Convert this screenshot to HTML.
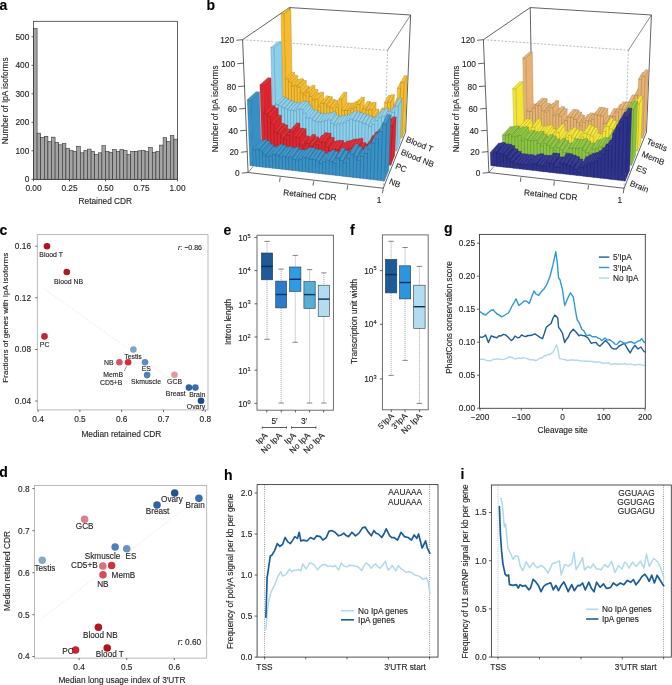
<!DOCTYPE html>
<html><head><meta charset="utf-8"><style>
html,body{margin:0;padding:0;background:#fff;}
svg{display:block;font-family:"Liberation Sans", sans-serif;will-change:transform;}
text{stroke:#231f20;stroke-width:0.13px;}
</style></head><body>
<svg width="672" height="685" viewBox="0 0 672 685">
<rect width="672" height="685" fill="#fff"/>
<text x="-0.50" y="10.20" font-size="14" text-anchor="start" fill="#000" font-weight="bold">a</text>
<rect x="33.50" y="28.25" width="3.60" height="151.05" fill="#a3a3a3" stroke="#2b2b2b" stroke-width="0.55"/>
<rect x="37.10" y="133.13" width="3.60" height="46.17" fill="#a3a3a3" stroke="#2b2b2b" stroke-width="0.55"/>
<rect x="40.70" y="137.41" width="3.60" height="41.89" fill="#a3a3a3" stroke="#2b2b2b" stroke-width="0.55"/>
<rect x="44.30" y="136.27" width="3.60" height="43.03" fill="#a3a3a3" stroke="#2b2b2b" stroke-width="0.55"/>
<rect x="47.90" y="141.40" width="3.60" height="37.90" fill="#a3a3a3" stroke="#2b2b2b" stroke-width="0.55"/>
<rect x="51.50" y="137.12" width="3.60" height="42.18" fill="#a3a3a3" stroke="#2b2b2b" stroke-width="0.55"/>
<rect x="55.10" y="142.25" width="3.60" height="37.05" fill="#a3a3a3" stroke="#2b2b2b" stroke-width="0.55"/>
<rect x="58.70" y="144.81" width="3.60" height="34.48" fill="#a3a3a3" stroke="#2b2b2b" stroke-width="0.55"/>
<rect x="62.30" y="143.39" width="3.60" height="35.91" fill="#a3a3a3" stroke="#2b2b2b" stroke-width="0.55"/>
<rect x="65.90" y="148.24" width="3.60" height="31.06" fill="#a3a3a3" stroke="#2b2b2b" stroke-width="0.55"/>
<rect x="69.50" y="150.52" width="3.60" height="28.78" fill="#a3a3a3" stroke="#2b2b2b" stroke-width="0.55"/>
<rect x="73.10" y="151.37" width="3.60" height="27.93" fill="#a3a3a3" stroke="#2b2b2b" stroke-width="0.55"/>
<rect x="76.70" y="146.24" width="3.60" height="33.06" fill="#a3a3a3" stroke="#2b2b2b" stroke-width="0.55"/>
<rect x="80.30" y="152.80" width="3.60" height="26.50" fill="#a3a3a3" stroke="#2b2b2b" stroke-width="0.55"/>
<rect x="83.90" y="150.52" width="3.60" height="28.78" fill="#a3a3a3" stroke="#2b2b2b" stroke-width="0.55"/>
<rect x="87.50" y="149.09" width="3.60" height="30.21" fill="#a3a3a3" stroke="#2b2b2b" stroke-width="0.55"/>
<rect x="91.10" y="151.37" width="3.60" height="27.93" fill="#a3a3a3" stroke="#2b2b2b" stroke-width="0.55"/>
<rect x="94.70" y="154.51" width="3.60" height="24.79" fill="#a3a3a3" stroke="#2b2b2b" stroke-width="0.55"/>
<rect x="98.30" y="152.80" width="3.60" height="26.50" fill="#a3a3a3" stroke="#2b2b2b" stroke-width="0.55"/>
<rect x="101.90" y="145.67" width="3.60" height="33.63" fill="#a3a3a3" stroke="#2b2b2b" stroke-width="0.55"/>
<rect x="105.50" y="151.37" width="3.60" height="27.93" fill="#a3a3a3" stroke="#2b2b2b" stroke-width="0.55"/>
<rect x="109.10" y="152.23" width="3.60" height="27.07" fill="#a3a3a3" stroke="#2b2b2b" stroke-width="0.55"/>
<rect x="112.70" y="149.52" width="3.60" height="29.78" fill="#a3a3a3" stroke="#2b2b2b" stroke-width="0.55"/>
<rect x="116.30" y="151.37" width="3.60" height="27.93" fill="#a3a3a3" stroke="#2b2b2b" stroke-width="0.55"/>
<rect x="119.90" y="149.52" width="3.60" height="29.78" fill="#a3a3a3" stroke="#2b2b2b" stroke-width="0.55"/>
<rect x="123.50" y="150.52" width="3.60" height="28.78" fill="#a3a3a3" stroke="#2b2b2b" stroke-width="0.55"/>
<rect x="127.10" y="154.51" width="3.60" height="24.79" fill="#a3a3a3" stroke="#2b2b2b" stroke-width="0.55"/>
<rect x="130.70" y="151.37" width="3.60" height="27.93" fill="#a3a3a3" stroke="#2b2b2b" stroke-width="0.55"/>
<rect x="134.30" y="151.37" width="3.60" height="27.93" fill="#a3a3a3" stroke="#2b2b2b" stroke-width="0.55"/>
<rect x="137.90" y="150.80" width="3.60" height="28.50" fill="#a3a3a3" stroke="#2b2b2b" stroke-width="0.55"/>
<rect x="141.50" y="150.52" width="3.60" height="28.78" fill="#a3a3a3" stroke="#2b2b2b" stroke-width="0.55"/>
<rect x="145.10" y="151.66" width="3.60" height="27.64" fill="#a3a3a3" stroke="#2b2b2b" stroke-width="0.55"/>
<rect x="148.70" y="147.49" width="3.60" height="31.81" fill="#a3a3a3" stroke="#2b2b2b" stroke-width="0.55"/>
<rect x="152.30" y="152.23" width="3.60" height="27.07" fill="#a3a3a3" stroke="#2b2b2b" stroke-width="0.55"/>
<rect x="155.90" y="151.37" width="3.60" height="27.93" fill="#a3a3a3" stroke="#2b2b2b" stroke-width="0.55"/>
<rect x="159.50" y="145.10" width="3.60" height="34.20" fill="#a3a3a3" stroke="#2b2b2b" stroke-width="0.55"/>
<rect x="163.10" y="137.69" width="3.60" height="41.61" fill="#a3a3a3" stroke="#2b2b2b" stroke-width="0.55"/>
<rect x="166.70" y="141.40" width="3.60" height="37.90" fill="#a3a3a3" stroke="#2b2b2b" stroke-width="0.55"/>
<rect x="170.30" y="135.41" width="3.60" height="43.89" fill="#a3a3a3" stroke="#2b2b2b" stroke-width="0.55"/>
<rect x="173.90" y="139.12" width="3.60" height="40.18" fill="#a3a3a3" stroke="#2b2b2b" stroke-width="0.55"/>
<rect x="33.50" y="21.30" width="144.00" height="158.00" fill="none" stroke="#3c3c3c" stroke-width="0.8"/>
<line x1="31.50" y1="179.30" x2="33.50" y2="179.30" stroke="#3c3c3c" stroke-width="0.8" stroke-linecap="butt"/>
<text x="29.30" y="182.20" font-size="8.3" text-anchor="end" fill="#231f20" font-weight="normal">0</text>
<line x1="31.50" y1="150.80" x2="33.50" y2="150.80" stroke="#3c3c3c" stroke-width="0.8" stroke-linecap="butt"/>
<text x="29.30" y="153.70" font-size="8.3" text-anchor="end" fill="#231f20" font-weight="normal">100</text>
<line x1="31.50" y1="122.30" x2="33.50" y2="122.30" stroke="#3c3c3c" stroke-width="0.8" stroke-linecap="butt"/>
<text x="29.30" y="125.20" font-size="8.3" text-anchor="end" fill="#231f20" font-weight="normal">200</text>
<line x1="31.50" y1="93.80" x2="33.50" y2="93.80" stroke="#3c3c3c" stroke-width="0.8" stroke-linecap="butt"/>
<text x="29.30" y="96.70" font-size="8.3" text-anchor="end" fill="#231f20" font-weight="normal">300</text>
<line x1="31.50" y1="65.30" x2="33.50" y2="65.30" stroke="#3c3c3c" stroke-width="0.8" stroke-linecap="butt"/>
<text x="29.30" y="68.20" font-size="8.3" text-anchor="end" fill="#231f20" font-weight="normal">400</text>
<line x1="31.50" y1="36.80" x2="33.50" y2="36.80" stroke="#3c3c3c" stroke-width="0.8" stroke-linecap="butt"/>
<text x="29.30" y="39.70" font-size="8.3" text-anchor="end" fill="#231f20" font-weight="normal">500</text>
<line x1="33.50" y1="179.30" x2="33.50" y2="181.30" stroke="#3c3c3c" stroke-width="0.8" stroke-linecap="butt"/>
<text x="33.50" y="190.90" font-size="8.3" text-anchor="middle" fill="#231f20" font-weight="normal">0.00</text>
<line x1="69.50" y1="179.30" x2="69.50" y2="181.30" stroke="#3c3c3c" stroke-width="0.8" stroke-linecap="butt"/>
<text x="69.50" y="190.90" font-size="8.3" text-anchor="middle" fill="#231f20" font-weight="normal">0.25</text>
<line x1="105.50" y1="179.30" x2="105.50" y2="181.30" stroke="#3c3c3c" stroke-width="0.8" stroke-linecap="butt"/>
<text x="105.50" y="190.90" font-size="8.3" text-anchor="middle" fill="#231f20" font-weight="normal">0.50</text>
<line x1="141.50" y1="179.30" x2="141.50" y2="181.30" stroke="#3c3c3c" stroke-width="0.8" stroke-linecap="butt"/>
<text x="141.50" y="190.90" font-size="8.3" text-anchor="middle" fill="#231f20" font-weight="normal">0.75</text>
<line x1="177.50" y1="179.30" x2="177.50" y2="181.30" stroke="#3c3c3c" stroke-width="0.8" stroke-linecap="butt"/>
<text x="177.50" y="190.90" font-size="8.3" text-anchor="middle" fill="#231f20" font-weight="normal">1.00</text>
<text x="105.30" y="203.60" font-size="8.3" text-anchor="middle" fill="#231f20" font-weight="normal">Retained CDR</text>
<text x="7.60" y="100.80" font-size="8.3" text-anchor="middle" fill="#231f20" font-weight="normal" transform="rotate(-90 7.60 100.80)">Number of IpA isoforms</text>
<text x="206.50" y="9.80" font-size="14" text-anchor="start" fill="#000" font-weight="bold">b</text>
<line x1="289.44" y1="7.57" x2="410.62" y2="14.99" stroke="#3c3c3c" stroke-width="0.8" stroke-linecap="butt"/>
<line x1="242.59" y1="39.68" x2="289.44" y2="7.57" stroke="#3c3c3c" stroke-width="0.8" stroke-linecap="butt"/>
<line x1="410.62" y1="14.99" x2="405.66" y2="132.03" stroke="#3c3c3c" stroke-width="0.8" stroke-linecap="butt"/>
<line x1="289.44" y1="7.57" x2="291.43" y2="120.83" stroke="#3c3c3c" stroke-width="0.8" stroke-linecap="butt"/>
<line x1="242.59" y1="39.68" x2="387.60" y2="50.24" stroke="#8a8a8a" stroke-width="0.6" stroke-dasharray="2,1.6" stroke-linecap="butt"/>
<line x1="387.60" y1="50.24" x2="383.25" y2="188.26" stroke="#8a8a8a" stroke-width="0.6" stroke-dasharray="2,1.6" stroke-linecap="butt"/>
<line x1="387.60" y1="50.24" x2="410.62" y2="14.99" stroke="#3c3c3c" stroke-width="0.6" stroke-linecap="butt"/>
<polygon points="286.29,126.59 292.68,118.99 290.81,8.83 283.99,13.56" fill="#f6bc2c" stroke="#99751b" stroke-width="0.32" stroke-linejoin="round"/>
<polygon points="283.44,126.31 286.29,126.59 283.99,13.56 280.97,13.37" fill="#f6bd30" stroke="#99751b" stroke-width="0.32" stroke-linejoin="round"/>
<polygon points="280.97,13.37 283.99,13.56 290.81,8.83 287.87,8.64" fill="#f7c039" stroke="#99751b" stroke-width="0.32" stroke-linejoin="round"/>
<polygon points="289.15,126.88 295.46,119.26 294.73,72.46 288.24,78.91" fill="#f6bc2c" stroke="#99751b" stroke-width="0.32" stroke-linejoin="round"/>
<polygon points="286.29,126.59 289.15,126.88 288.24,78.91 285.32,78.66" fill="#f6bd30" stroke="#99751b" stroke-width="0.32" stroke-linejoin="round"/>
<polygon points="285.32,78.66 288.24,78.91 294.73,72.46 291.88,72.23" fill="#f7c039" stroke="#99751b" stroke-width="0.32" stroke-linejoin="round"/>
<polygon points="292.01,127.16 298.25,119.53 297.63,75.53 291.23,82.06" fill="#f6bc2c" stroke="#99751b" stroke-width="0.32" stroke-linejoin="round"/>
<polygon points="289.15,126.88 292.01,127.16 291.23,82.06 288.30,81.81" fill="#f6bd30" stroke="#99751b" stroke-width="0.32" stroke-linejoin="round"/>
<polygon points="288.30,81.81 291.23,82.06 297.63,75.53 294.78,75.29" fill="#f7c039" stroke="#99751b" stroke-width="0.32" stroke-linejoin="round"/>
<polygon points="294.88,127.45 301.04,119.80 300.53,79.54 294.22,86.18" fill="#f6bc2c" stroke="#99751b" stroke-width="0.32" stroke-linejoin="round"/>
<polygon points="292.01,127.16 294.88,127.45 294.22,86.18 291.29,85.93" fill="#f6bd30" stroke="#99751b" stroke-width="0.32" stroke-linejoin="round"/>
<polygon points="291.29,85.93 294.22,86.18 300.53,79.54 297.68,79.30" fill="#f7c039" stroke="#99751b" stroke-width="0.32" stroke-linejoin="round"/>
<polygon points="297.75,127.74 303.84,120.08 303.38,78.84 297.14,85.47" fill="#f6bc2c" stroke="#99751b" stroke-width="0.32" stroke-linejoin="round"/>
<polygon points="294.88,127.45 297.75,127.74 297.14,85.47 294.21,85.21" fill="#f6bd30" stroke="#99751b" stroke-width="0.32" stroke-linejoin="round"/>
<polygon points="294.21,85.21 297.14,85.47 303.38,78.84 300.52,78.60" fill="#f7c039" stroke="#99751b" stroke-width="0.32" stroke-linejoin="round"/>
<polygon points="300.63,128.02 306.64,120.35 306.26,80.49 300.10,87.17" fill="#f6bc2c" stroke="#99751b" stroke-width="0.32" stroke-linejoin="round"/>
<polygon points="297.75,127.74 300.63,128.02 300.10,87.17 297.16,86.92" fill="#f6bd30" stroke="#99751b" stroke-width="0.32" stroke-linejoin="round"/>
<polygon points="297.16,86.92 300.10,87.17 306.26,80.49 303.40,80.25" fill="#f7c039" stroke="#99751b" stroke-width="0.32" stroke-linejoin="round"/>
<polygon points="303.51,128.31 309.45,120.62 309.17,86.09 303.11,92.92" fill="#f6bc2c" stroke="#99751b" stroke-width="0.32" stroke-linejoin="round"/>
<polygon points="300.63,128.02 303.51,128.31 303.11,92.92 300.17,92.66" fill="#f6bd30" stroke="#99751b" stroke-width="0.32" stroke-linejoin="round"/>
<polygon points="300.17,92.66 303.11,92.92 309.17,86.09 306.31,85.85" fill="#f7c039" stroke="#99751b" stroke-width="0.32" stroke-linejoin="round"/>
<polygon points="306.40,128.60 312.26,120.90 312.04,88.03 306.07,94.91" fill="#f6bc2c" stroke="#99751b" stroke-width="0.32" stroke-linejoin="round"/>
<polygon points="303.51,128.31 306.40,128.60 306.07,94.91 303.13,94.65" fill="#f6bd30" stroke="#99751b" stroke-width="0.32" stroke-linejoin="round"/>
<polygon points="303.13,94.65 306.07,94.91 312.04,88.03 309.18,87.78" fill="#f7c039" stroke="#99751b" stroke-width="0.32" stroke-linejoin="round"/>
<polygon points="309.29,128.89 315.08,121.17 314.89,85.46 308.99,92.29" fill="#f6bc2c" stroke="#99751b" stroke-width="0.32" stroke-linejoin="round"/>
<polygon points="306.40,128.60 309.29,128.89 308.99,92.29 306.04,92.03" fill="#f6bd30" stroke="#99751b" stroke-width="0.32" stroke-linejoin="round"/>
<polygon points="306.04,92.03 308.99,92.29 314.89,85.46 312.02,85.21" fill="#f7c039" stroke="#99751b" stroke-width="0.32" stroke-linejoin="round"/>
<polygon points="312.19,129.18 317.91,121.45 317.78,89.46 311.97,96.40" fill="#f6bc2c" stroke="#99751b" stroke-width="0.32" stroke-linejoin="round"/>
<polygon points="309.29,128.89 312.19,129.18 311.97,96.40 309.02,96.14" fill="#f6bd30" stroke="#99751b" stroke-width="0.32" stroke-linejoin="round"/>
<polygon points="309.02,96.14 311.97,96.40 317.78,89.46 314.91,89.21" fill="#f7c039" stroke="#99751b" stroke-width="0.32" stroke-linejoin="round"/>
<polygon points="315.09,129.47 320.73,121.72 320.67,92.99 314.94,100.02" fill="#f6bc2c" stroke="#99751b" stroke-width="0.32" stroke-linejoin="round"/>
<polygon points="312.19,129.18 315.09,129.47 314.94,100.02 311.99,99.76" fill="#f6bd30" stroke="#99751b" stroke-width="0.32" stroke-linejoin="round"/>
<polygon points="311.99,99.76 314.94,100.02 320.67,92.99 317.80,92.74" fill="#f7c039" stroke="#99751b" stroke-width="0.32" stroke-linejoin="round"/>
<polygon points="318.00,129.76 323.57,122.00 323.54,92.21 317.89,99.24" fill="#f6bc2c" stroke="#99751b" stroke-width="0.32" stroke-linejoin="round"/>
<polygon points="315.09,129.47 318.00,129.76 317.89,99.24 314.93,98.97" fill="#f6bd30" stroke="#99751b" stroke-width="0.32" stroke-linejoin="round"/>
<polygon points="314.93,98.97 317.89,99.24 323.54,92.21 320.67,91.96" fill="#f7c039" stroke="#99751b" stroke-width="0.32" stroke-linejoin="round"/>
<polygon points="320.92,130.06 326.41,122.27 326.42,99.56 320.87,106.78" fill="#f6bc2c" stroke="#99751b" stroke-width="0.32" stroke-linejoin="round"/>
<polygon points="318.00,129.76 320.92,130.06 320.87,106.78 317.92,106.51" fill="#f6bd30" stroke="#99751b" stroke-width="0.32" stroke-linejoin="round"/>
<polygon points="317.92,106.51 320.87,106.78 326.42,99.56 323.55,99.30" fill="#f7c039" stroke="#99751b" stroke-width="0.32" stroke-linejoin="round"/>
<polygon points="323.84,130.35 329.25,122.55 329.31,96.09 323.82,103.23" fill="#f6bc2c" stroke="#99751b" stroke-width="0.32" stroke-linejoin="round"/>
<polygon points="320.92,130.06 323.84,130.35 323.82,103.23 320.86,102.96" fill="#f6bd30" stroke="#99751b" stroke-width="0.32" stroke-linejoin="round"/>
<polygon points="320.86,102.96 323.82,103.23 329.31,96.09 326.43,95.83" fill="#f7c039" stroke="#99751b" stroke-width="0.32" stroke-linejoin="round"/>
<polygon points="326.77,130.64 332.10,122.83 332.20,96.72 326.79,103.88" fill="#f6bc2c" stroke="#99751b" stroke-width="0.32" stroke-linejoin="round"/>
<polygon points="323.84,130.35 326.77,130.64 326.79,103.88 323.82,103.61" fill="#f6bd30" stroke="#99751b" stroke-width="0.32" stroke-linejoin="round"/>
<polygon points="323.82,103.61 326.79,103.88 332.20,96.72 329.31,96.46" fill="#f7c039" stroke="#99751b" stroke-width="0.32" stroke-linejoin="round"/>
<polygon points="329.70,130.93 334.96,123.11 335.08,99.41 329.76,106.65" fill="#f6bc2c" stroke="#99751b" stroke-width="0.32" stroke-linejoin="round"/>
<polygon points="326.77,130.64 329.70,130.93 329.76,106.65 326.79,106.37" fill="#f6bd30" stroke="#99751b" stroke-width="0.32" stroke-linejoin="round"/>
<polygon points="326.79,106.37 329.76,106.65 335.08,99.41 332.19,99.15" fill="#f7c039" stroke="#99751b" stroke-width="0.32" stroke-linejoin="round"/>
<polygon points="332.64,131.23 337.82,123.38 337.97,100.60 332.73,107.88" fill="#f6bc2c" stroke="#99751b" stroke-width="0.32" stroke-linejoin="round"/>
<polygon points="329.70,130.93 332.64,131.23 332.73,107.88 329.76,107.60" fill="#f6bd30" stroke="#99751b" stroke-width="0.32" stroke-linejoin="round"/>
<polygon points="329.76,107.60 332.73,107.88 337.97,100.60 335.07,100.34" fill="#f7c039" stroke="#99751b" stroke-width="0.32" stroke-linejoin="round"/>
<polygon points="335.58,131.52 340.68,123.66 340.82,107.01 335.67,114.45" fill="#f6bc2c" stroke="#99751b" stroke-width="0.32" stroke-linejoin="round"/>
<polygon points="332.64,131.23 335.58,131.52 335.67,114.45 332.70,114.17" fill="#f6bd30" stroke="#99751b" stroke-width="0.32" stroke-linejoin="round"/>
<polygon points="332.70,114.17 335.67,114.45 340.82,107.01 337.93,106.74" fill="#f7c039" stroke="#99751b" stroke-width="0.32" stroke-linejoin="round"/>
<polygon points="338.53,131.82 343.55,123.94 343.78,100.19 338.70,107.47" fill="#f6bc2c" stroke="#99751b" stroke-width="0.32" stroke-linejoin="round"/>
<polygon points="335.58,131.52 338.53,131.82 338.70,107.47 335.71,107.20" fill="#f6bd30" stroke="#99751b" stroke-width="0.32" stroke-linejoin="round"/>
<polygon points="335.71,107.20 338.70,107.47 343.78,100.19 340.87,99.93" fill="#f7c039" stroke="#99751b" stroke-width="0.32" stroke-linejoin="round"/>
<polygon points="341.48,132.11 346.43,124.22 346.78,92.27 341.76,99.36" fill="#f6bc2c" stroke="#99751b" stroke-width="0.32" stroke-linejoin="round"/>
<polygon points="338.53,131.82 341.48,132.11 341.76,99.36 338.76,99.09" fill="#f6bd30" stroke="#99751b" stroke-width="0.32" stroke-linejoin="round"/>
<polygon points="338.76,99.09 341.76,99.36 346.78,92.27 343.86,92.02" fill="#f7c039" stroke="#99751b" stroke-width="0.32" stroke-linejoin="round"/>
<polygon points="344.44,132.41 349.31,124.50 349.58,102.96 344.67,110.33" fill="#f6bc2c" stroke="#99751b" stroke-width="0.32" stroke-linejoin="round"/>
<polygon points="341.48,132.11 344.44,132.41 344.67,110.33 341.67,110.05" fill="#f6bd30" stroke="#99751b" stroke-width="0.32" stroke-linejoin="round"/>
<polygon points="341.67,110.05 344.67,110.33 349.58,102.96 346.67,102.70" fill="#f7c039" stroke="#99751b" stroke-width="0.32" stroke-linejoin="round"/>
<polygon points="347.41,132.71 352.19,124.78 352.50,103.22 347.67,110.61" fill="#f6bc2c" stroke="#99751b" stroke-width="0.32" stroke-linejoin="round"/>
<polygon points="344.44,132.41 347.41,132.71 347.67,110.61 344.67,110.33" fill="#f6bd30" stroke="#99751b" stroke-width="0.32" stroke-linejoin="round"/>
<polygon points="344.67,110.33 347.67,110.61 352.50,103.22 349.58,102.96" fill="#f7c039" stroke="#99751b" stroke-width="0.32" stroke-linejoin="round"/>
<polygon points="350.38,133.00 355.09,125.07 355.43,103.11 350.68,110.50" fill="#f6bc2c" stroke="#99751b" stroke-width="0.32" stroke-linejoin="round"/>
<polygon points="347.41,132.71 350.38,133.00 350.68,110.50 347.67,110.22" fill="#f6bd30" stroke="#99751b" stroke-width="0.32" stroke-linejoin="round"/>
<polygon points="347.67,110.22 350.68,110.50 355.43,103.11 352.51,102.85" fill="#f7c039" stroke="#99751b" stroke-width="0.32" stroke-linejoin="round"/>
<polygon points="353.35,133.30 357.98,125.35 358.39,101.50 353.72,108.86" fill="#f6bc2c" stroke="#99751b" stroke-width="0.32" stroke-linejoin="round"/>
<polygon points="350.38,133.00 353.35,133.30 353.72,108.86 350.70,108.58" fill="#f6bd30" stroke="#99751b" stroke-width="0.32" stroke-linejoin="round"/>
<polygon points="350.70,108.58 353.72,108.86 358.39,101.50 355.46,101.24" fill="#f7c039" stroke="#99751b" stroke-width="0.32" stroke-linejoin="round"/>
<polygon points="356.34,133.60 360.89,125.63 361.37,99.88 356.77,107.20" fill="#f6bc2c" stroke="#99751b" stroke-width="0.32" stroke-linejoin="round"/>
<polygon points="353.35,133.30 356.34,133.60 356.77,107.20 353.75,106.93" fill="#f6bd30" stroke="#99751b" stroke-width="0.32" stroke-linejoin="round"/>
<polygon points="353.75,106.93 356.77,107.20 361.37,99.88 358.43,99.62" fill="#f7c039" stroke="#99751b" stroke-width="0.32" stroke-linejoin="round"/>
<polygon points="359.32,133.90 363.79,125.91 364.37,97.31 359.85,104.58" fill="#f6bc2c" stroke="#99751b" stroke-width="0.32" stroke-linejoin="round"/>
<polygon points="356.34,133.60 359.32,133.90 359.85,104.58 356.82,104.30" fill="#f6bd30" stroke="#99751b" stroke-width="0.32" stroke-linejoin="round"/>
<polygon points="356.82,104.30 359.85,104.58 364.37,97.31 361.42,97.05" fill="#f7c039" stroke="#99751b" stroke-width="0.32" stroke-linejoin="round"/>
<polygon points="362.32,134.20 366.71,126.20 367.13,106.99 362.70,114.51" fill="#f6bc2c" stroke="#99751b" stroke-width="0.32" stroke-linejoin="round"/>
<polygon points="359.32,133.90 362.32,134.20 362.70,114.51 359.68,114.23" fill="#f6bd30" stroke="#99751b" stroke-width="0.32" stroke-linejoin="round"/>
<polygon points="359.68,114.23 362.70,114.51 367.13,106.99 364.18,106.72" fill="#f7c039" stroke="#99751b" stroke-width="0.32" stroke-linejoin="round"/>
<polygon points="365.32,134.50 369.63,126.48 370.21,101.62 365.86,109.01" fill="#f6bc2c" stroke="#99751b" stroke-width="0.32" stroke-linejoin="round"/>
<polygon points="362.32,134.20 365.32,134.50 365.86,109.01 362.82,108.73" fill="#f6bd30" stroke="#99751b" stroke-width="0.32" stroke-linejoin="round"/>
<polygon points="362.82,108.73 365.86,109.01 370.21,101.62 367.25,101.35" fill="#f7c039" stroke="#99751b" stroke-width="0.32" stroke-linejoin="round"/>
<polygon points="368.32,134.80 372.55,126.77 373.15,102.83 368.88,110.26" fill="#f6bc2c" stroke="#99751b" stroke-width="0.32" stroke-linejoin="round"/>
<polygon points="365.32,134.50 368.32,134.80 368.88,110.26 365.84,109.97" fill="#f6bd30" stroke="#99751b" stroke-width="0.32" stroke-linejoin="round"/>
<polygon points="365.84,109.97 368.88,110.26 373.15,102.83 370.18,102.56" fill="#f7c039" stroke="#99751b" stroke-width="0.32" stroke-linejoin="round"/>
<polygon points="371.33,135.10 375.48,127.05 376.13,102.43 371.95,109.86" fill="#f6bc2c" stroke="#99751b" stroke-width="0.32" stroke-linejoin="round"/>
<polygon points="368.32,134.80 371.33,135.10 371.95,109.86 368.90,109.58" fill="#f6bd30" stroke="#99751b" stroke-width="0.32" stroke-linejoin="round"/>
<polygon points="368.90,109.58 371.95,109.86 376.13,102.43 373.16,102.17" fill="#f7c039" stroke="#99751b" stroke-width="0.32" stroke-linejoin="round"/>
<polygon points="374.35,135.40 378.41,127.34 378.92,109.29 374.83,116.90" fill="#f6bc2c" stroke="#99751b" stroke-width="0.32" stroke-linejoin="round"/>
<polygon points="371.33,135.10 374.35,135.40 374.83,116.90 371.78,116.62" fill="#f6bd30" stroke="#99751b" stroke-width="0.32" stroke-linejoin="round"/>
<polygon points="371.78,116.62 374.83,116.90 378.92,109.29 375.96,109.02" fill="#f7c039" stroke="#99751b" stroke-width="0.32" stroke-linejoin="round"/>
<polygon points="377.37,135.70 381.35,127.62 381.71,115.56 377.71,123.34" fill="#f6bc2c" stroke="#99751b" stroke-width="0.32" stroke-linejoin="round"/>
<polygon points="374.35,135.40 377.37,135.70 377.71,123.34 374.67,123.05" fill="#f6bd30" stroke="#99751b" stroke-width="0.32" stroke-linejoin="round"/>
<polygon points="374.67,123.05 377.71,123.34 381.71,115.56 378.75,115.28" fill="#f7c039" stroke="#99751b" stroke-width="0.32" stroke-linejoin="round"/>
<polygon points="380.40,136.01 384.30,127.91 384.92,108.05 380.99,115.64" fill="#f6bc2c" stroke="#99751b" stroke-width="0.32" stroke-linejoin="round"/>
<polygon points="377.37,135.70 380.40,136.01 380.99,115.64 377.93,115.36" fill="#f6bd30" stroke="#99751b" stroke-width="0.32" stroke-linejoin="round"/>
<polygon points="377.93,115.36 380.99,115.64 384.92,108.05 381.94,107.78" fill="#f7c039" stroke="#99751b" stroke-width="0.32" stroke-linejoin="round"/>
<polygon points="383.44,136.31 387.25,128.20 387.90,108.32 384.06,115.93" fill="#f6bc2c" stroke="#99751b" stroke-width="0.32" stroke-linejoin="round"/>
<polygon points="380.40,136.01 383.44,136.31 384.06,115.93 380.99,115.64" fill="#f6bd30" stroke="#99751b" stroke-width="0.32" stroke-linejoin="round"/>
<polygon points="380.99,115.64 384.06,115.93 387.90,108.32 384.92,108.05" fill="#f7c039" stroke="#99751b" stroke-width="0.32" stroke-linejoin="round"/>
<polygon points="386.48,136.61 390.21,128.49 391.33,95.58 387.57,102.87" fill="#f6bc2c" stroke="#99751b" stroke-width="0.32" stroke-linejoin="round"/>
<polygon points="383.44,136.31 386.48,136.61 387.57,102.87 384.47,102.59" fill="#f6bd30" stroke="#99751b" stroke-width="0.32" stroke-linejoin="round"/>
<polygon points="384.47,102.59 387.57,102.87 391.33,95.58 388.32,95.32" fill="#f7c039" stroke="#99751b" stroke-width="0.32" stroke-linejoin="round"/>
<polygon points="389.52,136.92 393.17,128.77 394.38,94.79 390.70,102.06" fill="#f6bc2c" stroke="#99751b" stroke-width="0.32" stroke-linejoin="round"/>
<polygon points="386.48,136.61 389.52,136.92 390.70,102.06 387.60,101.79" fill="#f6bd30" stroke="#99751b" stroke-width="0.32" stroke-linejoin="round"/>
<polygon points="387.60,101.79 390.70,102.06 394.38,94.79 391.37,94.52" fill="#f7c039" stroke="#99751b" stroke-width="0.32" stroke-linejoin="round"/>
<polygon points="392.57,137.22 396.14,129.06 396.82,110.65 393.24,118.35" fill="#f6bc2c" stroke="#99751b" stroke-width="0.32" stroke-linejoin="round"/>
<polygon points="389.52,136.92 392.57,137.22 393.24,118.35 390.16,118.06" fill="#f6bd30" stroke="#99751b" stroke-width="0.32" stroke-linejoin="round"/>
<polygon points="390.16,118.06 393.24,118.35 396.82,110.65 393.83,110.38" fill="#f7c039" stroke="#99751b" stroke-width="0.32" stroke-linejoin="round"/>
<polygon points="395.63,137.53 399.11,129.35 400.33,97.99 396.83,105.37" fill="#f6bc2c" stroke="#99751b" stroke-width="0.32" stroke-linejoin="round"/>
<polygon points="392.57,137.22 395.63,137.53 396.83,105.37 393.72,105.09" fill="#f6bd30" stroke="#99751b" stroke-width="0.32" stroke-linejoin="round"/>
<polygon points="393.72,105.09 396.83,105.37 400.33,97.99 397.31,97.73" fill="#f7c039" stroke="#99751b" stroke-width="0.32" stroke-linejoin="round"/>
<polygon points="398.69,137.84 402.09,129.64 404.04,81.44 400.61,88.40" fill="#f6bc2c" stroke="#99751b" stroke-width="0.32" stroke-linejoin="round"/>
<polygon points="395.63,137.53 398.69,137.84 400.61,88.40 397.47,88.13" fill="#f6bd30" stroke="#99751b" stroke-width="0.32" stroke-linejoin="round"/>
<polygon points="397.47,88.13 400.61,88.40 404.04,81.44 400.98,81.19" fill="#f7c039" stroke="#99751b" stroke-width="0.32" stroke-linejoin="round"/>
<polygon points="401.76,138.14 405.08,129.93 407.35,75.83 404.01,82.64" fill="#f6bc2c" stroke="#99751b" stroke-width="0.32" stroke-linejoin="round"/>
<polygon points="398.69,137.84 401.76,138.14 404.01,82.64 400.85,82.37" fill="#f6bd30" stroke="#99751b" stroke-width="0.32" stroke-linejoin="round"/>
<polygon points="400.85,82.37 404.01,82.64 407.35,75.83 404.28,75.58" fill="#f7c039" stroke="#99751b" stroke-width="0.32" stroke-linejoin="round"/>
<polygon points="276.22,138.59 283.16,130.32 281.21,41.77 273.87,47.69" fill="#89d0ee" stroke="#558194" stroke-width="0.32" stroke-linejoin="round"/>
<polygon points="273.25,138.28 276.22,138.59 273.87,47.69 270.77,47.45" fill="#8bd1ee" stroke="#558194" stroke-width="0.32" stroke-linejoin="round"/>
<polygon points="270.77,47.45 273.87,47.69 281.21,41.77 278.19,41.55" fill="#90d3ef" stroke="#558194" stroke-width="0.32" stroke-linejoin="round"/>
<polygon points="279.19,138.90 286.05,130.61 285.37,97.17 278.36,104.60" fill="#89d0ee" stroke="#558194" stroke-width="0.32" stroke-linejoin="round"/>
<polygon points="276.22,138.59 279.19,138.90 278.36,104.60 275.33,104.32" fill="#8bd1ee" stroke="#558194" stroke-width="0.32" stroke-linejoin="round"/>
<polygon points="275.33,104.32 278.36,104.60 285.37,97.17 282.42,96.91" fill="#90d3ef" stroke="#558194" stroke-width="0.32" stroke-linejoin="round"/>
<polygon points="282.16,139.21 288.95,130.91 288.33,98.31 281.41,105.77" fill="#89d0ee" stroke="#558194" stroke-width="0.32" stroke-linejoin="round"/>
<polygon points="279.19,138.90 282.16,139.21 281.41,105.77 278.38,105.49" fill="#8bd1ee" stroke="#558194" stroke-width="0.32" stroke-linejoin="round"/>
<polygon points="278.38,105.49 281.41,105.77 288.33,98.31 285.38,98.04" fill="#90d3ef" stroke="#558194" stroke-width="0.32" stroke-linejoin="round"/>
<polygon points="285.15,139.52 291.85,131.20 291.31,100.12 284.47,107.64" fill="#89d0ee" stroke="#558194" stroke-width="0.32" stroke-linejoin="round"/>
<polygon points="282.16,139.21 285.15,139.52 284.47,107.64 281.44,107.36" fill="#8bd1ee" stroke="#558194" stroke-width="0.32" stroke-linejoin="round"/>
<polygon points="281.44,107.36 284.47,107.64 291.31,100.12 288.36,99.85" fill="#90d3ef" stroke="#558194" stroke-width="0.32" stroke-linejoin="round"/>
<polygon points="288.14,139.83 294.76,131.50 294.28,101.36 287.53,108.92" fill="#89d0ee" stroke="#558194" stroke-width="0.32" stroke-linejoin="round"/>
<polygon points="285.15,139.52 288.14,139.83 287.53,108.92 284.50,108.63" fill="#8bd1ee" stroke="#558194" stroke-width="0.32" stroke-linejoin="round"/>
<polygon points="284.50,108.63 287.53,108.92 294.28,101.36 291.33,101.09" fill="#90d3ef" stroke="#558194" stroke-width="0.32" stroke-linejoin="round"/>
<polygon points="291.13,140.14 297.68,131.79 297.25,102.60 290.59,110.20" fill="#89d0ee" stroke="#558194" stroke-width="0.32" stroke-linejoin="round"/>
<polygon points="288.14,139.83 291.13,140.14 290.59,110.20 287.55,109.91" fill="#8bd1ee" stroke="#558194" stroke-width="0.32" stroke-linejoin="round"/>
<polygon points="287.55,109.91 290.59,110.20 297.25,102.60 294.30,102.32" fill="#90d3ef" stroke="#558194" stroke-width="0.32" stroke-linejoin="round"/>
<polygon points="294.13,140.46 300.59,132.09 300.22,102.87 293.64,110.49" fill="#89d0ee" stroke="#558194" stroke-width="0.32" stroke-linejoin="round"/>
<polygon points="291.13,140.14 294.13,140.46 293.64,110.49 290.59,110.20" fill="#8bd1ee" stroke="#558194" stroke-width="0.32" stroke-linejoin="round"/>
<polygon points="290.59,110.20 293.64,110.49 300.22,102.87 297.25,102.60" fill="#90d3ef" stroke="#558194" stroke-width="0.32" stroke-linejoin="round"/>
<polygon points="297.14,140.77 303.52,132.38 303.19,103.14 296.69,110.78" fill="#89d0ee" stroke="#558194" stroke-width="0.32" stroke-linejoin="round"/>
<polygon points="294.13,140.46 297.14,140.77 296.69,110.78 293.64,110.49" fill="#8bd1ee" stroke="#558194" stroke-width="0.32" stroke-linejoin="round"/>
<polygon points="293.64,110.49 296.69,110.78 303.19,103.14 300.22,102.87" fill="#90d3ef" stroke="#558194" stroke-width="0.32" stroke-linejoin="round"/>
<polygon points="300.15,141.08 306.45,132.68 306.14,101.48 299.72,109.08" fill="#89d0ee" stroke="#558194" stroke-width="0.32" stroke-linejoin="round"/>
<polygon points="297.14,140.77 300.15,141.08 299.72,109.08 296.66,108.79" fill="#8bd1ee" stroke="#558194" stroke-width="0.32" stroke-linejoin="round"/>
<polygon points="296.66,108.79 299.72,109.08 306.14,101.48 303.17,101.21" fill="#90d3ef" stroke="#558194" stroke-width="0.32" stroke-linejoin="round"/>
<polygon points="303.16,141.40 309.39,132.98 309.13,101.75 302.79,109.36" fill="#89d0ee" stroke="#558194" stroke-width="0.32" stroke-linejoin="round"/>
<polygon points="300.15,141.08 303.16,141.40 302.79,109.36 299.72,109.08" fill="#8bd1ee" stroke="#558194" stroke-width="0.32" stroke-linejoin="round"/>
<polygon points="299.72,109.08 302.79,109.36 309.13,101.75 306.14,101.48" fill="#90d3ef" stroke="#558194" stroke-width="0.32" stroke-linejoin="round"/>
<polygon points="306.19,141.71 312.33,133.28 312.14,105.42 305.90,113.14" fill="#89d0ee" stroke="#558194" stroke-width="0.32" stroke-linejoin="round"/>
<polygon points="303.16,141.40 306.19,141.71 305.90,113.14 302.83,112.84" fill="#8bd1ee" stroke="#558194" stroke-width="0.32" stroke-linejoin="round"/>
<polygon points="302.83,112.84 305.90,113.14 312.14,105.42 309.16,105.14" fill="#90d3ef" stroke="#558194" stroke-width="0.32" stroke-linejoin="round"/>
<polygon points="309.22,142.03 315.27,133.57 315.15,110.04 309.01,117.89" fill="#89d0ee" stroke="#558194" stroke-width="0.32" stroke-linejoin="round"/>
<polygon points="306.19,141.71 309.22,142.03 309.01,117.89 305.95,117.60" fill="#8bd1ee" stroke="#558194" stroke-width="0.32" stroke-linejoin="round"/>
<polygon points="305.95,117.60 309.01,117.89 315.15,110.04 312.17,109.76" fill="#90d3ef" stroke="#558194" stroke-width="0.32" stroke-linejoin="round"/>
<polygon points="312.25,142.35 318.23,133.87 318.14,110.32 312.09,118.19" fill="#89d0ee" stroke="#558194" stroke-width="0.32" stroke-linejoin="round"/>
<polygon points="309.22,142.03 312.25,142.35 312.09,118.19 309.01,117.89" fill="#8bd1ee" stroke="#558194" stroke-width="0.32" stroke-linejoin="round"/>
<polygon points="309.01,117.89 312.09,118.19 318.14,110.32 315.15,110.04" fill="#90d3ef" stroke="#558194" stroke-width="0.32" stroke-linejoin="round"/>
<polygon points="315.29,142.66 321.19,134.17 321.14,112.53 315.18,120.47" fill="#89d0ee" stroke="#558194" stroke-width="0.32" stroke-linejoin="round"/>
<polygon points="312.25,142.35 315.29,142.66 315.18,120.47 312.10,120.17" fill="#8bd1ee" stroke="#558194" stroke-width="0.32" stroke-linejoin="round"/>
<polygon points="312.10,120.17 315.18,120.47 321.14,112.53 318.15,112.25" fill="#90d3ef" stroke="#558194" stroke-width="0.32" stroke-linejoin="round"/>
<polygon points="318.34,142.98 324.15,134.47 324.14,113.78 318.26,121.76" fill="#89d0ee" stroke="#558194" stroke-width="0.32" stroke-linejoin="round"/>
<polygon points="315.29,142.66 318.34,142.98 318.26,121.76 315.18,121.46" fill="#8bd1ee" stroke="#558194" stroke-width="0.32" stroke-linejoin="round"/>
<polygon points="315.18,121.46 318.26,121.76 324.14,113.78 321.14,113.50" fill="#90d3ef" stroke="#558194" stroke-width="0.32" stroke-linejoin="round"/>
<polygon points="321.39,143.30 327.12,134.78 327.14,114.07 321.35,122.06" fill="#89d0ee" stroke="#558194" stroke-width="0.32" stroke-linejoin="round"/>
<polygon points="318.34,142.98 321.39,143.30 321.35,122.06 318.26,121.76" fill="#8bd1ee" stroke="#558194" stroke-width="0.32" stroke-linejoin="round"/>
<polygon points="318.26,121.76 321.35,122.06 327.14,114.07 324.14,113.78" fill="#90d3ef" stroke="#558194" stroke-width="0.32" stroke-linejoin="round"/>
<polygon points="324.45,143.62 330.09,135.08 330.15,113.39 324.45,121.37" fill="#89d0ee" stroke="#558194" stroke-width="0.32" stroke-linejoin="round"/>
<polygon points="321.39,143.30 324.45,143.62 324.45,121.37 321.35,121.07" fill="#8bd1ee" stroke="#558194" stroke-width="0.32" stroke-linejoin="round"/>
<polygon points="321.35,121.07 324.45,121.37 330.15,113.39 327.14,113.10" fill="#90d3ef" stroke="#558194" stroke-width="0.32" stroke-linejoin="round"/>
<polygon points="327.52,143.94 333.08,135.38 333.17,112.70 327.55,120.68" fill="#89d0ee" stroke="#558194" stroke-width="0.32" stroke-linejoin="round"/>
<polygon points="324.45,143.62 327.52,143.94 327.55,120.68 324.45,120.38" fill="#8bd1ee" stroke="#558194" stroke-width="0.32" stroke-linejoin="round"/>
<polygon points="324.45,120.38 327.55,120.68 333.17,112.70 330.15,112.42" fill="#90d3ef" stroke="#558194" stroke-width="0.32" stroke-linejoin="round"/>
<polygon points="330.59,144.26 336.06,135.68 336.20,112.02 330.66,119.98" fill="#89d0ee" stroke="#558194" stroke-width="0.32" stroke-linejoin="round"/>
<polygon points="327.52,143.94 330.59,144.26 330.66,119.98 327.55,119.68" fill="#8bd1ee" stroke="#558194" stroke-width="0.32" stroke-linejoin="round"/>
<polygon points="327.55,119.68 330.66,119.98 336.20,112.02 333.17,111.73" fill="#90d3ef" stroke="#558194" stroke-width="0.32" stroke-linejoin="round"/>
<polygon points="333.67,144.58 339.05,135.99 339.21,115.21 333.76,123.27" fill="#89d0ee" stroke="#558194" stroke-width="0.32" stroke-linejoin="round"/>
<polygon points="330.59,144.26 333.67,144.58 333.76,123.27 330.65,122.96" fill="#8bd1ee" stroke="#558194" stroke-width="0.32" stroke-linejoin="round"/>
<polygon points="330.65,122.96 333.76,123.27 339.21,115.21 336.18,114.92" fill="#90d3ef" stroke="#558194" stroke-width="0.32" stroke-linejoin="round"/>
<polygon points="336.75,144.90 342.05,136.29 342.23,116.95 336.87,125.06" fill="#89d0ee" stroke="#558194" stroke-width="0.32" stroke-linejoin="round"/>
<polygon points="333.67,144.58 336.75,144.90 336.87,125.06 333.76,124.76" fill="#8bd1ee" stroke="#558194" stroke-width="0.32" stroke-linejoin="round"/>
<polygon points="333.76,124.76 336.87,125.06 342.23,116.95 339.20,116.66" fill="#90d3ef" stroke="#558194" stroke-width="0.32" stroke-linejoin="round"/>
<polygon points="339.84,145.22 345.06,136.59 345.28,115.78 340.01,123.88" fill="#89d0ee" stroke="#558194" stroke-width="0.32" stroke-linejoin="round"/>
<polygon points="336.75,144.90 339.84,145.22 340.01,123.88 336.88,123.57" fill="#8bd1ee" stroke="#558194" stroke-width="0.32" stroke-linejoin="round"/>
<polygon points="336.88,123.57 340.01,123.88 345.28,115.78 342.24,115.50" fill="#90d3ef" stroke="#558194" stroke-width="0.32" stroke-linejoin="round"/>
<polygon points="342.94,145.55 348.07,136.90 348.33,115.10 343.15,123.18" fill="#89d0ee" stroke="#558194" stroke-width="0.32" stroke-linejoin="round"/>
<polygon points="339.84,145.22 342.94,145.55 343.15,123.18 340.01,122.88" fill="#8bd1ee" stroke="#558194" stroke-width="0.32" stroke-linejoin="round"/>
<polygon points="340.01,122.88 343.15,123.18 348.33,115.10 345.29,114.81" fill="#90d3ef" stroke="#558194" stroke-width="0.32" stroke-linejoin="round"/>
<polygon points="346.04,145.87 351.08,137.20 351.39,114.42 346.30,122.49" fill="#89d0ee" stroke="#558194" stroke-width="0.32" stroke-linejoin="round"/>
<polygon points="342.94,145.55 346.04,145.87 346.30,122.49 343.16,122.19" fill="#8bd1ee" stroke="#558194" stroke-width="0.32" stroke-linejoin="round"/>
<polygon points="343.16,122.19 346.30,122.49 351.39,114.42 348.34,114.13" fill="#90d3ef" stroke="#558194" stroke-width="0.32" stroke-linejoin="round"/>
<polygon points="349.15,146.20 354.10,137.51 354.48,112.75 349.47,120.79" fill="#89d0ee" stroke="#558194" stroke-width="0.32" stroke-linejoin="round"/>
<polygon points="346.04,145.87 349.15,146.20 349.47,120.79 346.32,120.49" fill="#8bd1ee" stroke="#558194" stroke-width="0.32" stroke-linejoin="round"/>
<polygon points="346.32,120.49 349.47,120.79 354.48,112.75 351.42,112.47" fill="#90d3ef" stroke="#558194" stroke-width="0.32" stroke-linejoin="round"/>
<polygon points="352.26,146.52 357.13,137.82 357.58,111.09 352.66,119.09" fill="#89d0ee" stroke="#558194" stroke-width="0.32" stroke-linejoin="round"/>
<polygon points="349.15,146.20 352.26,146.52 352.66,119.09 349.50,118.79" fill="#8bd1ee" stroke="#558194" stroke-width="0.32" stroke-linejoin="round"/>
<polygon points="349.50,118.79 352.66,119.09 357.58,111.09 354.51,110.80" fill="#90d3ef" stroke="#558194" stroke-width="0.32" stroke-linejoin="round"/>
<polygon points="355.38,146.85 360.16,138.13 360.64,112.35 355.81,120.40" fill="#89d0ee" stroke="#558194" stroke-width="0.32" stroke-linejoin="round"/>
<polygon points="352.26,146.52 355.38,146.85 355.81,120.40 352.64,120.10" fill="#8bd1ee" stroke="#558194" stroke-width="0.32" stroke-linejoin="round"/>
<polygon points="352.64,120.10 355.81,120.40 360.64,112.35 357.57,112.06" fill="#90d3ef" stroke="#558194" stroke-width="0.32" stroke-linejoin="round"/>
<polygon points="358.51,147.17 363.20,138.43 363.71,113.03 358.97,121.10" fill="#89d0ee" stroke="#558194" stroke-width="0.32" stroke-linejoin="round"/>
<polygon points="355.38,146.85 358.51,147.17 358.97,121.10 355.80,120.80" fill="#8bd1ee" stroke="#558194" stroke-width="0.32" stroke-linejoin="round"/>
<polygon points="355.80,120.80 358.97,121.10 363.71,113.03 360.63,112.74" fill="#90d3ef" stroke="#558194" stroke-width="0.32" stroke-linejoin="round"/>
<polygon points="361.64,147.50 366.25,138.74 366.79,113.90 362.13,122.01" fill="#89d0ee" stroke="#558194" stroke-width="0.32" stroke-linejoin="round"/>
<polygon points="358.51,147.17 361.64,147.50 362.13,122.01 358.96,121.71" fill="#8bd1ee" stroke="#558194" stroke-width="0.32" stroke-linejoin="round"/>
<polygon points="358.96,121.71 362.13,122.01 366.79,113.90 363.70,113.62" fill="#90d3ef" stroke="#558194" stroke-width="0.32" stroke-linejoin="round"/>
<polygon points="364.78,147.83 369.30,139.05 369.86,115.17 365.30,123.32" fill="#89d0ee" stroke="#558194" stroke-width="0.32" stroke-linejoin="round"/>
<polygon points="361.64,147.50 364.78,147.83 365.30,123.32 362.11,123.02" fill="#8bd1ee" stroke="#558194" stroke-width="0.32" stroke-linejoin="round"/>
<polygon points="362.11,123.02 365.30,123.32 369.86,115.17 366.77,114.88" fill="#90d3ef" stroke="#558194" stroke-width="0.32" stroke-linejoin="round"/>
<polygon points="367.93,148.15 372.36,139.36 372.93,116.44 368.46,124.64" fill="#89d0ee" stroke="#558194" stroke-width="0.32" stroke-linejoin="round"/>
<polygon points="364.78,147.83 367.93,148.15 368.46,124.64 365.27,124.33" fill="#8bd1ee" stroke="#558194" stroke-width="0.32" stroke-linejoin="round"/>
<polygon points="365.27,124.33 368.46,124.64 372.93,116.44 369.83,116.15" fill="#90d3ef" stroke="#558194" stroke-width="0.32" stroke-linejoin="round"/>
<polygon points="371.08,148.48 375.42,139.67 375.99,118.10 371.62,126.35" fill="#89d0ee" stroke="#558194" stroke-width="0.32" stroke-linejoin="round"/>
<polygon points="367.93,148.15 371.08,148.48 371.62,126.35 368.43,126.04" fill="#8bd1ee" stroke="#558194" stroke-width="0.32" stroke-linejoin="round"/>
<polygon points="368.43,126.04 371.62,126.35 375.99,118.10 372.89,117.81" fill="#90d3ef" stroke="#558194" stroke-width="0.32" stroke-linejoin="round"/>
<polygon points="374.23,148.81 378.49,139.98 379.16,116.05 374.88,124.25" fill="#89d0ee" stroke="#558194" stroke-width="0.32" stroke-linejoin="round"/>
<polygon points="371.08,148.48 374.23,148.81 374.88,124.25 371.68,123.94" fill="#8bd1ee" stroke="#558194" stroke-width="0.32" stroke-linejoin="round"/>
<polygon points="371.68,123.94 374.88,124.25 379.16,116.05 376.05,115.75" fill="#90d3ef" stroke="#558194" stroke-width="0.32" stroke-linejoin="round"/>
<polygon points="377.40,149.14 381.56,140.29 382.39,112.40 378.19,120.52" fill="#89d0ee" stroke="#558194" stroke-width="0.32" stroke-linejoin="round"/>
<polygon points="374.23,148.81 377.40,149.14 378.19,120.52 374.98,120.21" fill="#8bd1ee" stroke="#558194" stroke-width="0.32" stroke-linejoin="round"/>
<polygon points="374.98,120.21 378.19,120.52 382.39,112.40 379.27,112.11" fill="#90d3ef" stroke="#558194" stroke-width="0.32" stroke-linejoin="round"/>
<polygon points="380.57,149.47 384.64,140.61 385.61,109.72 381.50,117.78" fill="#89d0ee" stroke="#558194" stroke-width="0.32" stroke-linejoin="round"/>
<polygon points="377.40,149.14 380.57,149.47 381.50,117.78 378.28,117.47" fill="#8bd1ee" stroke="#558194" stroke-width="0.32" stroke-linejoin="round"/>
<polygon points="378.28,117.47 381.50,117.78 385.61,109.72 382.48,109.44" fill="#90d3ef" stroke="#558194" stroke-width="0.32" stroke-linejoin="round"/>
<polygon points="383.75,149.80 387.73,140.92 388.81,108.33 384.79,116.35" fill="#89d0ee" stroke="#558194" stroke-width="0.32" stroke-linejoin="round"/>
<polygon points="380.57,149.47 383.75,149.80 384.79,116.35 381.55,116.05" fill="#8bd1ee" stroke="#558194" stroke-width="0.32" stroke-linejoin="round"/>
<polygon points="381.55,116.05 384.79,116.35 388.81,108.33 385.67,108.04" fill="#90d3ef" stroke="#558194" stroke-width="0.32" stroke-linejoin="round"/>
<polygon points="386.93,150.14 390.82,141.23 391.84,111.79 387.92,119.91" fill="#89d0ee" stroke="#558194" stroke-width="0.32" stroke-linejoin="round"/>
<polygon points="383.75,149.80 386.93,150.14 387.92,119.91 384.69,119.61" fill="#8bd1ee" stroke="#558194" stroke-width="0.32" stroke-linejoin="round"/>
<polygon points="384.69,119.61 387.92,119.91 391.84,111.79 388.70,111.50" fill="#90d3ef" stroke="#558194" stroke-width="0.32" stroke-linejoin="round"/>
<polygon points="390.12,150.47 393.92,141.55 395.12,108.60 391.29,116.65" fill="#89d0ee" stroke="#558194" stroke-width="0.32" stroke-linejoin="round"/>
<polygon points="386.93,150.14 390.12,150.47 391.29,116.65 388.04,116.35" fill="#8bd1ee" stroke="#558194" stroke-width="0.32" stroke-linejoin="round"/>
<polygon points="388.04,116.35 391.29,116.65 395.12,108.60 391.96,108.31" fill="#90d3ef" stroke="#558194" stroke-width="0.32" stroke-linejoin="round"/>
<polygon points="393.32,150.80 397.02,141.86 398.45,104.40 394.71,112.35" fill="#89d0ee" stroke="#558194" stroke-width="0.32" stroke-linejoin="round"/>
<polygon points="390.12,150.47 393.32,150.80 394.71,112.35 391.45,112.05" fill="#8bd1ee" stroke="#558194" stroke-width="0.32" stroke-linejoin="round"/>
<polygon points="391.45,112.05 394.71,112.35 398.45,104.40 395.28,104.12" fill="#90d3ef" stroke="#558194" stroke-width="0.32" stroke-linejoin="round"/>
<polygon points="396.52,151.14 400.13,142.18 401.87,98.56 398.22,106.35" fill="#89d0ee" stroke="#558194" stroke-width="0.32" stroke-linejoin="round"/>
<polygon points="393.32,150.80 396.52,151.14 398.22,106.35 394.94,106.06" fill="#8bd1ee" stroke="#558194" stroke-width="0.32" stroke-linejoin="round"/>
<polygon points="394.94,106.06 398.22,106.35 401.87,98.56 398.68,98.28" fill="#90d3ef" stroke="#558194" stroke-width="0.32" stroke-linejoin="round"/>
<polygon points="265.22,151.68 272.81,142.65 271.01,77.89 263.11,85.16" fill="#dd242d" stroke="#89161c" stroke-width="0.32" stroke-linejoin="round"/>
<polygon points="262.14,151.34 265.22,151.68 263.11,85.16 259.91,84.88" fill="#de2831" stroke="#89161c" stroke-width="0.32" stroke-linejoin="round"/>
<polygon points="259.91,84.88 263.11,85.16 271.01,77.89 267.91,77.63" fill="#df313a" stroke="#89161c" stroke-width="0.32" stroke-linejoin="round"/>
<polygon points="268.32,152.02 275.81,142.97 274.84,105.73 267.17,113.79" fill="#dd242d" stroke="#89161c" stroke-width="0.32" stroke-linejoin="round"/>
<polygon points="265.22,151.68 268.32,152.02 267.17,113.79 264.01,113.48" fill="#de2831" stroke="#89161c" stroke-width="0.32" stroke-linejoin="round"/>
<polygon points="264.01,113.48 267.17,113.79 274.84,105.73 271.78,105.45" fill="#df313a" stroke="#89161c" stroke-width="0.32" stroke-linejoin="round"/>
<polygon points="271.42,152.35 278.83,143.29 277.97,108.04 270.39,116.16" fill="#dd242d" stroke="#89161c" stroke-width="0.32" stroke-linejoin="round"/>
<polygon points="268.32,152.02 271.42,152.35 270.39,116.16 267.23,115.85" fill="#de2831" stroke="#89161c" stroke-width="0.32" stroke-linejoin="round"/>
<polygon points="267.23,115.85 270.39,116.16 277.97,108.04 274.90,107.75" fill="#df313a" stroke="#89161c" stroke-width="0.32" stroke-linejoin="round"/>
<polygon points="274.53,152.69 281.85,143.61 281.20,115.35 273.75,123.68" fill="#dd242d" stroke="#89161c" stroke-width="0.32" stroke-linejoin="round"/>
<polygon points="271.42,152.35 274.53,152.69 273.75,123.68 270.59,123.37" fill="#de2831" stroke="#89161c" stroke-width="0.32" stroke-linejoin="round"/>
<polygon points="270.59,123.37 273.75,123.68 281.20,115.35 278.14,115.05" fill="#df313a" stroke="#89161c" stroke-width="0.32" stroke-linejoin="round"/>
<polygon points="277.64,153.03 284.88,143.93 284.45,123.61 277.12,132.18" fill="#dd242d" stroke="#89161c" stroke-width="0.32" stroke-linejoin="round"/>
<polygon points="274.53,152.69 277.64,153.03 277.12,132.18 273.97,131.86" fill="#de2831" stroke="#89161c" stroke-width="0.32" stroke-linejoin="round"/>
<polygon points="273.97,131.86 277.12,132.18 284.45,123.61 281.39,123.31" fill="#df313a" stroke="#89161c" stroke-width="0.32" stroke-linejoin="round"/>
<polygon points="280.76,153.37 287.91,144.25 287.53,124.91 280.29,133.52" fill="#dd242d" stroke="#89161c" stroke-width="0.32" stroke-linejoin="round"/>
<polygon points="277.64,153.03 280.76,153.37 280.29,133.52 277.14,133.20" fill="#de2831" stroke="#89161c" stroke-width="0.32" stroke-linejoin="round"/>
<polygon points="277.14,133.20 280.29,133.52 287.53,124.91 284.47,124.60" fill="#df313a" stroke="#89161c" stroke-width="0.32" stroke-linejoin="round"/>
<polygon points="283.89,153.71 290.95,144.57 290.67,129.18 283.54,137.91" fill="#dd242d" stroke="#89161c" stroke-width="0.32" stroke-linejoin="round"/>
<polygon points="280.76,153.37 283.89,153.71 283.54,137.91 280.39,137.58" fill="#de2831" stroke="#89161c" stroke-width="0.32" stroke-linejoin="round"/>
<polygon points="280.39,137.58 283.54,137.91 290.67,129.18 287.61,128.87" fill="#df313a" stroke="#89161c" stroke-width="0.32" stroke-linejoin="round"/>
<polygon points="287.02,154.05 294.00,144.89 293.76,130.47 286.72,139.26" fill="#dd242d" stroke="#89161c" stroke-width="0.32" stroke-linejoin="round"/>
<polygon points="283.89,153.71 287.02,154.05 286.72,139.26 283.57,138.93" fill="#de2831" stroke="#89161c" stroke-width="0.32" stroke-linejoin="round"/>
<polygon points="283.57,138.93 286.72,139.26 293.76,130.47 290.69,130.16" fill="#df313a" stroke="#89161c" stroke-width="0.32" stroke-linejoin="round"/>
<polygon points="290.16,154.40 297.05,145.21 296.78,126.82 289.81,135.51" fill="#dd242d" stroke="#89161c" stroke-width="0.32" stroke-linejoin="round"/>
<polygon points="287.02,154.05 290.16,154.40 289.81,135.51 286.64,135.19" fill="#de2831" stroke="#89161c" stroke-width="0.32" stroke-linejoin="round"/>
<polygon points="286.64,135.19 289.81,135.51 296.78,126.82 293.69,126.51" fill="#df313a" stroke="#89161c" stroke-width="0.32" stroke-linejoin="round"/>
<polygon points="293.31,154.74 300.11,145.54 299.81,123.14 292.92,131.75" fill="#dd242d" stroke="#89161c" stroke-width="0.32" stroke-linejoin="round"/>
<polygon points="290.16,154.40 293.31,154.74 292.92,131.75 289.74,131.43" fill="#de2831" stroke="#89161c" stroke-width="0.32" stroke-linejoin="round"/>
<polygon points="289.74,131.43 292.92,131.75 299.81,123.14 296.72,122.84" fill="#df313a" stroke="#89161c" stroke-width="0.32" stroke-linejoin="round"/>
<polygon points="296.46,155.08 303.17,145.86 302.97,128.43 296.19,137.19" fill="#dd242d" stroke="#89161c" stroke-width="0.32" stroke-linejoin="round"/>
<polygon points="293.31,154.74 296.46,155.08 296.19,137.19 293.01,136.86" fill="#de2831" stroke="#89161c" stroke-width="0.32" stroke-linejoin="round"/>
<polygon points="293.01,136.86 296.19,137.19 302.97,128.43 299.88,128.12" fill="#df313a" stroke="#89161c" stroke-width="0.32" stroke-linejoin="round"/>
<polygon points="299.62,155.43 306.24,146.19 306.06,128.74 299.38,137.52" fill="#dd242d" stroke="#89161c" stroke-width="0.32" stroke-linejoin="round"/>
<polygon points="296.46,155.08 299.62,155.43 299.38,137.52 296.19,137.19" fill="#de2831" stroke="#89161c" stroke-width="0.32" stroke-linejoin="round"/>
<polygon points="296.19,137.19 299.38,137.52 306.06,128.74 302.97,128.43" fill="#df313a" stroke="#89161c" stroke-width="0.32" stroke-linejoin="round"/>
<polygon points="302.79,155.77 309.31,146.51 309.23,136.00 302.66,144.98" fill="#dd242d" stroke="#89161c" stroke-width="0.32" stroke-linejoin="round"/>
<polygon points="299.62,155.43 302.79,155.77 302.66,144.98 299.47,144.64" fill="#de2831" stroke="#89161c" stroke-width="0.32" stroke-linejoin="round"/>
<polygon points="299.47,144.64 302.66,144.98 309.23,136.00 306.13,135.68" fill="#df313a" stroke="#89161c" stroke-width="0.32" stroke-linejoin="round"/>
<polygon points="305.96,156.12 312.40,146.84 312.35,140.26 305.89,149.37" fill="#dd242d" stroke="#89161c" stroke-width="0.32" stroke-linejoin="round"/>
<polygon points="302.79,155.77 305.96,156.12 305.89,149.37 302.71,149.03" fill="#de2831" stroke="#89161c" stroke-width="0.32" stroke-linejoin="round"/>
<polygon points="302.71,149.03 305.89,149.37 312.35,140.26 309.26,139.94" fill="#df313a" stroke="#89161c" stroke-width="0.32" stroke-linejoin="round"/>
<polygon points="309.14,156.46 315.48,147.16 315.42,134.65 309.03,143.62" fill="#dd242d" stroke="#89161c" stroke-width="0.32" stroke-linejoin="round"/>
<polygon points="305.96,156.12 309.14,156.46 309.03,143.62 305.83,143.28" fill="#de2831" stroke="#89161c" stroke-width="0.32" stroke-linejoin="round"/>
<polygon points="305.83,143.28 309.03,143.62 315.42,134.65 312.31,134.33" fill="#df313a" stroke="#89161c" stroke-width="0.32" stroke-linejoin="round"/>
<polygon points="312.32,156.81 318.58,147.49 318.54,136.95 312.25,145.99" fill="#dd242d" stroke="#89161c" stroke-width="0.32" stroke-linejoin="round"/>
<polygon points="309.14,156.46 312.32,156.81 312.25,145.99 309.04,145.65" fill="#de2831" stroke="#89161c" stroke-width="0.32" stroke-linejoin="round"/>
<polygon points="309.04,145.65 312.25,145.99 318.54,136.95 315.43,136.63" fill="#df313a" stroke="#89161c" stroke-width="0.32" stroke-linejoin="round"/>
<polygon points="315.51,157.16 321.68,147.82 321.66,139.25 315.47,148.36" fill="#dd242d" stroke="#89161c" stroke-width="0.32" stroke-linejoin="round"/>
<polygon points="312.32,156.81 315.51,157.16 315.47,148.36 312.26,148.02" fill="#de2831" stroke="#89161c" stroke-width="0.32" stroke-linejoin="round"/>
<polygon points="312.26,148.02 315.47,148.36 321.66,139.25 318.55,138.93" fill="#df313a" stroke="#89161c" stroke-width="0.32" stroke-linejoin="round"/>
<polygon points="318.71,157.51 324.79,148.15 324.78,135.60 318.67,144.63" fill="#dd242d" stroke="#89161c" stroke-width="0.32" stroke-linejoin="round"/>
<polygon points="315.51,157.16 318.71,157.51 318.67,144.63 315.45,144.29" fill="#de2831" stroke="#89161c" stroke-width="0.32" stroke-linejoin="round"/>
<polygon points="315.45,144.29 318.67,144.63 324.78,135.60 321.66,135.28" fill="#df313a" stroke="#89161c" stroke-width="0.32" stroke-linejoin="round"/>
<polygon points="321.92,157.86 327.90,148.48 327.92,132.93 321.89,141.89" fill="#dd242d" stroke="#89161c" stroke-width="0.32" stroke-linejoin="round"/>
<polygon points="318.71,157.51 321.92,157.86 321.89,141.89 318.66,141.56" fill="#de2831" stroke="#89161c" stroke-width="0.32" stroke-linejoin="round"/>
<polygon points="318.66,141.56 321.89,141.89 327.92,132.93 324.78,132.61" fill="#df313a" stroke="#89161c" stroke-width="0.32" stroke-linejoin="round"/>
<polygon points="325.13,158.21 331.02,148.81 331.07,133.25 325.13,142.23" fill="#dd242d" stroke="#89161c" stroke-width="0.32" stroke-linejoin="round"/>
<polygon points="321.92,157.86 325.13,158.21 325.13,142.23 321.89,141.89" fill="#de2831" stroke="#89161c" stroke-width="0.32" stroke-linejoin="round"/>
<polygon points="321.89,141.89 325.13,142.23 331.07,133.25 327.92,132.93" fill="#df313a" stroke="#89161c" stroke-width="0.32" stroke-linejoin="round"/>
<polygon points="328.34,158.56 334.14,149.14 334.20,137.56 328.37,146.67" fill="#dd242d" stroke="#89161c" stroke-width="0.32" stroke-linejoin="round"/>
<polygon points="325.13,158.21 328.34,158.56 328.37,146.67 325.13,146.33" fill="#de2831" stroke="#89161c" stroke-width="0.32" stroke-linejoin="round"/>
<polygon points="325.13,146.33 328.37,146.67 334.20,137.56 331.05,137.24" fill="#df313a" stroke="#89161c" stroke-width="0.32" stroke-linejoin="round"/>
<polygon points="331.57,158.91 337.27,149.47 337.33,141.36 331.60,150.58" fill="#dd242d" stroke="#89161c" stroke-width="0.32" stroke-linejoin="round"/>
<polygon points="328.34,158.56 331.57,158.91 331.60,150.58 328.36,150.24" fill="#de2831" stroke="#89161c" stroke-width="0.32" stroke-linejoin="round"/>
<polygon points="328.36,150.24 331.60,150.58 337.33,141.36 334.18,141.04" fill="#df313a" stroke="#89161c" stroke-width="0.32" stroke-linejoin="round"/>
<polygon points="334.80,159.26 340.41,149.80 340.49,140.69 334.85,149.91" fill="#dd242d" stroke="#89161c" stroke-width="0.32" stroke-linejoin="round"/>
<polygon points="331.57,158.91 334.80,159.26 334.85,149.91 331.60,149.56" fill="#de2831" stroke="#89161c" stroke-width="0.32" stroke-linejoin="round"/>
<polygon points="331.60,149.56 334.85,149.91 340.49,140.69 337.33,140.37" fill="#df313a" stroke="#89161c" stroke-width="0.32" stroke-linejoin="round"/>
<polygon points="338.04,159.61 343.56,150.13 343.65,140.52 338.11,149.74" fill="#dd242d" stroke="#89161c" stroke-width="0.32" stroke-linejoin="round"/>
<polygon points="334.80,159.26 338.04,159.61 338.11,149.74 334.85,149.40" fill="#de2831" stroke="#89161c" stroke-width="0.32" stroke-linejoin="round"/>
<polygon points="334.85,149.40 338.11,149.74 343.65,140.52 340.49,140.19" fill="#df313a" stroke="#89161c" stroke-width="0.32" stroke-linejoin="round"/>
<polygon points="341.28,159.97 346.71,150.47 346.80,142.84 341.35,152.13" fill="#dd242d" stroke="#89161c" stroke-width="0.32" stroke-linejoin="round"/>
<polygon points="338.04,159.61 341.28,159.97 341.35,152.13 338.09,151.79" fill="#de2831" stroke="#89161c" stroke-width="0.32" stroke-linejoin="round"/>
<polygon points="338.09,151.79 341.35,152.13 346.80,142.84 343.63,142.51" fill="#df313a" stroke="#89161c" stroke-width="0.32" stroke-linejoin="round"/>
<polygon points="344.54,160.32 349.86,150.80 349.99,141.17 344.64,150.43" fill="#dd242d" stroke="#89161c" stroke-width="0.32" stroke-linejoin="round"/>
<polygon points="341.28,159.97 344.54,160.32 344.64,150.43 341.37,150.09" fill="#de2831" stroke="#89161c" stroke-width="0.32" stroke-linejoin="round"/>
<polygon points="341.37,150.09 344.64,150.43 349.99,141.17 346.82,140.84" fill="#df313a" stroke="#89161c" stroke-width="0.32" stroke-linejoin="round"/>
<polygon points="347.79,160.68 353.03,151.13 353.19,140.50 347.93,149.75" fill="#dd242d" stroke="#89161c" stroke-width="0.32" stroke-linejoin="round"/>
<polygon points="344.54,160.32 347.79,160.68 347.93,149.75 344.65,149.41" fill="#de2831" stroke="#89161c" stroke-width="0.32" stroke-linejoin="round"/>
<polygon points="344.65,149.41 347.93,149.75 353.19,140.50 350.00,140.17" fill="#df313a" stroke="#89161c" stroke-width="0.32" stroke-linejoin="round"/>
<polygon points="351.06,161.03 356.20,151.47 356.40,139.32 351.23,148.56" fill="#dd242d" stroke="#89161c" stroke-width="0.32" stroke-linejoin="round"/>
<polygon points="347.79,160.68 351.06,161.03 351.23,148.56 347.94,148.21" fill="#de2831" stroke="#89161c" stroke-width="0.32" stroke-linejoin="round"/>
<polygon points="347.94,148.21 351.23,148.56 356.40,139.32 353.21,138.99" fill="#df313a" stroke="#89161c" stroke-width="0.32" stroke-linejoin="round"/>
<polygon points="354.33,161.39 359.37,151.81 359.60,139.14 354.53,148.39" fill="#dd242d" stroke="#89161c" stroke-width="0.32" stroke-linejoin="round"/>
<polygon points="351.06,161.03 354.33,161.39 354.53,148.39 351.24,148.04" fill="#de2831" stroke="#89161c" stroke-width="0.32" stroke-linejoin="round"/>
<polygon points="351.24,148.04 354.53,148.39 359.60,139.14 356.41,138.82" fill="#df313a" stroke="#89161c" stroke-width="0.32" stroke-linejoin="round"/>
<polygon points="357.61,161.75 362.56,152.14 362.83,138.46 357.85,147.70" fill="#dd242d" stroke="#89161c" stroke-width="0.32" stroke-linejoin="round"/>
<polygon points="354.33,161.39 357.61,161.75 357.85,147.70 354.55,147.36" fill="#de2831" stroke="#89161c" stroke-width="0.32" stroke-linejoin="round"/>
<polygon points="354.55,147.36 357.85,147.70 362.83,138.46 359.62,138.14" fill="#df313a" stroke="#89161c" stroke-width="0.32" stroke-linejoin="round"/>
<polygon points="360.90,162.10 365.75,152.48 365.95,142.81 361.09,152.17" fill="#dd242d" stroke="#89161c" stroke-width="0.32" stroke-linejoin="round"/>
<polygon points="357.61,161.75 360.90,162.10 361.09,152.17 357.78,151.82" fill="#de2831" stroke="#89161c" stroke-width="0.32" stroke-linejoin="round"/>
<polygon points="357.78,151.82 361.09,152.17 365.95,142.81 362.75,142.48" fill="#df313a" stroke="#89161c" stroke-width="0.32" stroke-linejoin="round"/>
<polygon points="364.19,162.46 368.94,152.82 369.14,144.14 364.37,153.55" fill="#dd242d" stroke="#89161c" stroke-width="0.32" stroke-linejoin="round"/>
<polygon points="360.90,162.10 364.19,162.46 364.37,153.55 361.07,153.20" fill="#de2831" stroke="#89161c" stroke-width="0.32" stroke-linejoin="round"/>
<polygon points="361.07,153.20 364.37,153.55 369.14,144.14 365.93,143.81" fill="#df313a" stroke="#89161c" stroke-width="0.32" stroke-linejoin="round"/>
<polygon points="367.49,162.82 372.14,153.16 372.44,141.46 367.76,150.81" fill="#dd242d" stroke="#89161c" stroke-width="0.32" stroke-linejoin="round"/>
<polygon points="364.19,162.46 367.49,162.82 367.76,150.81 364.44,150.46" fill="#de2831" stroke="#89161c" stroke-width="0.32" stroke-linejoin="round"/>
<polygon points="364.44,150.46 367.76,150.81 372.44,141.46 369.21,141.13" fill="#df313a" stroke="#89161c" stroke-width="0.32" stroke-linejoin="round"/>
<polygon points="370.79,163.18 375.35,153.50 375.83,135.73 371.24,144.93" fill="#dd242d" stroke="#89161c" stroke-width="0.32" stroke-linejoin="round"/>
<polygon points="367.49,162.82 370.79,163.18 371.24,144.93 367.90,144.59" fill="#de2831" stroke="#89161c" stroke-width="0.32" stroke-linejoin="round"/>
<polygon points="367.90,144.59 371.24,144.93 375.83,135.73 372.59,135.40" fill="#df313a" stroke="#89161c" stroke-width="0.32" stroke-linejoin="round"/>
<polygon points="374.11,163.54 378.57,153.84 379.19,131.99 374.70,141.10" fill="#dd242d" stroke="#89161c" stroke-width="0.32" stroke-linejoin="round"/>
<polygon points="370.79,163.18 374.11,163.54 374.70,141.10 371.34,140.76" fill="#de2831" stroke="#89161c" stroke-width="0.32" stroke-linejoin="round"/>
<polygon points="371.34,140.76 374.70,141.10 379.19,131.99 375.93,131.66" fill="#df313a" stroke="#89161c" stroke-width="0.32" stroke-linejoin="round"/>
<polygon points="377.43,163.91 381.79,154.18 382.54,129.24 378.14,138.30" fill="#dd242d" stroke="#89161c" stroke-width="0.32" stroke-linejoin="round"/>
<polygon points="374.11,163.54 377.43,163.91 378.14,138.30 374.78,137.96" fill="#de2831" stroke="#89161c" stroke-width="0.32" stroke-linejoin="round"/>
<polygon points="374.78,137.96 378.14,138.30 382.54,129.24 379.27,128.92" fill="#df313a" stroke="#89161c" stroke-width="0.32" stroke-linejoin="round"/>
<polygon points="380.76,164.27 385.02,154.52 385.88,127.51 381.58,136.53" fill="#dd242d" stroke="#89161c" stroke-width="0.32" stroke-linejoin="round"/>
<polygon points="377.43,163.91 380.76,164.27 381.58,136.53 378.20,136.19" fill="#de2831" stroke="#89161c" stroke-width="0.32" stroke-linejoin="round"/>
<polygon points="378.20,136.19 381.58,136.53 385.88,127.51 382.60,127.20" fill="#df313a" stroke="#89161c" stroke-width="0.32" stroke-linejoin="round"/>
<polygon points="384.09,164.63 388.25,154.86 389.33,122.69 385.13,131.58" fill="#dd242d" stroke="#89161c" stroke-width="0.32" stroke-linejoin="round"/>
<polygon points="380.76,164.27 384.09,164.63 385.13,131.58 381.74,131.24" fill="#de2831" stroke="#89161c" stroke-width="0.32" stroke-linejoin="round"/>
<polygon points="381.74,131.24 385.13,131.58 389.33,122.69 386.04,122.37" fill="#df313a" stroke="#89161c" stroke-width="0.32" stroke-linejoin="round"/>
<polygon points="387.43,165.00 391.49,155.20 392.78,118.86 388.68,127.65" fill="#dd242d" stroke="#89161c" stroke-width="0.32" stroke-linejoin="round"/>
<polygon points="384.09,164.63 387.43,165.00 388.68,127.65 385.27,127.32" fill="#de2831" stroke="#89161c" stroke-width="0.32" stroke-linejoin="round"/>
<polygon points="385.27,127.32 388.68,127.65 392.78,118.86 389.47,118.55" fill="#df313a" stroke="#89161c" stroke-width="0.32" stroke-linejoin="round"/>
<polygon points="390.78,165.36 394.74,155.55 396.17,117.09 392.17,125.85" fill="#dd242d" stroke="#89161c" stroke-width="0.32" stroke-linejoin="round"/>
<polygon points="387.43,165.00 390.78,165.36 392.17,125.85 388.75,125.52" fill="#de2831" stroke="#89161c" stroke-width="0.32" stroke-linejoin="round"/>
<polygon points="388.75,125.52 392.17,125.85 396.17,117.09 392.85,116.78" fill="#df313a" stroke="#89161c" stroke-width="0.32" stroke-linejoin="round"/>
<polygon points="253.18,166.02 261.49,156.12 259.32,91.97 250.64,100.06" fill="#3590c6" stroke="#21597b" stroke-width="0.32" stroke-linejoin="round"/>
<polygon points="249.96,165.65 253.18,166.02 250.64,100.06 247.31,99.76" fill="#3992c7" stroke="#21597b" stroke-width="0.32" stroke-linejoin="round"/>
<polygon points="247.31,99.76 250.64,100.06 259.32,91.97 256.08,91.69" fill="#4197c9" stroke="#21597b" stroke-width="0.32" stroke-linejoin="round"/>
<polygon points="256.41,166.39 264.63,156.47 264.12,140.54 255.81,150.02" fill="#3590c6" stroke="#21597b" stroke-width="0.32" stroke-linejoin="round"/>
<polygon points="253.18,166.02 256.41,166.39 255.81,150.02 252.55,149.67" fill="#3992c7" stroke="#21597b" stroke-width="0.32" stroke-linejoin="round"/>
<polygon points="252.55,149.67 255.81,150.02 264.12,140.54 260.95,140.21" fill="#4197c9" stroke="#21597b" stroke-width="0.32" stroke-linejoin="round"/>
<polygon points="259.65,166.76 267.77,156.82 267.25,139.85 259.04,149.32" fill="#3590c6" stroke="#21597b" stroke-width="0.32" stroke-linejoin="round"/>
<polygon points="256.41,166.39 259.65,166.76 259.04,149.32 255.77,148.97" fill="#3992c7" stroke="#21597b" stroke-width="0.32" stroke-linejoin="round"/>
<polygon points="255.77,148.97 259.04,149.32 267.25,139.85 264.08,139.51" fill="#4197c9" stroke="#21597b" stroke-width="0.32" stroke-linejoin="round"/>
<polygon points="262.89,167.13 270.92,157.17 270.46,141.21 262.35,150.73" fill="#3590c6" stroke="#21597b" stroke-width="0.32" stroke-linejoin="round"/>
<polygon points="259.65,166.76 262.89,167.13 262.35,150.73 259.07,150.38" fill="#3992c7" stroke="#21597b" stroke-width="0.32" stroke-linejoin="round"/>
<polygon points="259.07,150.38 262.35,150.73 270.46,141.21 267.29,140.87" fill="#4197c9" stroke="#21597b" stroke-width="0.32" stroke-linejoin="round"/>
<polygon points="266.14,167.50 274.08,157.51 273.73,144.62 265.72,154.25" fill="#3590c6" stroke="#21597b" stroke-width="0.32" stroke-linejoin="round"/>
<polygon points="262.89,167.13 266.14,167.50 265.72,154.25 262.45,153.89" fill="#3992c7" stroke="#21597b" stroke-width="0.32" stroke-linejoin="round"/>
<polygon points="262.45,153.89 265.72,154.25 273.73,144.62 270.55,144.28" fill="#4197c9" stroke="#21597b" stroke-width="0.32" stroke-linejoin="round"/>
<polygon points="269.40,167.87 277.24,157.86 276.96,147.00 269.07,156.71" fill="#3590c6" stroke="#21597b" stroke-width="0.32" stroke-linejoin="round"/>
<polygon points="266.14,167.50 269.40,167.87 269.07,156.71 265.79,156.35" fill="#3992c7" stroke="#21597b" stroke-width="0.32" stroke-linejoin="round"/>
<polygon points="265.79,156.35 269.07,156.71 276.96,147.00 273.78,146.66" fill="#4197c9" stroke="#21597b" stroke-width="0.32" stroke-linejoin="round"/>
<polygon points="272.67,168.24 280.41,158.21 280.13,146.32 272.32,156.02" fill="#3590c6" stroke="#21597b" stroke-width="0.32" stroke-linejoin="round"/>
<polygon points="269.40,167.87 272.67,168.24 272.32,156.02 269.04,155.66" fill="#3992c7" stroke="#21597b" stroke-width="0.32" stroke-linejoin="round"/>
<polygon points="269.04,155.66 272.32,156.02 280.13,146.32 276.94,145.98" fill="#4197c9" stroke="#21597b" stroke-width="0.32" stroke-linejoin="round"/>
<polygon points="275.94,168.62 283.59,158.57 283.28,144.61 275.56,154.27" fill="#3590c6" stroke="#21597b" stroke-width="0.32" stroke-linejoin="round"/>
<polygon points="272.67,168.24 275.94,168.62 275.56,154.27 272.26,153.91" fill="#3992c7" stroke="#21597b" stroke-width="0.32" stroke-linejoin="round"/>
<polygon points="272.26,153.91 275.56,154.27 283.28,144.61 280.08,144.27" fill="#4197c9" stroke="#21597b" stroke-width="0.32" stroke-linejoin="round"/>
<polygon points="279.22,168.99 286.77,158.92 286.50,145.46 278.88,155.16" fill="#3590c6" stroke="#21597b" stroke-width="0.32" stroke-linejoin="round"/>
<polygon points="275.94,168.62 279.22,168.99 278.88,155.16 275.57,154.80" fill="#3992c7" stroke="#21597b" stroke-width="0.32" stroke-linejoin="round"/>
<polygon points="275.57,154.80 278.88,155.16 286.50,145.46 283.29,145.12" fill="#4197c9" stroke="#21597b" stroke-width="0.32" stroke-linejoin="round"/>
<polygon points="282.50,169.36 289.96,159.27 289.74,147.34 282.22,157.11" fill="#3590c6" stroke="#21597b" stroke-width="0.32" stroke-linejoin="round"/>
<polygon points="279.22,168.99 282.50,169.36 282.22,157.11 278.92,156.75" fill="#3992c7" stroke="#21597b" stroke-width="0.32" stroke-linejoin="round"/>
<polygon points="278.92,156.75 282.22,157.11 289.74,147.34 286.53,147.00" fill="#4197c9" stroke="#21597b" stroke-width="0.32" stroke-linejoin="round"/>
<polygon points="285.80,169.74 293.16,159.62 292.94,146.66 285.51,156.42" fill="#3590c6" stroke="#21597b" stroke-width="0.32" stroke-linejoin="round"/>
<polygon points="282.50,169.36 285.80,169.74 285.51,156.42 282.20,156.06" fill="#3992c7" stroke="#21597b" stroke-width="0.32" stroke-linejoin="round"/>
<polygon points="282.20,156.06 285.51,156.42 292.94,146.66 289.72,146.32" fill="#4197c9" stroke="#21597b" stroke-width="0.32" stroke-linejoin="round"/>
<polygon points="289.10,170.12 296.36,159.98 296.18,148.03 288.86,157.84" fill="#3590c6" stroke="#21597b" stroke-width="0.32" stroke-linejoin="round"/>
<polygon points="285.80,169.74 289.10,170.12 288.86,157.84 285.54,157.48" fill="#3992c7" stroke="#21597b" stroke-width="0.32" stroke-linejoin="round"/>
<polygon points="285.54,157.48 288.86,157.84 296.18,148.03 292.95,147.69" fill="#4197c9" stroke="#21597b" stroke-width="0.32" stroke-linejoin="round"/>
<polygon points="292.40,170.49 299.57,160.33 299.39,147.35 292.17,157.15" fill="#3590c6" stroke="#21597b" stroke-width="0.32" stroke-linejoin="round"/>
<polygon points="289.10,170.12 292.40,170.49 292.17,157.15 288.84,156.78" fill="#3992c7" stroke="#21597b" stroke-width="0.32" stroke-linejoin="round"/>
<polygon points="288.84,156.78 292.17,157.15 299.39,147.35 296.16,147.00" fill="#4197c9" stroke="#21597b" stroke-width="0.32" stroke-linejoin="round"/>
<polygon points="295.72,170.87 302.78,160.69 302.65,149.75 295.54,159.63" fill="#3590c6" stroke="#21597b" stroke-width="0.32" stroke-linejoin="round"/>
<polygon points="292.40,170.49 295.72,170.87 295.54,159.63 292.21,159.26" fill="#3992c7" stroke="#21597b" stroke-width="0.32" stroke-linejoin="round"/>
<polygon points="292.21,159.26 295.54,159.63 302.65,149.75 299.42,149.40" fill="#4197c9" stroke="#21597b" stroke-width="0.32" stroke-linejoin="round"/>
<polygon points="299.04,171.25 306.01,161.05 305.90,150.10 298.88,160.00" fill="#3590c6" stroke="#21597b" stroke-width="0.32" stroke-linejoin="round"/>
<polygon points="295.72,170.87 299.04,171.25 298.88,160.00 295.54,159.63" fill="#3992c7" stroke="#21597b" stroke-width="0.32" stroke-linejoin="round"/>
<polygon points="295.54,159.63 298.88,160.00 305.90,150.10 302.65,149.75" fill="#4197c9" stroke="#21597b" stroke-width="0.32" stroke-linejoin="round"/>
<polygon points="302.37,171.63 309.24,161.40 309.14,149.41 302.22,159.31" fill="#3590c6" stroke="#21597b" stroke-width="0.32" stroke-linejoin="round"/>
<polygon points="299.04,171.25 302.37,171.63 302.22,159.31 298.87,158.94" fill="#3992c7" stroke="#21597b" stroke-width="0.32" stroke-linejoin="round"/>
<polygon points="298.87,158.94 302.22,159.31 309.14,149.41 305.89,149.07" fill="#4197c9" stroke="#21597b" stroke-width="0.32" stroke-linejoin="round"/>
<polygon points="305.70,172.01 312.47,161.76 312.38,147.69 305.55,157.56" fill="#3590c6" stroke="#21597b" stroke-width="0.32" stroke-linejoin="round"/>
<polygon points="302.37,171.63 305.70,172.01 305.55,157.56 302.19,157.19" fill="#3992c7" stroke="#21597b" stroke-width="0.32" stroke-linejoin="round"/>
<polygon points="302.19,157.19 305.55,157.56 312.38,147.69 309.12,147.35" fill="#4197c9" stroke="#21597b" stroke-width="0.32" stroke-linejoin="round"/>
<polygon points="309.05,172.39 315.72,162.12 315.65,148.04 308.92,157.93" fill="#3590c6" stroke="#21597b" stroke-width="0.32" stroke-linejoin="round"/>
<polygon points="305.70,172.01 309.05,172.39 308.92,157.93 305.55,157.56" fill="#3992c7" stroke="#21597b" stroke-width="0.32" stroke-linejoin="round"/>
<polygon points="305.55,157.56 308.92,157.93 315.65,148.04 312.38,147.69" fill="#4197c9" stroke="#21597b" stroke-width="0.32" stroke-linejoin="round"/>
<polygon points="312.40,172.78 318.97,162.48 318.92,149.42 312.30,159.36" fill="#3590c6" stroke="#21597b" stroke-width="0.32" stroke-linejoin="round"/>
<polygon points="309.05,172.39 312.40,172.78 312.30,159.36 308.93,158.99" fill="#3992c7" stroke="#21597b" stroke-width="0.32" stroke-linejoin="round"/>
<polygon points="308.93,158.99 312.30,159.36 318.92,149.42 315.65,149.07" fill="#4197c9" stroke="#21597b" stroke-width="0.32" stroke-linejoin="round"/>
<polygon points="315.75,173.16 322.22,162.84 322.20,149.77 315.69,159.73" fill="#3590c6" stroke="#21597b" stroke-width="0.32" stroke-linejoin="round"/>
<polygon points="312.40,172.78 315.75,173.16 315.69,159.73 312.30,159.36" fill="#3992c7" stroke="#21597b" stroke-width="0.32" stroke-linejoin="round"/>
<polygon points="312.30,159.36 315.69,159.73 322.20,149.77 318.92,149.42" fill="#4197c9" stroke="#21597b" stroke-width="0.32" stroke-linejoin="round"/>
<polygon points="319.12,173.54 325.49,163.20 325.49,151.16 319.08,161.17" fill="#3590c6" stroke="#21597b" stroke-width="0.32" stroke-linejoin="round"/>
<polygon points="315.75,173.16 319.12,173.54 319.08,161.17 315.69,160.80" fill="#3992c7" stroke="#21597b" stroke-width="0.32" stroke-linejoin="round"/>
<polygon points="315.69,160.80 319.08,161.17 325.49,151.16 322.20,150.81" fill="#4197c9" stroke="#21597b" stroke-width="0.32" stroke-linejoin="round"/>
<polygon points="322.49,173.93 328.76,163.56 328.78,153.58 322.48,163.67" fill="#3590c6" stroke="#21597b" stroke-width="0.32" stroke-linejoin="round"/>
<polygon points="319.12,173.54 322.49,173.93 322.48,163.67 319.09,163.30" fill="#3992c7" stroke="#21597b" stroke-width="0.32" stroke-linejoin="round"/>
<polygon points="319.09,163.30 322.48,163.67 328.78,153.58 325.49,153.23" fill="#4197c9" stroke="#21597b" stroke-width="0.32" stroke-linejoin="round"/>
<polygon points="325.87,174.31 332.03,163.92 332.08,151.86 325.88,161.92" fill="#3590c6" stroke="#21597b" stroke-width="0.32" stroke-linejoin="round"/>
<polygon points="322.49,173.93 325.87,174.31 325.88,161.92 322.47,161.54" fill="#3992c7" stroke="#21597b" stroke-width="0.32" stroke-linejoin="round"/>
<polygon points="322.47,161.54 325.88,161.92 332.08,151.86 328.78,151.51" fill="#4197c9" stroke="#21597b" stroke-width="0.32" stroke-linejoin="round"/>
<polygon points="329.26,174.70 335.32,164.29 335.40,150.13 329.29,160.16" fill="#3590c6" stroke="#21597b" stroke-width="0.32" stroke-linejoin="round"/>
<polygon points="325.87,174.31 329.26,174.70 329.29,160.16 325.88,159.78" fill="#3992c7" stroke="#21597b" stroke-width="0.32" stroke-linejoin="round"/>
<polygon points="325.88,159.78 329.29,160.16 335.40,150.13 332.09,149.78" fill="#4197c9" stroke="#21597b" stroke-width="0.32" stroke-linejoin="round"/>
<polygon points="332.65,175.09 338.61,164.65 338.71,151.53 332.71,161.60" fill="#3590c6" stroke="#21597b" stroke-width="0.32" stroke-linejoin="round"/>
<polygon points="329.26,174.70 332.65,175.09 332.71,161.60 329.29,161.23" fill="#3992c7" stroke="#21597b" stroke-width="0.32" stroke-linejoin="round"/>
<polygon points="329.29,161.23 332.71,161.60 338.71,151.53 335.39,151.17" fill="#4197c9" stroke="#21597b" stroke-width="0.32" stroke-linejoin="round"/>
<polygon points="336.05,175.48 341.91,165.01 342.02,152.92 336.13,163.05" fill="#3590c6" stroke="#21597b" stroke-width="0.32" stroke-linejoin="round"/>
<polygon points="332.65,175.09 336.05,175.48 336.13,163.05 332.70,162.67" fill="#3992c7" stroke="#21597b" stroke-width="0.32" stroke-linejoin="round"/>
<polygon points="332.70,162.67 336.13,163.05 342.02,152.92 338.70,152.57" fill="#4197c9" stroke="#21597b" stroke-width="0.32" stroke-linejoin="round"/>
<polygon points="339.46,175.87 345.21,165.38 345.40,148.06 339.60,158.06" fill="#3590c6" stroke="#21597b" stroke-width="0.32" stroke-linejoin="round"/>
<polygon points="336.05,175.48 339.46,175.87 339.60,158.06 336.16,157.68" fill="#3992c7" stroke="#21597b" stroke-width="0.32" stroke-linejoin="round"/>
<polygon points="336.16,157.68 339.60,158.06 345.40,148.06 342.06,147.71" fill="#4197c9" stroke="#21597b" stroke-width="0.32" stroke-linejoin="round"/>
<polygon points="342.88,176.26 348.53,165.75 348.72,150.50 343.03,160.58" fill="#3590c6" stroke="#21597b" stroke-width="0.32" stroke-linejoin="round"/>
<polygon points="339.46,175.87 342.88,176.26 343.03,160.58 339.58,160.21" fill="#3992c7" stroke="#21597b" stroke-width="0.32" stroke-linejoin="round"/>
<polygon points="339.58,160.21 343.03,160.58 348.72,150.50 345.38,150.15" fill="#4197c9" stroke="#21597b" stroke-width="0.32" stroke-linejoin="round"/>
<polygon points="346.30,176.65 351.85,166.11 352.03,152.94 346.46,163.11" fill="#3590c6" stroke="#21597b" stroke-width="0.32" stroke-linejoin="round"/>
<polygon points="342.88,176.26 346.30,176.65 346.46,163.11 343.01,162.73" fill="#3992c7" stroke="#21597b" stroke-width="0.32" stroke-linejoin="round"/>
<polygon points="343.01,162.73 346.46,163.11 352.03,152.94 348.69,152.59" fill="#4197c9" stroke="#21597b" stroke-width="0.32" stroke-linejoin="round"/>
<polygon points="349.73,177.04 355.17,166.48 355.47,148.06 349.99,158.10" fill="#3590c6" stroke="#21597b" stroke-width="0.32" stroke-linejoin="round"/>
<polygon points="346.30,176.65 349.73,177.04 349.99,158.10 346.52,157.73" fill="#3992c7" stroke="#21597b" stroke-width="0.32" stroke-linejoin="round"/>
<polygon points="346.52,157.73 349.99,158.10 355.47,148.06 352.11,147.71" fill="#4197c9" stroke="#21597b" stroke-width="0.32" stroke-linejoin="round"/>
<polygon points="353.17,177.43 358.50,166.85 358.91,144.20 353.53,154.14" fill="#3590c6" stroke="#21597b" stroke-width="0.32" stroke-linejoin="round"/>
<polygon points="349.73,177.04 353.17,177.43 353.53,154.14 350.04,153.77" fill="#3992c7" stroke="#21597b" stroke-width="0.32" stroke-linejoin="round"/>
<polygon points="350.04,153.77 353.53,154.14 358.91,144.20 355.54,143.85" fill="#4197c9" stroke="#21597b" stroke-width="0.32" stroke-linejoin="round"/>
<polygon points="356.62,177.82 361.85,167.22 362.25,146.66 356.98,156.69" fill="#3590c6" stroke="#21597b" stroke-width="0.32" stroke-linejoin="round"/>
<polygon points="353.17,177.43 356.62,177.82 356.98,156.69 353.49,156.31" fill="#3992c7" stroke="#21597b" stroke-width="0.32" stroke-linejoin="round"/>
<polygon points="353.49,156.31 356.98,156.69 362.25,146.66 358.87,146.31" fill="#4197c9" stroke="#21597b" stroke-width="0.32" stroke-linejoin="round"/>
<polygon points="360.07,178.22 365.19,167.59 365.57,150.17 360.41,160.31" fill="#3590c6" stroke="#21597b" stroke-width="0.32" stroke-linejoin="round"/>
<polygon points="356.62,177.82 360.07,178.22 360.41,160.31 356.92,159.94" fill="#3992c7" stroke="#21597b" stroke-width="0.32" stroke-linejoin="round"/>
<polygon points="356.92,159.94 360.41,160.31 365.57,150.17 362.19,149.82" fill="#4197c9" stroke="#21597b" stroke-width="0.32" stroke-linejoin="round"/>
<polygon points="363.54,178.61 368.55,167.96 369.05,146.31 364.00,156.35" fill="#3590c6" stroke="#21597b" stroke-width="0.32" stroke-linejoin="round"/>
<polygon points="360.07,178.22 363.54,178.61 364.00,156.35 360.49,155.97" fill="#3992c7" stroke="#21597b" stroke-width="0.32" stroke-linejoin="round"/>
<polygon points="360.49,155.97 364.00,156.35 369.05,146.31 365.66,145.95" fill="#4197c9" stroke="#21597b" stroke-width="0.32" stroke-linejoin="round"/>
<polygon points="367.01,179.01 371.91,168.33 372.53,143.48 367.58,153.45" fill="#3590c6" stroke="#21597b" stroke-width="0.32" stroke-linejoin="round"/>
<polygon points="363.54,178.61 367.01,179.01 367.58,153.45 364.06,153.08" fill="#3992c7" stroke="#21597b" stroke-width="0.32" stroke-linejoin="round"/>
<polygon points="364.06,153.08 367.58,153.45 372.53,143.48 369.13,143.13" fill="#4197c9" stroke="#21597b" stroke-width="0.32" stroke-linejoin="round"/>
<polygon points="370.48,179.41 375.28,168.70 376.06,139.56 371.22,149.44" fill="#3590c6" stroke="#21597b" stroke-width="0.32" stroke-linejoin="round"/>
<polygon points="367.01,179.01 370.48,179.41 371.22,149.44 367.68,149.07" fill="#3992c7" stroke="#21597b" stroke-width="0.32" stroke-linejoin="round"/>
<polygon points="367.68,149.07 371.22,149.44 376.06,139.56 372.64,139.21" fill="#4197c9" stroke="#21597b" stroke-width="0.32" stroke-linejoin="round"/>
<polygon points="373.97,179.80 378.65,169.08 379.68,133.47 374.93,143.18" fill="#3590c6" stroke="#21597b" stroke-width="0.32" stroke-linejoin="round"/>
<polygon points="370.48,179.41 373.97,179.80 374.93,143.18 371.38,142.82" fill="#3992c7" stroke="#21597b" stroke-width="0.32" stroke-linejoin="round"/>
<polygon points="371.38,142.82 374.93,143.18 379.68,133.47 376.24,133.13" fill="#4197c9" stroke="#21597b" stroke-width="0.32" stroke-linejoin="round"/>
<polygon points="377.46,180.20 382.04,169.45 383.26,129.49 378.62,139.10" fill="#3590c6" stroke="#21597b" stroke-width="0.32" stroke-linejoin="round"/>
<polygon points="373.97,179.80 377.46,180.20 378.62,139.10 375.05,138.74" fill="#3992c7" stroke="#21597b" stroke-width="0.32" stroke-linejoin="round"/>
<polygon points="375.05,138.74 378.62,139.10 383.26,129.49 379.80,129.15" fill="#4197c9" stroke="#21597b" stroke-width="0.32" stroke-linejoin="round"/>
<polygon points="380.96,180.60 385.43,169.83 386.97,122.21 382.44,131.62" fill="#3590c6" stroke="#21597b" stroke-width="0.32" stroke-linejoin="round"/>
<polygon points="377.46,180.20 380.96,180.60 382.44,131.62 378.84,131.27" fill="#3992c7" stroke="#21597b" stroke-width="0.32" stroke-linejoin="round"/>
<polygon points="378.84,131.27 382.44,131.62 386.97,122.21 383.49,121.88" fill="#4197c9" stroke="#21597b" stroke-width="0.32" stroke-linejoin="round"/>
<polygon points="384.47,181.00 388.83,170.20 390.72,114.86 386.29,124.06" fill="#3590c6" stroke="#21597b" stroke-width="0.32" stroke-linejoin="round"/>
<polygon points="380.96,180.60 384.47,181.00 386.29,124.06 382.67,123.72" fill="#3992c7" stroke="#21597b" stroke-width="0.32" stroke-linejoin="round"/>
<polygon points="382.67,123.72 386.29,124.06 390.72,114.86 387.22,114.54" fill="#4197c9" stroke="#21597b" stroke-width="0.32" stroke-linejoin="round"/>
<line x1="248.09" y1="172.52" x2="242.59" y2="39.68" stroke="#3c3c3c" stroke-width="0.8" stroke-linecap="butt"/>
<line x1="248.09" y1="172.52" x2="383.25" y2="188.26" stroke="#3c3c3c" stroke-width="0.8" stroke-linecap="butt"/>
<line x1="383.25" y1="188.26" x2="405.66" y2="132.03" stroke="#3c3c3c" stroke-width="0.8" stroke-linecap="butt"/>
<line x1="248.09" y1="172.52" x2="253.15" y2="166.48" stroke="#3c3c3c" stroke-width="0.6" stroke-linecap="butt"/>
<line x1="241.79" y1="173.12" x2="248.09" y2="172.52" stroke="#3c3c3c" stroke-width="0.8" stroke-linecap="butt"/>
<text x="239.59" y="176.12" font-size="8.3" text-anchor="end" fill="#231f20" font-weight="normal">0</text>
<line x1="240.92" y1="152.22" x2="247.22" y2="151.62" stroke="#3c3c3c" stroke-width="0.8" stroke-linecap="butt"/>
<text x="238.72" y="155.22" font-size="8.3" text-anchor="end" fill="#231f20" font-weight="normal">20</text>
<line x1="240.04" y1="130.85" x2="246.34" y2="130.25" stroke="#3c3c3c" stroke-width="0.8" stroke-linecap="butt"/>
<text x="237.84" y="133.85" font-size="8.3" text-anchor="end" fill="#231f20" font-weight="normal">40</text>
<line x1="239.13" y1="108.99" x2="245.43" y2="108.39" stroke="#3c3c3c" stroke-width="0.8" stroke-linecap="butt"/>
<text x="236.93" y="111.99" font-size="8.3" text-anchor="end" fill="#231f20" font-weight="normal">60</text>
<line x1="238.21" y1="86.62" x2="244.51" y2="86.02" stroke="#3c3c3c" stroke-width="0.8" stroke-linecap="butt"/>
<text x="236.01" y="89.62" font-size="8.3" text-anchor="end" fill="#231f20" font-weight="normal">80</text>
<line x1="237.26" y1="63.72" x2="243.56" y2="63.12" stroke="#3c3c3c" stroke-width="0.8" stroke-linecap="butt"/>
<text x="235.06" y="66.72" font-size="8.3" text-anchor="end" fill="#231f20" font-weight="normal">100</text>
<line x1="236.29" y1="40.28" x2="242.59" y2="39.68" stroke="#3c3c3c" stroke-width="0.8" stroke-linecap="butt"/>
<text x="234.09" y="43.28" font-size="8.3" text-anchor="end" fill="#231f20" font-weight="normal">120</text>
<line x1="280.18" y1="177.33" x2="279.58" y2="181.83" stroke="#3c3c3c" stroke-width="0.8" stroke-linecap="butt"/>
<line x1="313.60" y1="181.22" x2="313.00" y2="185.72" stroke="#3c3c3c" stroke-width="0.8" stroke-linecap="butt"/>
<line x1="347.74" y1="185.20" x2="347.14" y2="189.70" stroke="#3c3c3c" stroke-width="0.8" stroke-linecap="butt"/>
<line x1="383.25" y1="188.26" x2="382.45" y2="193.26" stroke="#3c3c3c" stroke-width="0.8" stroke-linecap="butt"/>
<text x="379.05" y="203.26" font-size="8.3" text-anchor="middle" fill="#231f20" font-weight="normal">1</text>
<text x="217.80" y="108.80" font-size="8.3" text-anchor="middle" fill="#231f20" font-weight="normal" transform="rotate(-90 217.80 108.80)">Number of IpA isoforms</text>
<text x="309.70" y="197.80" font-size="8.3" text-anchor="middle" fill="#231f20" font-weight="normal" transform="rotate(5.5 309.70 197.80)">Retained CDR</text>
<text x="388.53" y="183.53" font-size="8.3" text-anchor="start" fill="#231f20" font-weight="normal" transform="rotate(22 388.53 183.53)">NB</text>
<text x="394.63" y="168.22" font-size="8.3" text-anchor="start" fill="#231f20" font-weight="normal" transform="rotate(22 394.63 168.22)">PC</text>
<text x="400.19" y="154.27" font-size="8.3" text-anchor="start" fill="#231f20" font-weight="normal" transform="rotate(22 400.19 154.27)">Blood NB</text>
<text x="405.28" y="141.51" font-size="8.3" text-anchor="start" fill="#231f20" font-weight="normal" transform="rotate(22 405.28 141.51)">Blood T</text>
<line x1="530.24" y1="7.57" x2="651.42" y2="14.99" stroke="#3c3c3c" stroke-width="0.8" stroke-linecap="butt"/>
<line x1="483.39" y1="39.68" x2="530.24" y2="7.57" stroke="#3c3c3c" stroke-width="0.8" stroke-linecap="butt"/>
<line x1="651.42" y1="14.99" x2="646.46" y2="132.03" stroke="#3c3c3c" stroke-width="0.8" stroke-linecap="butt"/>
<line x1="530.24" y1="7.57" x2="532.23" y2="120.83" stroke="#3c3c3c" stroke-width="0.8" stroke-linecap="butt"/>
<line x1="483.39" y1="39.68" x2="628.40" y2="50.24" stroke="#8a8a8a" stroke-width="0.6" stroke-dasharray="2,1.6" stroke-linecap="butt"/>
<line x1="628.40" y1="50.24" x2="624.05" y2="188.26" stroke="#8a8a8a" stroke-width="0.6" stroke-dasharray="2,1.6" stroke-linecap="butt"/>
<line x1="628.40" y1="50.24" x2="651.42" y2="14.99" stroke="#3c3c3c" stroke-width="0.6" stroke-linecap="butt"/>
<polygon points="527.09,126.59 533.48,118.99 532.34,52.18 525.70,58.09" fill="#e8b170" stroke="#906e45" stroke-width="0.32" stroke-linejoin="round"/>
<polygon points="524.24,126.31 527.09,126.59 525.70,58.09 522.75,57.86" fill="#e8b373" stroke="#906e45" stroke-width="0.32" stroke-linejoin="round"/>
<polygon points="522.75,57.86 525.70,58.09 532.34,52.18 529.47,51.96" fill="#e9b679" stroke="#906e45" stroke-width="0.32" stroke-linejoin="round"/>
<polygon points="529.95,126.88 536.26,119.26 536.02,104.09 529.66,111.34" fill="#e8b170" stroke="#906e45" stroke-width="0.32" stroke-linejoin="round"/>
<polygon points="527.09,126.59 529.95,126.88 529.66,111.34 526.78,111.06" fill="#e8b373" stroke="#906e45" stroke-width="0.32" stroke-linejoin="round"/>
<polygon points="526.78,111.06 529.66,111.34 536.02,104.09 533.22,103.83" fill="#e9b679" stroke="#906e45" stroke-width="0.32" stroke-linejoin="round"/>
<polygon points="532.81,127.16 539.05,119.53 538.83,104.35 532.54,111.61" fill="#e8b170" stroke="#906e45" stroke-width="0.32" stroke-linejoin="round"/>
<polygon points="529.95,126.88 532.81,127.16 532.54,111.61 529.66,111.34" fill="#e8b373" stroke="#906e45" stroke-width="0.32" stroke-linejoin="round"/>
<polygon points="529.66,111.34 532.54,111.61 538.83,104.35 536.02,104.09" fill="#e9b679" stroke="#906e45" stroke-width="0.32" stroke-linejoin="round"/>
<polygon points="535.68,127.45 541.84,119.80 541.60,100.94 535.37,108.12" fill="#e8b170" stroke="#906e45" stroke-width="0.32" stroke-linejoin="round"/>
<polygon points="532.81,127.16 535.68,127.45 535.37,108.12 532.47,107.85" fill="#e8b373" stroke="#906e45" stroke-width="0.32" stroke-linejoin="round"/>
<polygon points="532.47,107.85 535.37,108.12 541.60,100.94 538.78,100.68" fill="#e9b679" stroke="#906e45" stroke-width="0.32" stroke-linejoin="round"/>
<polygon points="538.55,127.74 544.64,120.08 544.40,98.43 538.23,105.56" fill="#e8b170" stroke="#906e45" stroke-width="0.32" stroke-linejoin="round"/>
<polygon points="535.68,127.45 538.55,127.74 538.23,105.56 535.33,105.29" fill="#e8b373" stroke="#906e45" stroke-width="0.32" stroke-linejoin="round"/>
<polygon points="535.33,105.29 538.23,105.56 544.40,98.43 541.57,98.17" fill="#e9b679" stroke="#906e45" stroke-width="0.32" stroke-linejoin="round"/>
<polygon points="541.43,128.02 547.44,120.35 547.23,98.69 541.14,105.83" fill="#e8b170" stroke="#906e45" stroke-width="0.32" stroke-linejoin="round"/>
<polygon points="538.55,127.74 541.43,128.02 541.14,105.83 538.23,105.56" fill="#e8b373" stroke="#906e45" stroke-width="0.32" stroke-linejoin="round"/>
<polygon points="538.23,105.56 541.14,105.83 547.23,98.69 544.40,98.43" fill="#e9b679" stroke="#906e45" stroke-width="0.32" stroke-linejoin="round"/>
<polygon points="544.31,128.31 550.25,120.62 550.11,103.56 544.11,110.83" fill="#e8b170" stroke="#906e45" stroke-width="0.32" stroke-linejoin="round"/>
<polygon points="541.43,128.02 544.31,128.31 544.11,110.83 541.20,110.55" fill="#e8b373" stroke="#906e45" stroke-width="0.32" stroke-linejoin="round"/>
<polygon points="541.20,110.55 544.11,110.83 550.11,103.56 547.28,103.30" fill="#e9b679" stroke="#906e45" stroke-width="0.32" stroke-linejoin="round"/>
<polygon points="547.20,128.60 553.06,120.90 552.95,104.74 547.03,112.05" fill="#e8b170" stroke="#906e45" stroke-width="0.32" stroke-linejoin="round"/>
<polygon points="544.31,128.31 547.20,128.60 547.03,112.05 544.12,111.77" fill="#e8b373" stroke="#906e45" stroke-width="0.32" stroke-linejoin="round"/>
<polygon points="544.12,111.77 547.03,112.05 552.95,104.74 550.12,104.48" fill="#e9b679" stroke="#906e45" stroke-width="0.32" stroke-linejoin="round"/>
<polygon points="550.09,128.89 555.88,121.17 555.79,103.16 549.94,110.43" fill="#e8b170" stroke="#906e45" stroke-width="0.32" stroke-linejoin="round"/>
<polygon points="547.20,128.60 550.09,128.89 549.94,110.43 547.02,110.16" fill="#e8b373" stroke="#906e45" stroke-width="0.32" stroke-linejoin="round"/>
<polygon points="547.02,110.16 549.94,110.43 555.79,103.16 552.94,102.90" fill="#e9b679" stroke="#906e45" stroke-width="0.32" stroke-linejoin="round"/>
<polygon points="552.99,129.18 558.71,121.45 558.63,100.64 552.85,107.86" fill="#e8b170" stroke="#906e45" stroke-width="0.32" stroke-linejoin="round"/>
<polygon points="550.09,128.89 552.99,129.18 552.85,107.86 549.91,107.59" fill="#e8b373" stroke="#906e45" stroke-width="0.32" stroke-linejoin="round"/>
<polygon points="549.91,107.59 552.85,107.86 558.63,100.64 555.77,100.38" fill="#e9b679" stroke="#906e45" stroke-width="0.32" stroke-linejoin="round"/>
<polygon points="555.89,129.47 561.53,121.72 561.50,108.29 555.82,115.71" fill="#e8b170" stroke="#906e45" stroke-width="0.32" stroke-linejoin="round"/>
<polygon points="552.99,129.18 555.89,129.47 555.82,115.71 552.90,115.43" fill="#e8b373" stroke="#906e45" stroke-width="0.32" stroke-linejoin="round"/>
<polygon points="552.90,115.43 555.82,115.71 561.50,108.29 558.65,108.03" fill="#e9b679" stroke="#906e45" stroke-width="0.32" stroke-linejoin="round"/>
<polygon points="558.80,129.76 564.37,122.00 564.36,106.71 558.75,114.10" fill="#e8b170" stroke="#906e45" stroke-width="0.32" stroke-linejoin="round"/>
<polygon points="555.89,129.47 558.80,129.76 558.75,114.10 555.81,113.82" fill="#e8b373" stroke="#906e45" stroke-width="0.32" stroke-linejoin="round"/>
<polygon points="555.81,113.82 558.75,114.10 564.36,106.71 561.50,106.45" fill="#e9b679" stroke="#906e45" stroke-width="0.32" stroke-linejoin="round"/>
<polygon points="561.72,130.06 567.21,122.27 567.22,108.82 561.69,116.27" fill="#e8b170" stroke="#906e45" stroke-width="0.32" stroke-linejoin="round"/>
<polygon points="558.80,129.76 561.72,130.06 561.69,116.27 558.75,115.99" fill="#e8b373" stroke="#906e45" stroke-width="0.32" stroke-linejoin="round"/>
<polygon points="558.75,115.99 561.69,116.27 567.22,108.82 564.36,108.56" fill="#e9b679" stroke="#906e45" stroke-width="0.32" stroke-linejoin="round"/>
<polygon points="564.64,130.35 570.05,122.55 570.06,117.35 564.64,125.02" fill="#e8b170" stroke="#906e45" stroke-width="0.32" stroke-linejoin="round"/>
<polygon points="561.72,130.06 564.64,130.35 564.64,125.02 561.71,124.73" fill="#e8b373" stroke="#906e45" stroke-width="0.32" stroke-linejoin="round"/>
<polygon points="561.71,124.73 564.64,125.02 570.06,117.35 567.21,117.08" fill="#e9b679" stroke="#906e45" stroke-width="0.32" stroke-linejoin="round"/>
<polygon points="567.57,130.64 572.90,122.83 572.94,113.04 567.58,120.61" fill="#e8b170" stroke="#906e45" stroke-width="0.32" stroke-linejoin="round"/>
<polygon points="564.64,130.35 567.57,130.64 567.58,120.61 564.63,120.33" fill="#e8b373" stroke="#906e45" stroke-width="0.32" stroke-linejoin="round"/>
<polygon points="564.63,120.33 567.58,120.61 572.94,113.04 570.07,112.77" fill="#e9b679" stroke="#906e45" stroke-width="0.32" stroke-linejoin="round"/>
<polygon points="570.50,130.93 575.76,123.11 575.83,109.62 570.53,117.12" fill="#e8b170" stroke="#906e45" stroke-width="0.32" stroke-linejoin="round"/>
<polygon points="567.57,130.64 570.50,130.93 570.53,117.12 567.58,116.83" fill="#e8b373" stroke="#906e45" stroke-width="0.32" stroke-linejoin="round"/>
<polygon points="567.58,116.83 570.53,117.12 575.83,109.62 572.95,109.36" fill="#e9b679" stroke="#906e45" stroke-width="0.32" stroke-linejoin="round"/>
<polygon points="573.44,131.23 578.62,123.38 578.71,109.89 573.49,117.40" fill="#e8b170" stroke="#906e45" stroke-width="0.32" stroke-linejoin="round"/>
<polygon points="570.50,130.93 573.44,131.23 573.49,117.40 570.53,117.12" fill="#e8b373" stroke="#906e45" stroke-width="0.32" stroke-linejoin="round"/>
<polygon points="570.53,117.12 573.49,117.40 578.71,109.89 575.83,109.62" fill="#e9b679" stroke="#906e45" stroke-width="0.32" stroke-linejoin="round"/>
<polygon points="576.38,131.52 581.48,123.66 581.58,112.01 576.45,119.58" fill="#e8b170" stroke="#906e45" stroke-width="0.32" stroke-linejoin="round"/>
<polygon points="573.44,131.23 576.38,131.52 576.45,119.58 573.48,119.29" fill="#e8b373" stroke="#906e45" stroke-width="0.32" stroke-linejoin="round"/>
<polygon points="573.48,119.29 576.45,119.58 581.58,112.01 578.69,111.74" fill="#e9b679" stroke="#906e45" stroke-width="0.32" stroke-linejoin="round"/>
<polygon points="579.33,131.82 584.35,123.94 584.44,115.05 579.39,122.70" fill="#e8b170" stroke="#906e45" stroke-width="0.32" stroke-linejoin="round"/>
<polygon points="576.38,131.52 579.33,131.82 579.39,122.70 576.43,122.41" fill="#e8b373" stroke="#906e45" stroke-width="0.32" stroke-linejoin="round"/>
<polygon points="576.43,122.41 579.39,122.70 584.44,115.05 581.55,114.77" fill="#e9b679" stroke="#906e45" stroke-width="0.32" stroke-linejoin="round"/>
<polygon points="582.28,132.11 587.23,124.22 587.30,118.08 582.34,125.82" fill="#e8b170" stroke="#906e45" stroke-width="0.32" stroke-linejoin="round"/>
<polygon points="579.33,131.82 582.28,132.11 582.34,125.82 579.37,125.53" fill="#e8b373" stroke="#906e45" stroke-width="0.32" stroke-linejoin="round"/>
<polygon points="579.37,125.53 582.34,125.82 587.30,118.08 584.41,117.81" fill="#e9b679" stroke="#906e45" stroke-width="0.32" stroke-linejoin="round"/>
<polygon points="585.24,132.41 590.11,124.50 590.23,114.67 585.34,122.33" fill="#e8b170" stroke="#906e45" stroke-width="0.32" stroke-linejoin="round"/>
<polygon points="582.28,132.11 585.24,132.41 585.34,122.33 582.37,122.04" fill="#e8b373" stroke="#906e45" stroke-width="0.32" stroke-linejoin="round"/>
<polygon points="582.37,122.04 585.34,122.33 590.23,114.67 587.34,114.40" fill="#e9b679" stroke="#906e45" stroke-width="0.32" stroke-linejoin="round"/>
<polygon points="588.21,132.71 592.99,124.78 593.16,113.09 588.35,120.72" fill="#e8b170" stroke="#906e45" stroke-width="0.32" stroke-linejoin="round"/>
<polygon points="585.24,132.41 588.21,132.71 588.35,120.72 585.36,120.44" fill="#e8b373" stroke="#906e45" stroke-width="0.32" stroke-linejoin="round"/>
<polygon points="585.36,120.44 588.35,120.72 593.16,113.09 590.26,112.82" fill="#e9b679" stroke="#906e45" stroke-width="0.32" stroke-linejoin="round"/>
<polygon points="591.18,133.00 595.89,125.07 596.07,113.37 591.34,121.01" fill="#e8b170" stroke="#906e45" stroke-width="0.32" stroke-linejoin="round"/>
<polygon points="588.21,132.71 591.18,133.00 591.34,121.01 588.35,120.72" fill="#e8b373" stroke="#906e45" stroke-width="0.32" stroke-linejoin="round"/>
<polygon points="588.35,120.72 591.34,121.01 596.07,113.37 593.16,113.09" fill="#e9b679" stroke="#906e45" stroke-width="0.32" stroke-linejoin="round"/>
<polygon points="594.15,133.30 598.78,125.35 599.02,111.78 594.36,119.40" fill="#e8b170" stroke="#906e45" stroke-width="0.32" stroke-linejoin="round"/>
<polygon points="591.18,133.00 594.15,133.30 594.36,119.40 591.36,119.11" fill="#e8b373" stroke="#906e45" stroke-width="0.32" stroke-linejoin="round"/>
<polygon points="591.36,119.11 594.36,119.40 599.02,111.78 596.10,111.51" fill="#e9b679" stroke="#906e45" stroke-width="0.32" stroke-linejoin="round"/>
<polygon points="597.14,133.60 601.69,125.63 602.03,107.39 597.44,114.90" fill="#e8b170" stroke="#906e45" stroke-width="0.32" stroke-linejoin="round"/>
<polygon points="594.15,133.30 597.14,133.60 597.44,114.90 594.43,114.62" fill="#e8b373" stroke="#906e45" stroke-width="0.32" stroke-linejoin="round"/>
<polygon points="594.43,114.62 597.44,114.90 602.03,107.39 599.10,107.12" fill="#e9b679" stroke="#906e45" stroke-width="0.32" stroke-linejoin="round"/>
<polygon points="600.12,133.90 604.59,125.91 604.96,107.66 600.46,115.19" fill="#e8b170" stroke="#906e45" stroke-width="0.32" stroke-linejoin="round"/>
<polygon points="597.14,133.60 600.12,133.90 600.46,115.19 597.44,114.90" fill="#e8b373" stroke="#906e45" stroke-width="0.32" stroke-linejoin="round"/>
<polygon points="597.44,114.90 600.46,115.19 604.96,107.66 602.03,107.39" fill="#e9b679" stroke="#906e45" stroke-width="0.32" stroke-linejoin="round"/>
<polygon points="603.12,134.20 607.51,126.20 607.90,108.40 603.48,115.95" fill="#e8b170" stroke="#906e45" stroke-width="0.32" stroke-linejoin="round"/>
<polygon points="600.12,133.90 603.12,134.20 603.48,115.95 600.45,115.67" fill="#e8b373" stroke="#906e45" stroke-width="0.32" stroke-linejoin="round"/>
<polygon points="600.45,115.67 603.48,115.95 607.90,108.40 604.95,108.13" fill="#e9b679" stroke="#906e45" stroke-width="0.32" stroke-linejoin="round"/>
<polygon points="606.12,134.50 610.43,126.48 610.68,115.67 606.35,123.41" fill="#e8b170" stroke="#906e45" stroke-width="0.32" stroke-linejoin="round"/>
<polygon points="603.12,134.20 606.12,134.50 606.35,123.41 603.34,123.12" fill="#e8b373" stroke="#906e45" stroke-width="0.32" stroke-linejoin="round"/>
<polygon points="603.34,123.12 606.35,123.41 610.68,115.67 607.74,115.39" fill="#e9b679" stroke="#906e45" stroke-width="0.32" stroke-linejoin="round"/>
<polygon points="609.12,134.80 613.35,126.77 613.62,115.94 609.38,123.70" fill="#e8b170" stroke="#906e45" stroke-width="0.32" stroke-linejoin="round"/>
<polygon points="606.12,134.50 609.12,134.80 609.38,123.70 606.35,123.41" fill="#e8b373" stroke="#906e45" stroke-width="0.32" stroke-linejoin="round"/>
<polygon points="606.35,123.41 609.38,123.70 613.62,115.94 610.68,115.67" fill="#e9b679" stroke="#906e45" stroke-width="0.32" stroke-linejoin="round"/>
<polygon points="612.13,135.10 616.28,127.05 616.76,108.74 612.59,116.33" fill="#e8b170" stroke="#906e45" stroke-width="0.32" stroke-linejoin="round"/>
<polygon points="609.12,134.80 612.13,135.10 612.59,116.33 609.55,116.04" fill="#e8b373" stroke="#906e45" stroke-width="0.32" stroke-linejoin="round"/>
<polygon points="609.55,116.04 612.59,116.33 616.76,108.74 613.80,108.47" fill="#e9b679" stroke="#906e45" stroke-width="0.32" stroke-linejoin="round"/>
<polygon points="615.15,135.40 619.21,127.34 619.73,109.01 615.64,116.61" fill="#e8b170" stroke="#906e45" stroke-width="0.32" stroke-linejoin="round"/>
<polygon points="612.13,135.10 615.15,135.40 615.64,116.61 612.59,116.33" fill="#e8b373" stroke="#906e45" stroke-width="0.32" stroke-linejoin="round"/>
<polygon points="612.59,116.33 615.64,116.61 619.73,109.01 616.76,108.74" fill="#e9b679" stroke="#906e45" stroke-width="0.32" stroke-linejoin="round"/>
<polygon points="618.17,135.70 622.15,127.62 622.83,104.57 618.82,112.07" fill="#e8b170" stroke="#906e45" stroke-width="0.32" stroke-linejoin="round"/>
<polygon points="615.15,135.40 618.17,135.70 618.82,112.07 615.76,111.79" fill="#e8b373" stroke="#906e45" stroke-width="0.32" stroke-linejoin="round"/>
<polygon points="615.76,111.79 618.82,112.07 622.83,104.57 619.86,104.30" fill="#e9b679" stroke="#906e45" stroke-width="0.32" stroke-linejoin="round"/>
<polygon points="621.20,136.01 625.10,127.91 625.90,102.00 621.98,109.44" fill="#e8b170" stroke="#906e45" stroke-width="0.32" stroke-linejoin="round"/>
<polygon points="618.17,135.70 621.20,136.01 621.98,109.44 618.90,109.16" fill="#e8b373" stroke="#906e45" stroke-width="0.32" stroke-linejoin="round"/>
<polygon points="618.90,109.16 621.98,109.44 625.90,102.00 622.92,101.73" fill="#e9b679" stroke="#906e45" stroke-width="0.32" stroke-linejoin="round"/>
<polygon points="624.24,136.31 628.05,128.20 628.90,102.27 625.05,109.72" fill="#e8b170" stroke="#906e45" stroke-width="0.32" stroke-linejoin="round"/>
<polygon points="621.20,136.01 624.24,136.31 625.05,109.72 621.98,109.44" fill="#e8b373" stroke="#906e45" stroke-width="0.32" stroke-linejoin="round"/>
<polygon points="621.98,109.44 625.05,109.72 628.90,102.27 625.90,102.00" fill="#e9b679" stroke="#906e45" stroke-width="0.32" stroke-linejoin="round"/>
<polygon points="627.28,136.61 631.01,128.49 631.83,104.43 628.07,111.95" fill="#e8b170" stroke="#906e45" stroke-width="0.32" stroke-linejoin="round"/>
<polygon points="624.24,136.31 627.28,136.61 628.07,111.95 624.99,111.67" fill="#e8b373" stroke="#906e45" stroke-width="0.32" stroke-linejoin="round"/>
<polygon points="624.99,111.67 628.07,111.95 631.83,104.43 628.84,104.16" fill="#e9b679" stroke="#906e45" stroke-width="0.32" stroke-linejoin="round"/>
<polygon points="630.32,136.92 633.97,128.77 635.17,95.17 631.49,102.46" fill="#e8b170" stroke="#906e45" stroke-width="0.32" stroke-linejoin="round"/>
<polygon points="627.28,136.61 630.32,136.92 631.49,102.46 628.39,102.18" fill="#e8b373" stroke="#906e45" stroke-width="0.32" stroke-linejoin="round"/>
<polygon points="628.39,102.18 631.49,102.46 635.17,95.17 632.16,94.91" fill="#e9b679" stroke="#906e45" stroke-width="0.32" stroke-linejoin="round"/>
<polygon points="633.37,137.22 636.94,129.06 638.19,95.43 634.60,102.73" fill="#e8b170" stroke="#906e45" stroke-width="0.32" stroke-linejoin="round"/>
<polygon points="630.32,136.92 633.37,137.22 634.60,102.73 631.49,102.46" fill="#e8b373" stroke="#906e45" stroke-width="0.32" stroke-linejoin="round"/>
<polygon points="631.49,102.46 634.60,102.73 638.19,95.43 635.17,95.17" fill="#e9b679" stroke="#906e45" stroke-width="0.32" stroke-linejoin="round"/>
<polygon points="636.43,137.53 639.91,129.35 641.52,87.99 638.01,95.10" fill="#e8b170" stroke="#906e45" stroke-width="0.32" stroke-linejoin="round"/>
<polygon points="633.37,137.22 636.43,137.53 638.01,95.10 634.88,94.83" fill="#e8b373" stroke="#906e45" stroke-width="0.32" stroke-linejoin="round"/>
<polygon points="634.88,94.83 638.01,95.10 641.52,87.99 638.48,87.73" fill="#e9b679" stroke="#906e45" stroke-width="0.32" stroke-linejoin="round"/>
<polygon points="639.49,137.84 642.89,129.64 645.20,72.63 641.76,79.35" fill="#e8b170" stroke="#906e45" stroke-width="0.32" stroke-linejoin="round"/>
<polygon points="636.43,137.53 639.49,137.84 641.76,79.35 638.60,79.09" fill="#e8b373" stroke="#906e45" stroke-width="0.32" stroke-linejoin="round"/>
<polygon points="638.60,79.09 641.76,79.35 645.20,72.63 642.13,72.39" fill="#e9b679" stroke="#906e45" stroke-width="0.32" stroke-linejoin="round"/>
<polygon points="642.56,138.14 645.88,129.93 648.40,69.92 645.05,76.57" fill="#e8b170" stroke="#906e45" stroke-width="0.32" stroke-linejoin="round"/>
<polygon points="639.49,137.84 642.56,138.14 645.05,76.57 641.88,76.31" fill="#e8b373" stroke="#906e45" stroke-width="0.32" stroke-linejoin="round"/>
<polygon points="641.88,76.31 645.05,76.57 648.40,69.92 645.32,69.68" fill="#e9b679" stroke="#906e45" stroke-width="0.32" stroke-linejoin="round"/>
<polygon points="517.02,138.59 523.96,130.32 522.89,81.82 515.73,88.83" fill="#f4e533" stroke="#978e20" stroke-width="0.32" stroke-linejoin="round"/>
<polygon points="514.05,138.28 517.02,138.59 515.73,88.83 512.69,88.56" fill="#f4e637" stroke="#978e20" stroke-width="0.32" stroke-linejoin="round"/>
<polygon points="512.69,88.56 515.73,88.83 522.89,81.82 519.93,81.56" fill="#f5e73f" stroke="#978e20" stroke-width="0.32" stroke-linejoin="round"/>
<polygon points="519.99,138.90 526.85,130.61 526.69,122.46 519.79,130.53" fill="#f4e533" stroke="#978e20" stroke-width="0.32" stroke-linejoin="round"/>
<polygon points="517.02,138.59 519.99,138.90 519.79,130.53 516.80,130.23" fill="#f4e637" stroke="#978e20" stroke-width="0.32" stroke-linejoin="round"/>
<polygon points="516.80,130.23 519.79,130.53 526.69,122.46 523.78,122.17" fill="#f5e73f" stroke="#978e20" stroke-width="0.32" stroke-linejoin="round"/>
<polygon points="522.96,139.21 529.75,130.91 529.52,118.97 522.69,126.96" fill="#f4e533" stroke="#978e20" stroke-width="0.32" stroke-linejoin="round"/>
<polygon points="519.99,138.90 522.96,139.21 522.69,126.96 519.69,126.66" fill="#f4e637" stroke="#978e20" stroke-width="0.32" stroke-linejoin="round"/>
<polygon points="519.69,126.66 522.69,126.96 529.52,118.97 526.61,118.68" fill="#f5e73f" stroke="#978e20" stroke-width="0.32" stroke-linejoin="round"/>
<polygon points="525.95,139.52 532.65,131.20 532.44,119.25 525.69,127.27" fill="#f4e533" stroke="#978e20" stroke-width="0.32" stroke-linejoin="round"/>
<polygon points="522.96,139.21 525.95,139.52 525.69,127.27 522.69,126.96" fill="#f4e637" stroke="#978e20" stroke-width="0.32" stroke-linejoin="round"/>
<polygon points="522.69,126.96 525.69,127.27 532.44,119.25 529.52,118.97" fill="#f5e73f" stroke="#978e20" stroke-width="0.32" stroke-linejoin="round"/>
<polygon points="528.94,139.83 535.56,131.50 535.48,126.15 528.83,134.35" fill="#f4e533" stroke="#978e20" stroke-width="0.32" stroke-linejoin="round"/>
<polygon points="525.95,139.52 528.94,139.83 528.83,134.35 525.83,134.04" fill="#f4e637" stroke="#978e20" stroke-width="0.32" stroke-linejoin="round"/>
<polygon points="525.83,134.04 528.83,134.35 535.48,126.15 532.56,125.86" fill="#f5e73f" stroke="#978e20" stroke-width="0.32" stroke-linejoin="round"/>
<polygon points="531.93,140.14 538.48,131.79 538.34,122.66 531.76,130.78" fill="#f4e533" stroke="#978e20" stroke-width="0.32" stroke-linejoin="round"/>
<polygon points="528.94,139.83 531.93,140.14 531.76,130.78 528.75,130.48" fill="#f4e637" stroke="#978e20" stroke-width="0.32" stroke-linejoin="round"/>
<polygon points="528.75,130.48 531.76,130.78 538.34,122.66 535.42,122.37" fill="#f5e73f" stroke="#978e20" stroke-width="0.32" stroke-linejoin="round"/>
<polygon points="534.93,140.46 541.39,132.09 541.23,119.16 534.71,127.20" fill="#f4e533" stroke="#978e20" stroke-width="0.32" stroke-linejoin="round"/>
<polygon points="531.93,140.14 534.93,140.46 534.71,127.20 531.69,126.90" fill="#f4e637" stroke="#978e20" stroke-width="0.32" stroke-linejoin="round"/>
<polygon points="531.69,126.90 534.71,127.20 541.23,119.16 538.29,118.87" fill="#f5e73f" stroke="#978e20" stroke-width="0.32" stroke-linejoin="round"/>
<polygon points="537.94,140.77 544.32,132.38 544.25,126.08 537.84,134.30" fill="#f4e533" stroke="#978e20" stroke-width="0.32" stroke-linejoin="round"/>
<polygon points="534.93,140.46 537.94,140.77 537.84,134.30 534.82,134.00" fill="#f4e637" stroke="#978e20" stroke-width="0.32" stroke-linejoin="round"/>
<polygon points="534.82,134.00 537.84,134.30 544.25,126.08 541.31,125.79" fill="#f5e73f" stroke="#978e20" stroke-width="0.32" stroke-linejoin="round"/>
<polygon points="540.95,141.08 547.25,132.68 547.19,126.37 540.86,134.61" fill="#f4e533" stroke="#978e20" stroke-width="0.32" stroke-linejoin="round"/>
<polygon points="537.94,140.77 540.95,141.08 540.86,134.61 537.84,134.30" fill="#f4e637" stroke="#978e20" stroke-width="0.32" stroke-linejoin="round"/>
<polygon points="537.84,134.30 540.86,134.61 547.19,126.37 544.25,126.08" fill="#f5e73f" stroke="#978e20" stroke-width="0.32" stroke-linejoin="round"/>
<polygon points="543.96,141.40 550.19,132.98 550.13,125.72 543.88,133.95" fill="#f4e533" stroke="#978e20" stroke-width="0.32" stroke-linejoin="round"/>
<polygon points="540.95,141.08 543.96,141.40 543.88,133.95 540.85,133.64" fill="#f4e637" stroke="#978e20" stroke-width="0.32" stroke-linejoin="round"/>
<polygon points="540.85,133.64 543.88,133.95 550.13,125.72 547.18,125.42" fill="#f5e73f" stroke="#978e20" stroke-width="0.32" stroke-linejoin="round"/>
<polygon points="546.99,141.71 553.13,133.28 553.07,125.06 546.90,133.29" fill="#f4e533" stroke="#978e20" stroke-width="0.32" stroke-linejoin="round"/>
<polygon points="543.96,141.40 546.99,141.71 546.90,133.29 543.87,132.98" fill="#f4e637" stroke="#978e20" stroke-width="0.32" stroke-linejoin="round"/>
<polygon points="543.87,132.98 546.90,133.29 553.07,125.06 550.12,124.77" fill="#f5e73f" stroke="#978e20" stroke-width="0.32" stroke-linejoin="round"/>
<polygon points="550.02,142.03 556.07,133.57 556.05,129.14 549.98,137.48" fill="#f4e533" stroke="#978e20" stroke-width="0.32" stroke-linejoin="round"/>
<polygon points="546.99,141.71 550.02,142.03 549.98,137.48 546.94,137.17" fill="#f4e637" stroke="#978e20" stroke-width="0.32" stroke-linejoin="round"/>
<polygon points="546.94,137.17 549.98,137.48 556.05,129.14 553.10,128.85" fill="#f5e73f" stroke="#978e20" stroke-width="0.32" stroke-linejoin="round"/>
<polygon points="553.05,142.35 559.03,133.87 559.01,129.44 553.02,137.80" fill="#f4e533" stroke="#978e20" stroke-width="0.32" stroke-linejoin="round"/>
<polygon points="550.02,142.03 553.05,142.35 553.02,137.80 549.98,137.48" fill="#f4e637" stroke="#978e20" stroke-width="0.32" stroke-linejoin="round"/>
<polygon points="549.98,137.48 553.02,137.80 559.01,129.44 556.05,129.14" fill="#f5e73f" stroke="#978e20" stroke-width="0.32" stroke-linejoin="round"/>
<polygon points="556.09,142.66 561.99,134.17 561.97,126.89 556.05,135.19" fill="#f4e533" stroke="#978e20" stroke-width="0.32" stroke-linejoin="round"/>
<polygon points="553.05,142.35 556.09,142.66 556.05,135.19 553.00,134.88" fill="#f4e637" stroke="#978e20" stroke-width="0.32" stroke-linejoin="round"/>
<polygon points="553.00,134.88 556.05,135.19 561.97,126.89 559.00,126.59" fill="#f5e73f" stroke="#978e20" stroke-width="0.32" stroke-linejoin="round"/>
<polygon points="559.14,142.98 564.95,134.47 564.94,124.33 559.10,132.57" fill="#f4e533" stroke="#978e20" stroke-width="0.32" stroke-linejoin="round"/>
<polygon points="556.09,142.66 559.14,142.98 559.10,132.57 556.04,132.27" fill="#f4e637" stroke="#978e20" stroke-width="0.32" stroke-linejoin="round"/>
<polygon points="556.04,132.27 559.10,132.57 564.94,124.33 561.96,124.03" fill="#f5e73f" stroke="#978e20" stroke-width="0.32" stroke-linejoin="round"/>
<polygon points="562.19,143.30 567.92,134.78 567.92,131.28 562.19,139.71" fill="#f4e533" stroke="#978e20" stroke-width="0.32" stroke-linejoin="round"/>
<polygon points="559.14,142.98 562.19,143.30 562.19,139.71 559.13,139.40" fill="#f4e637" stroke="#978e20" stroke-width="0.32" stroke-linejoin="round"/>
<polygon points="559.13,139.40 562.19,139.71 567.92,131.28 564.95,130.98" fill="#f5e73f" stroke="#978e20" stroke-width="0.32" stroke-linejoin="round"/>
<polygon points="565.25,143.62 570.89,135.08 570.90,131.57 565.25,140.03" fill="#f4e533" stroke="#978e20" stroke-width="0.32" stroke-linejoin="round"/>
<polygon points="562.19,143.30 565.25,143.62 565.25,140.03 562.19,139.71" fill="#f4e637" stroke="#978e20" stroke-width="0.32" stroke-linejoin="round"/>
<polygon points="562.19,139.71 565.25,140.03 570.90,131.57 567.92,131.28" fill="#f5e73f" stroke="#978e20" stroke-width="0.32" stroke-linejoin="round"/>
<polygon points="568.32,143.94 573.88,135.38 573.90,129.02 568.33,137.42" fill="#f4e533" stroke="#978e20" stroke-width="0.32" stroke-linejoin="round"/>
<polygon points="565.25,143.62 568.32,143.94 568.33,137.42 565.25,137.11" fill="#f4e637" stroke="#978e20" stroke-width="0.32" stroke-linejoin="round"/>
<polygon points="565.25,137.11 568.33,137.42 573.90,129.02 570.91,128.73" fill="#f5e73f" stroke="#978e20" stroke-width="0.32" stroke-linejoin="round"/>
<polygon points="571.39,144.26 576.86,135.68 576.91,127.41 571.41,135.78" fill="#f4e533" stroke="#978e20" stroke-width="0.32" stroke-linejoin="round"/>
<polygon points="568.32,143.94 571.39,144.26 571.41,135.78 568.33,135.47" fill="#f4e637" stroke="#978e20" stroke-width="0.32" stroke-linejoin="round"/>
<polygon points="568.33,135.47 571.41,135.78 576.91,127.41 573.91,127.12" fill="#f5e73f" stroke="#978e20" stroke-width="0.32" stroke-linejoin="round"/>
<polygon points="574.47,144.58 579.85,135.99 579.90,129.62 574.50,138.05" fill="#f4e533" stroke="#978e20" stroke-width="0.32" stroke-linejoin="round"/>
<polygon points="571.39,144.26 574.47,144.58 574.50,138.05 571.41,137.74" fill="#f4e637" stroke="#978e20" stroke-width="0.32" stroke-linejoin="round"/>
<polygon points="571.41,137.74 574.50,138.05 579.90,129.62 576.90,129.32" fill="#f5e73f" stroke="#978e20" stroke-width="0.32" stroke-linejoin="round"/>
<polygon points="577.55,144.90 582.85,136.29 582.90,130.87 577.59,139.35" fill="#f4e533" stroke="#978e20" stroke-width="0.32" stroke-linejoin="round"/>
<polygon points="574.47,144.58 577.55,144.90 577.59,139.35 574.49,139.03" fill="#f4e637" stroke="#978e20" stroke-width="0.32" stroke-linejoin="round"/>
<polygon points="574.49,139.03 577.59,139.35 582.90,130.87 579.89,130.57" fill="#f5e73f" stroke="#978e20" stroke-width="0.32" stroke-linejoin="round"/>
<polygon points="580.64,145.22 585.86,136.59 585.91,131.17 580.68,139.66" fill="#f4e533" stroke="#978e20" stroke-width="0.32" stroke-linejoin="round"/>
<polygon points="577.55,144.90 580.64,145.22 580.68,139.66 577.59,139.35" fill="#f4e637" stroke="#978e20" stroke-width="0.32" stroke-linejoin="round"/>
<polygon points="577.59,139.35 580.68,139.66 585.91,131.17 582.90,130.87" fill="#f5e73f" stroke="#978e20" stroke-width="0.32" stroke-linejoin="round"/>
<polygon points="583.74,145.55 588.87,136.90 588.97,128.60 583.82,137.04" fill="#f4e533" stroke="#978e20" stroke-width="0.32" stroke-linejoin="round"/>
<polygon points="580.64,145.22 583.74,145.55 583.82,137.04 580.71,136.72" fill="#f4e637" stroke="#978e20" stroke-width="0.32" stroke-linejoin="round"/>
<polygon points="580.71,136.72 583.82,137.04 588.97,128.60 585.94,128.31" fill="#f5e73f" stroke="#978e20" stroke-width="0.32" stroke-linejoin="round"/>
<polygon points="586.84,145.87 591.88,137.20 592.05,125.06 586.98,133.41" fill="#f4e533" stroke="#978e20" stroke-width="0.32" stroke-linejoin="round"/>
<polygon points="583.74,145.55 586.84,145.87 586.98,133.41 583.85,133.10" fill="#f4e637" stroke="#978e20" stroke-width="0.32" stroke-linejoin="round"/>
<polygon points="583.85,133.10 586.98,133.41 592.05,125.06 589.01,124.77" fill="#f5e73f" stroke="#978e20" stroke-width="0.32" stroke-linejoin="round"/>
<polygon points="589.95,146.20 594.90,137.51 595.07,126.32 590.09,134.72" fill="#f4e533" stroke="#978e20" stroke-width="0.32" stroke-linejoin="round"/>
<polygon points="586.84,145.87 589.95,146.20 590.09,134.72 586.97,134.40" fill="#f4e637" stroke="#978e20" stroke-width="0.32" stroke-linejoin="round"/>
<polygon points="586.97,134.40 590.09,134.72 595.07,126.32 592.04,126.02" fill="#f5e73f" stroke="#978e20" stroke-width="0.32" stroke-linejoin="round"/>
<polygon points="593.06,146.52 597.93,137.82 598.10,127.58 593.21,136.02" fill="#f4e533" stroke="#978e20" stroke-width="0.32" stroke-linejoin="round"/>
<polygon points="589.95,146.20 593.06,146.52 593.21,136.02 590.08,135.70" fill="#f4e637" stroke="#978e20" stroke-width="0.32" stroke-linejoin="round"/>
<polygon points="590.08,135.70 593.21,136.02 598.10,127.58 595.06,127.28" fill="#f5e73f" stroke="#978e20" stroke-width="0.32" stroke-linejoin="round"/>
<polygon points="596.18,146.85 600.96,138.13 601.05,133.64 596.25,142.24" fill="#f4e533" stroke="#978e20" stroke-width="0.32" stroke-linejoin="round"/>
<polygon points="593.06,146.52 596.18,146.85 596.25,142.24 593.13,141.92" fill="#f4e637" stroke="#978e20" stroke-width="0.32" stroke-linejoin="round"/>
<polygon points="593.13,141.92 596.25,142.24 601.05,133.64 598.01,133.33" fill="#f5e73f" stroke="#978e20" stroke-width="0.32" stroke-linejoin="round"/>
<polygon points="599.31,147.17 604.00,138.43 604.09,133.94 599.39,142.57" fill="#f4e533" stroke="#978e20" stroke-width="0.32" stroke-linejoin="round"/>
<polygon points="596.18,146.85 599.31,147.17 599.39,142.57 596.25,142.24" fill="#f4e637" stroke="#978e20" stroke-width="0.32" stroke-linejoin="round"/>
<polygon points="596.25,142.24 599.39,142.57 604.09,133.94 601.05,133.64" fill="#f5e73f" stroke="#978e20" stroke-width="0.32" stroke-linejoin="round"/>
<polygon points="602.44,147.50 607.05,138.74 607.19,132.33 602.57,140.92" fill="#f4e533" stroke="#978e20" stroke-width="0.32" stroke-linejoin="round"/>
<polygon points="599.31,147.17 602.44,147.50 602.57,140.92 599.42,140.60" fill="#f4e637" stroke="#978e20" stroke-width="0.32" stroke-linejoin="round"/>
<polygon points="599.42,140.60 602.57,140.92 607.19,132.33 604.13,132.03" fill="#f5e73f" stroke="#978e20" stroke-width="0.32" stroke-linejoin="round"/>
<polygon points="605.58,147.83 610.10,139.05 610.47,122.97 605.93,131.33" fill="#f4e533" stroke="#978e20" stroke-width="0.32" stroke-linejoin="round"/>
<polygon points="602.44,147.50 605.58,147.83 605.93,131.33 602.76,131.02" fill="#f4e637" stroke="#978e20" stroke-width="0.32" stroke-linejoin="round"/>
<polygon points="602.76,131.02 605.93,131.33 610.47,122.97 607.40,122.68" fill="#f5e73f" stroke="#978e20" stroke-width="0.32" stroke-linejoin="round"/>
<polygon points="608.73,148.15 613.16,139.36 613.68,118.40 609.21,126.64" fill="#f4e533" stroke="#978e20" stroke-width="0.32" stroke-linejoin="round"/>
<polygon points="605.58,147.83 608.73,148.15 609.21,126.64 606.03,126.33" fill="#f4e637" stroke="#978e20" stroke-width="0.32" stroke-linejoin="round"/>
<polygon points="606.03,126.33 609.21,126.64 613.68,118.40 610.59,118.11" fill="#f5e73f" stroke="#978e20" stroke-width="0.32" stroke-linejoin="round"/>
<polygon points="611.88,148.48 616.22,139.67 616.72,120.64 612.35,128.96" fill="#f4e533" stroke="#978e20" stroke-width="0.32" stroke-linejoin="round"/>
<polygon points="608.73,148.15 611.88,148.48 612.35,128.96 609.17,128.65" fill="#f4e637" stroke="#978e20" stroke-width="0.32" stroke-linejoin="round"/>
<polygon points="609.17,128.65 612.35,128.96 616.72,120.64 613.63,120.35" fill="#f5e73f" stroke="#978e20" stroke-width="0.32" stroke-linejoin="round"/>
<polygon points="615.03,148.81 619.29,139.98 619.60,128.72 615.34,137.26" fill="#f4e533" stroke="#978e20" stroke-width="0.32" stroke-linejoin="round"/>
<polygon points="611.88,148.48 615.03,148.81 615.34,137.26 612.16,136.94" fill="#f4e637" stroke="#978e20" stroke-width="0.32" stroke-linejoin="round"/>
<polygon points="612.16,136.94 615.34,137.26 619.60,128.72 616.52,128.42" fill="#f5e73f" stroke="#978e20" stroke-width="0.32" stroke-linejoin="round"/>
<polygon points="618.20,149.14 622.36,140.29 622.96,120.26 618.77,128.58" fill="#f4e533" stroke="#978e20" stroke-width="0.32" stroke-linejoin="round"/>
<polygon points="615.03,148.81 618.20,149.14 618.77,128.58 615.57,128.27" fill="#f4e637" stroke="#978e20" stroke-width="0.32" stroke-linejoin="round"/>
<polygon points="615.57,128.27 618.77,128.58 622.96,120.26 619.85,119.96" fill="#f5e73f" stroke="#978e20" stroke-width="0.32" stroke-linejoin="round"/>
<polygon points="621.37,149.47 625.44,140.61 626.23,115.65 622.12,123.86" fill="#f4e533" stroke="#978e20" stroke-width="0.32" stroke-linejoin="round"/>
<polygon points="618.20,149.14 621.37,149.47 622.12,123.86 618.91,123.55" fill="#f4e637" stroke="#978e20" stroke-width="0.32" stroke-linejoin="round"/>
<polygon points="618.91,123.55 622.12,123.86 626.23,115.65 623.10,115.36" fill="#f5e73f" stroke="#978e20" stroke-width="0.32" stroke-linejoin="round"/>
<polygon points="624.55,149.80 628.53,140.92 629.52,111.00 625.50,119.10" fill="#f4e533" stroke="#978e20" stroke-width="0.32" stroke-linejoin="round"/>
<polygon points="621.37,149.47 624.55,149.80 625.50,119.10 622.27,118.79" fill="#f4e637" stroke="#978e20" stroke-width="0.32" stroke-linejoin="round"/>
<polygon points="622.27,118.79 625.50,119.10 629.52,111.00 626.38,110.71" fill="#f5e73f" stroke="#978e20" stroke-width="0.32" stroke-linejoin="round"/>
<polygon points="627.73,150.14 631.62,141.23 632.83,106.32 628.91,114.31" fill="#f4e533" stroke="#978e20" stroke-width="0.32" stroke-linejoin="round"/>
<polygon points="624.55,149.80 627.73,150.14 628.91,114.31 625.66,114.00" fill="#f4e637" stroke="#978e20" stroke-width="0.32" stroke-linejoin="round"/>
<polygon points="625.66,114.00 628.91,114.31 632.83,106.32 629.68,106.04" fill="#f5e73f" stroke="#978e20" stroke-width="0.32" stroke-linejoin="round"/>
<polygon points="630.92,150.47 634.72,141.55 636.17,101.61 632.34,109.48" fill="#f4e533" stroke="#978e20" stroke-width="0.32" stroke-linejoin="round"/>
<polygon points="627.73,150.14 630.92,150.47 632.34,109.48 629.08,109.18" fill="#f4e637" stroke="#978e20" stroke-width="0.32" stroke-linejoin="round"/>
<polygon points="629.08,109.18 632.34,109.48 636.17,101.61 633.01,101.33" fill="#f5e73f" stroke="#978e20" stroke-width="0.32" stroke-linejoin="round"/>
<polygon points="634.12,150.80 637.82,141.86 639.46,98.88 635.72,106.68" fill="#f4e533" stroke="#978e20" stroke-width="0.32" stroke-linejoin="round"/>
<polygon points="630.92,150.47 634.12,150.80 635.72,106.68 632.44,106.38" fill="#f4e637" stroke="#978e20" stroke-width="0.32" stroke-linejoin="round"/>
<polygon points="632.44,106.38 635.72,106.68 639.46,98.88 636.28,98.60" fill="#f5e73f" stroke="#978e20" stroke-width="0.32" stroke-linejoin="round"/>
<polygon points="637.32,151.14 640.93,142.18 642.76,96.14 639.11,103.87" fill="#f4e533" stroke="#978e20" stroke-width="0.32" stroke-linejoin="round"/>
<polygon points="634.12,150.80 637.32,151.14 639.11,103.87 635.83,103.57" fill="#f4e637" stroke="#978e20" stroke-width="0.32" stroke-linejoin="round"/>
<polygon points="635.83,103.57 639.11,103.87 642.76,96.14 639.57,95.86" fill="#f5e73f" stroke="#978e20" stroke-width="0.32" stroke-linejoin="round"/>
<polygon points="506.02,151.68 513.61,142.65 513.17,126.84 505.51,135.45" fill="#8ac43f" stroke="#567a27" stroke-width="0.32" stroke-linejoin="round"/>
<polygon points="502.94,151.34 506.02,151.68 505.51,135.45 502.39,135.13" fill="#8cc543" stroke="#567a27" stroke-width="0.32" stroke-linejoin="round"/>
<polygon points="502.39,135.13 505.51,135.45 513.17,126.84 510.14,126.54" fill="#91c84b" stroke="#567a27" stroke-width="0.32" stroke-linejoin="round"/>
<polygon points="509.12,152.02 516.61,142.97 516.19,126.65 508.61,135.27" fill="#8ac43f" stroke="#567a27" stroke-width="0.32" stroke-linejoin="round"/>
<polygon points="506.02,151.68 509.12,152.02 508.61,135.27 505.49,134.95" fill="#8cc543" stroke="#567a27" stroke-width="0.32" stroke-linejoin="round"/>
<polygon points="505.49,134.95 508.61,135.27 516.19,126.65 513.15,126.35" fill="#91c84b" stroke="#567a27" stroke-width="0.32" stroke-linejoin="round"/>
<polygon points="512.22,152.35 519.63,143.29 519.21,125.97 511.71,134.58" fill="#8ac43f" stroke="#567a27" stroke-width="0.32" stroke-linejoin="round"/>
<polygon points="509.12,152.02 512.22,152.35 511.71,134.58 508.58,134.26" fill="#8cc543" stroke="#567a27" stroke-width="0.32" stroke-linejoin="round"/>
<polygon points="508.58,134.26 511.71,134.58 519.21,125.97 516.16,125.67" fill="#91c84b" stroke="#567a27" stroke-width="0.32" stroke-linejoin="round"/>
<polygon points="515.33,152.69 522.65,143.61 522.30,128.25 514.90,136.93" fill="#8ac43f" stroke="#567a27" stroke-width="0.32" stroke-linejoin="round"/>
<polygon points="512.22,152.35 515.33,152.69 514.90,136.93 511.77,136.61" fill="#8cc543" stroke="#567a27" stroke-width="0.32" stroke-linejoin="round"/>
<polygon points="511.77,136.61 514.90,136.93 522.30,128.25 519.25,127.95" fill="#91c84b" stroke="#567a27" stroke-width="0.32" stroke-linejoin="round"/>
<polygon points="518.44,153.03 525.68,143.93 525.33,127.57 518.02,136.24" fill="#8ac43f" stroke="#567a27" stroke-width="0.32" stroke-linejoin="round"/>
<polygon points="515.33,152.69 518.44,153.03 518.02,136.24 514.88,135.92" fill="#8cc543" stroke="#567a27" stroke-width="0.32" stroke-linejoin="round"/>
<polygon points="514.88,135.92 518.02,136.24 525.33,127.57 522.28,127.27" fill="#91c84b" stroke="#567a27" stroke-width="0.32" stroke-linejoin="round"/>
<polygon points="521.56,153.37 528.71,144.25 528.37,126.89 521.14,135.55" fill="#8ac43f" stroke="#567a27" stroke-width="0.32" stroke-linejoin="round"/>
<polygon points="518.44,153.03 521.56,153.37 521.14,135.55 517.99,135.23" fill="#8cc543" stroke="#567a27" stroke-width="0.32" stroke-linejoin="round"/>
<polygon points="517.99,135.23 521.14,135.55 528.37,126.89 525.31,126.58" fill="#91c84b" stroke="#567a27" stroke-width="0.32" stroke-linejoin="round"/>
<polygon points="524.69,153.71 531.75,144.57 531.53,132.14 524.41,140.95" fill="#8ac43f" stroke="#567a27" stroke-width="0.32" stroke-linejoin="round"/>
<polygon points="521.56,153.37 524.69,153.71 524.41,140.95 521.26,140.62" fill="#8cc543" stroke="#567a27" stroke-width="0.32" stroke-linejoin="round"/>
<polygon points="521.26,140.62 524.41,140.95 531.53,132.14 528.47,131.83" fill="#91c84b" stroke="#567a27" stroke-width="0.32" stroke-linejoin="round"/>
<polygon points="527.82,154.05 534.80,144.89 534.56,130.47 527.52,139.26" fill="#8ac43f" stroke="#567a27" stroke-width="0.32" stroke-linejoin="round"/>
<polygon points="524.69,153.71 527.82,154.05 527.52,139.26 524.37,138.93" fill="#8cc543" stroke="#567a27" stroke-width="0.32" stroke-linejoin="round"/>
<polygon points="524.37,138.93 527.52,139.26 534.56,130.47 531.49,130.16" fill="#91c84b" stroke="#567a27" stroke-width="0.32" stroke-linejoin="round"/>
<polygon points="530.96,154.40 537.85,145.21 537.65,131.77 530.71,140.60" fill="#8ac43f" stroke="#567a27" stroke-width="0.32" stroke-linejoin="round"/>
<polygon points="527.82,154.05 530.96,154.40 530.71,140.60 527.54,140.27" fill="#8cc543" stroke="#567a27" stroke-width="0.32" stroke-linejoin="round"/>
<polygon points="527.54,140.27 530.71,140.60 537.65,131.77 534.58,131.46" fill="#91c84b" stroke="#567a27" stroke-width="0.32" stroke-linejoin="round"/>
<polygon points="534.11,154.74 540.91,145.54 540.73,132.09 533.87,140.93" fill="#8ac43f" stroke="#567a27" stroke-width="0.32" stroke-linejoin="round"/>
<polygon points="530.96,154.40 534.11,154.74 533.87,140.93 530.71,140.60" fill="#8cc543" stroke="#567a27" stroke-width="0.32" stroke-linejoin="round"/>
<polygon points="530.71,140.60 533.87,140.93 540.73,132.09 537.65,131.77" fill="#91c84b" stroke="#567a27" stroke-width="0.32" stroke-linejoin="round"/>
<polygon points="537.26,155.08 543.97,145.86 543.80,131.41 537.03,140.25" fill="#8ac43f" stroke="#567a27" stroke-width="0.32" stroke-linejoin="round"/>
<polygon points="534.11,154.74 537.26,155.08 537.03,140.25 533.86,139.92" fill="#8cc543" stroke="#567a27" stroke-width="0.32" stroke-linejoin="round"/>
<polygon points="533.86,139.92 537.03,140.25 543.80,131.41 540.71,131.10" fill="#91c84b" stroke="#567a27" stroke-width="0.32" stroke-linejoin="round"/>
<polygon points="540.42,155.43 547.04,146.19 546.92,134.69 540.26,143.63" fill="#8ac43f" stroke="#567a27" stroke-width="0.32" stroke-linejoin="round"/>
<polygon points="537.26,155.08 540.42,155.43 540.26,143.63 537.08,143.29" fill="#8cc543" stroke="#567a27" stroke-width="0.32" stroke-linejoin="round"/>
<polygon points="537.08,143.29 540.26,143.63 546.92,134.69 543.84,134.38" fill="#91c84b" stroke="#567a27" stroke-width="0.32" stroke-linejoin="round"/>
<polygon points="543.59,155.77 550.11,146.51 550.04,136.98 543.47,145.99" fill="#8ac43f" stroke="#567a27" stroke-width="0.32" stroke-linejoin="round"/>
<polygon points="540.42,155.43 543.59,155.77 543.47,145.99 540.29,145.65" fill="#8cc543" stroke="#567a27" stroke-width="0.32" stroke-linejoin="round"/>
<polygon points="540.29,145.65 543.47,145.99 550.04,136.98 546.94,136.67" fill="#91c84b" stroke="#567a27" stroke-width="0.32" stroke-linejoin="round"/>
<polygon points="546.76,156.12 553.20,146.84 553.12,134.83 546.63,143.79" fill="#8ac43f" stroke="#567a27" stroke-width="0.32" stroke-linejoin="round"/>
<polygon points="543.59,155.77 546.76,156.12 546.63,143.79 543.44,143.45" fill="#8cc543" stroke="#567a27" stroke-width="0.32" stroke-linejoin="round"/>
<polygon points="543.44,143.45 546.63,143.79 553.12,134.83 550.01,134.51" fill="#91c84b" stroke="#567a27" stroke-width="0.32" stroke-linejoin="round"/>
<polygon points="549.94,156.46 556.28,147.16 556.23,136.63 549.84,145.65" fill="#8ac43f" stroke="#567a27" stroke-width="0.32" stroke-linejoin="round"/>
<polygon points="546.76,156.12 549.94,156.46 549.84,145.65 546.65,145.31" fill="#8cc543" stroke="#567a27" stroke-width="0.32" stroke-linejoin="round"/>
<polygon points="546.65,145.31 549.84,145.65 556.23,136.63 553.13,136.31" fill="#91c84b" stroke="#567a27" stroke-width="0.32" stroke-linejoin="round"/>
<polygon points="553.12,156.81 559.38,147.49 559.35,138.93 553.06,148.02" fill="#8ac43f" stroke="#567a27" stroke-width="0.32" stroke-linejoin="round"/>
<polygon points="549.94,156.46 553.12,156.81 553.06,148.02 549.86,147.68" fill="#8cc543" stroke="#567a27" stroke-width="0.32" stroke-linejoin="round"/>
<polygon points="549.86,147.68 553.06,148.02 559.35,138.93 556.24,138.61" fill="#91c84b" stroke="#567a27" stroke-width="0.32" stroke-linejoin="round"/>
<polygon points="556.31,157.16 562.48,147.82 562.47,141.23 556.28,150.39" fill="#8ac43f" stroke="#567a27" stroke-width="0.32" stroke-linejoin="round"/>
<polygon points="553.12,156.81 556.31,157.16 556.28,150.39 553.07,150.05" fill="#8cc543" stroke="#567a27" stroke-width="0.32" stroke-linejoin="round"/>
<polygon points="553.07,150.05 556.28,150.39 562.47,141.23 559.36,140.90" fill="#91c84b" stroke="#567a27" stroke-width="0.32" stroke-linejoin="round"/>
<polygon points="559.51,157.51 565.59,148.15 565.58,138.58 559.48,147.69" fill="#8ac43f" stroke="#567a27" stroke-width="0.32" stroke-linejoin="round"/>
<polygon points="556.31,157.16 559.51,157.51 559.48,147.69 556.26,147.35" fill="#8cc543" stroke="#567a27" stroke-width="0.32" stroke-linejoin="round"/>
<polygon points="556.26,147.35 559.48,147.69 565.58,138.58 562.46,138.26" fill="#91c84b" stroke="#567a27" stroke-width="0.32" stroke-linejoin="round"/>
<polygon points="562.72,157.86 568.70,148.48 568.71,140.49 562.70,149.65" fill="#8ac43f" stroke="#567a27" stroke-width="0.32" stroke-linejoin="round"/>
<polygon points="559.51,157.51 562.72,157.86 562.70,149.65 559.48,149.31" fill="#8cc543" stroke="#567a27" stroke-width="0.32" stroke-linejoin="round"/>
<polygon points="559.48,149.31 562.70,149.65 568.71,140.49 565.58,140.17" fill="#91c84b" stroke="#567a27" stroke-width="0.32" stroke-linejoin="round"/>
<polygon points="565.93,158.21 571.82,148.81 571.84,143.19 565.93,152.44" fill="#8ac43f" stroke="#567a27" stroke-width="0.32" stroke-linejoin="round"/>
<polygon points="562.72,157.86 565.93,158.21 565.93,152.44 562.71,152.09" fill="#8cc543" stroke="#567a27" stroke-width="0.32" stroke-linejoin="round"/>
<polygon points="562.71,152.09 565.93,152.44 571.84,143.19 568.71,142.86" fill="#91c84b" stroke="#567a27" stroke-width="0.32" stroke-linejoin="round"/>
<polygon points="569.14,158.56 574.94,149.14 574.97,143.51 569.15,152.78" fill="#8ac43f" stroke="#567a27" stroke-width="0.32" stroke-linejoin="round"/>
<polygon points="565.93,158.21 569.14,158.56 569.15,152.78 565.93,152.44" fill="#8cc543" stroke="#567a27" stroke-width="0.32" stroke-linejoin="round"/>
<polygon points="565.93,152.44 569.15,152.78 574.97,143.51 571.84,143.19" fill="#91c84b" stroke="#567a27" stroke-width="0.32" stroke-linejoin="round"/>
<polygon points="572.37,158.91 578.07,149.47 578.14,138.87 572.41,148.03" fill="#8ac43f" stroke="#567a27" stroke-width="0.32" stroke-linejoin="round"/>
<polygon points="569.14,158.56 572.37,158.91 572.41,148.03 569.16,147.69" fill="#8cc543" stroke="#567a27" stroke-width="0.32" stroke-linejoin="round"/>
<polygon points="569.16,147.69 572.41,148.03 578.14,138.87 574.99,138.55" fill="#91c84b" stroke="#567a27" stroke-width="0.32" stroke-linejoin="round"/>
<polygon points="575.60,159.26 581.21,149.80 581.30,139.20 575.66,148.37" fill="#8ac43f" stroke="#567a27" stroke-width="0.32" stroke-linejoin="round"/>
<polygon points="572.37,158.91 575.60,159.26 575.66,148.37 572.41,148.03" fill="#8cc543" stroke="#567a27" stroke-width="0.32" stroke-linejoin="round"/>
<polygon points="572.41,148.03 575.66,148.37 581.30,139.20 578.14,138.87" fill="#91c84b" stroke="#567a27" stroke-width="0.32" stroke-linejoin="round"/>
<polygon points="578.84,159.61 584.36,150.13 584.46,139.52 578.91,148.72" fill="#8ac43f" stroke="#567a27" stroke-width="0.32" stroke-linejoin="round"/>
<polygon points="575.60,159.26 578.84,159.61 578.91,148.72 575.66,148.37" fill="#8cc543" stroke="#567a27" stroke-width="0.32" stroke-linejoin="round"/>
<polygon points="575.66,148.37 578.91,148.72 584.46,139.52 581.30,139.20" fill="#91c84b" stroke="#567a27" stroke-width="0.32" stroke-linejoin="round"/>
<polygon points="582.08,159.97 587.51,150.47 587.64,138.85 582.19,148.04" fill="#8ac43f" stroke="#567a27" stroke-width="0.32" stroke-linejoin="round"/>
<polygon points="578.84,159.61 582.08,159.97 582.19,148.04 578.92,147.69" fill="#8cc543" stroke="#567a27" stroke-width="0.32" stroke-linejoin="round"/>
<polygon points="578.92,147.69 582.19,148.04 587.64,138.85 584.47,138.52" fill="#91c84b" stroke="#567a27" stroke-width="0.32" stroke-linejoin="round"/>
<polygon points="585.34,160.32 590.66,150.80 590.79,141.17 585.44,150.43" fill="#8ac43f" stroke="#567a27" stroke-width="0.32" stroke-linejoin="round"/>
<polygon points="582.08,159.97 585.34,160.32 585.44,150.43 582.17,150.09" fill="#8cc543" stroke="#567a27" stroke-width="0.32" stroke-linejoin="round"/>
<polygon points="582.17,150.09 585.44,150.43 590.79,141.17 587.62,140.84" fill="#91c84b" stroke="#567a27" stroke-width="0.32" stroke-linejoin="round"/>
<polygon points="588.59,160.68 593.83,151.13 593.94,143.49 588.69,152.83" fill="#8ac43f" stroke="#567a27" stroke-width="0.32" stroke-linejoin="round"/>
<polygon points="585.34,160.32 588.59,160.68 588.69,152.83 585.42,152.48" fill="#8cc543" stroke="#567a27" stroke-width="0.32" stroke-linejoin="round"/>
<polygon points="585.42,152.48 588.69,152.83 593.94,143.49 590.76,143.16" fill="#91c84b" stroke="#567a27" stroke-width="0.32" stroke-linejoin="round"/>
<polygon points="591.86,161.03 597.00,151.47 597.12,143.82 591.97,153.18" fill="#8ac43f" stroke="#567a27" stroke-width="0.32" stroke-linejoin="round"/>
<polygon points="588.59,160.68 591.86,161.03 591.97,153.18 588.69,152.83" fill="#8cc543" stroke="#567a27" stroke-width="0.32" stroke-linejoin="round"/>
<polygon points="588.69,152.83 591.97,153.18 597.12,143.82 593.94,143.49" fill="#91c84b" stroke="#567a27" stroke-width="0.32" stroke-linejoin="round"/>
<polygon points="595.13,161.39 600.17,151.81 600.39,140.15 595.32,149.42" fill="#8ac43f" stroke="#567a27" stroke-width="0.32" stroke-linejoin="round"/>
<polygon points="591.86,161.03 595.13,161.39 595.32,149.42 592.02,149.07" fill="#8cc543" stroke="#567a27" stroke-width="0.32" stroke-linejoin="round"/>
<polygon points="592.02,149.07 595.32,149.42 600.39,140.15 597.19,139.82" fill="#91c84b" stroke="#567a27" stroke-width="0.32" stroke-linejoin="round"/>
<polygon points="598.41,161.75 603.36,152.14 603.61,139.47 598.64,148.73" fill="#8ac43f" stroke="#567a27" stroke-width="0.32" stroke-linejoin="round"/>
<polygon points="595.13,161.39 598.41,161.75 598.64,148.73 595.33,148.39" fill="#8cc543" stroke="#567a27" stroke-width="0.32" stroke-linejoin="round"/>
<polygon points="595.33,148.39 598.64,148.73 603.61,139.47 600.40,139.14" fill="#91c84b" stroke="#567a27" stroke-width="0.32" stroke-linejoin="round"/>
<polygon points="601.70,162.10 606.55,152.48 606.86,137.78 601.98,147.01" fill="#8ac43f" stroke="#567a27" stroke-width="0.32" stroke-linejoin="round"/>
<polygon points="598.41,161.75 601.70,162.10 601.98,147.01 598.67,146.67" fill="#8cc543" stroke="#567a27" stroke-width="0.32" stroke-linejoin="round"/>
<polygon points="598.67,146.67 601.98,147.01 606.86,137.78 603.65,137.46" fill="#91c84b" stroke="#567a27" stroke-width="0.32" stroke-linejoin="round"/>
<polygon points="604.99,162.46 609.74,152.82 610.08,138.11 605.30,147.36" fill="#8ac43f" stroke="#567a27" stroke-width="0.32" stroke-linejoin="round"/>
<polygon points="601.70,162.10 604.99,162.46 605.30,147.36 601.98,147.01" fill="#8cc543" stroke="#567a27" stroke-width="0.32" stroke-linejoin="round"/>
<polygon points="601.98,147.01 605.30,147.36 610.08,138.11 606.86,137.78" fill="#91c84b" stroke="#567a27" stroke-width="0.32" stroke-linejoin="round"/>
<polygon points="608.29,162.82 612.94,153.16 613.39,135.40 608.70,144.59" fill="#8ac43f" stroke="#567a27" stroke-width="0.32" stroke-linejoin="round"/>
<polygon points="604.99,162.46 608.29,162.82 608.70,144.59 605.37,144.24" fill="#8cc543" stroke="#567a27" stroke-width="0.32" stroke-linejoin="round"/>
<polygon points="605.37,144.24 608.70,144.59 613.39,135.40 610.15,135.08" fill="#91c84b" stroke="#567a27" stroke-width="0.32" stroke-linejoin="round"/>
<polygon points="611.59,163.18 616.15,153.50 616.79,129.63 612.19,138.67" fill="#8ac43f" stroke="#567a27" stroke-width="0.32" stroke-linejoin="round"/>
<polygon points="608.29,162.82 611.59,163.18 612.19,138.67 608.84,138.33" fill="#8cc543" stroke="#567a27" stroke-width="0.32" stroke-linejoin="round"/>
<polygon points="608.84,138.33 612.19,138.67 616.79,129.63 613.54,129.31" fill="#91c84b" stroke="#567a27" stroke-width="0.32" stroke-linejoin="round"/>
<polygon points="614.91,163.54 619.37,153.84 620.05,129.95 615.55,139.01" fill="#8ac43f" stroke="#567a27" stroke-width="0.32" stroke-linejoin="round"/>
<polygon points="611.59,163.18 614.91,163.54 615.55,139.01 612.19,138.67" fill="#8cc543" stroke="#567a27" stroke-width="0.32" stroke-linejoin="round"/>
<polygon points="612.19,138.67 615.55,139.01 620.05,129.95 616.79,129.63" fill="#91c84b" stroke="#567a27" stroke-width="0.32" stroke-linejoin="round"/>
<polygon points="618.23,163.91 622.59,154.18 623.60,120.51 619.20,129.32" fill="#8ac43f" stroke="#567a27" stroke-width="0.32" stroke-linejoin="round"/>
<polygon points="614.91,163.54 618.23,163.91 619.20,129.32 615.81,128.99" fill="#8cc543" stroke="#567a27" stroke-width="0.32" stroke-linejoin="round"/>
<polygon points="615.81,128.99 619.20,129.32 623.60,120.51 620.32,120.20" fill="#91c84b" stroke="#567a27" stroke-width="0.32" stroke-linejoin="round"/>
<polygon points="621.56,164.27 625.82,154.52 627.14,113.04 622.82,121.65" fill="#8ac43f" stroke="#567a27" stroke-width="0.32" stroke-linejoin="round"/>
<polygon points="618.23,163.91 621.56,164.27 622.82,121.65 619.42,121.33" fill="#8cc543" stroke="#567a27" stroke-width="0.32" stroke-linejoin="round"/>
<polygon points="619.42,121.33 622.82,121.65 627.14,113.04 623.84,112.74" fill="#91c84b" stroke="#567a27" stroke-width="0.32" stroke-linejoin="round"/>
<polygon points="624.89,164.63 629.05,154.86 630.62,108.12 626.41,116.60" fill="#8ac43f" stroke="#567a27" stroke-width="0.32" stroke-linejoin="round"/>
<polygon points="621.56,164.27 624.89,164.63 626.41,116.60 622.98,116.28" fill="#8cc543" stroke="#567a27" stroke-width="0.32" stroke-linejoin="round"/>
<polygon points="622.98,116.28 626.41,116.60 630.62,108.12 627.30,107.82" fill="#91c84b" stroke="#567a27" stroke-width="0.32" stroke-linejoin="round"/>
<polygon points="628.23,165.00 632.29,155.20 634.13,103.16 630.02,111.51" fill="#8ac43f" stroke="#567a27" stroke-width="0.32" stroke-linejoin="round"/>
<polygon points="624.89,164.63 628.23,165.00 630.02,111.51 626.58,111.20" fill="#8cc543" stroke="#567a27" stroke-width="0.32" stroke-linejoin="round"/>
<polygon points="626.58,111.20 630.02,111.51 634.13,103.16 630.80,102.87" fill="#91c84b" stroke="#567a27" stroke-width="0.32" stroke-linejoin="round"/>
<polygon points="631.58,165.36 635.54,155.55 637.55,101.35 633.54,109.66" fill="#8ac43f" stroke="#567a27" stroke-width="0.32" stroke-linejoin="round"/>
<polygon points="628.23,165.00 631.58,165.36 633.54,109.66 630.09,109.34" fill="#8cc543" stroke="#567a27" stroke-width="0.32" stroke-linejoin="round"/>
<polygon points="630.09,109.34 633.54,109.66 637.55,101.35 634.21,101.05" fill="#91c84b" stroke="#567a27" stroke-width="0.32" stroke-linejoin="round"/>
<polygon points="493.98,166.02 502.29,156.12 501.86,143.27 493.47,152.81" fill="#2a2f8a" stroke="#1a1d56" stroke-width="0.32" stroke-linejoin="round"/>
<polygon points="490.76,165.65 493.98,166.02 493.47,152.81 490.23,152.46" fill="#2e338c" stroke="#1a1d56" stroke-width="0.32" stroke-linejoin="round"/>
<polygon points="490.23,152.46 493.47,152.81 501.86,143.27 498.70,142.93" fill="#373b91" stroke="#1a1d56" stroke-width="0.32" stroke-linejoin="round"/>
<polygon points="497.21,166.39 505.43,156.47 504.98,142.58 496.69,152.12" fill="#2a2f8a" stroke="#1a1d56" stroke-width="0.32" stroke-linejoin="round"/>
<polygon points="493.98,166.02 497.21,166.39 496.69,152.12 493.43,151.77" fill="#2e338c" stroke="#1a1d56" stroke-width="0.32" stroke-linejoin="round"/>
<polygon points="493.43,151.77 496.69,152.12 504.98,142.58 501.82,142.25" fill="#373b91" stroke="#1a1d56" stroke-width="0.32" stroke-linejoin="round"/>
<polygon points="500.45,166.76 508.57,156.82 508.18,143.94 499.98,153.53" fill="#2a2f8a" stroke="#1a1d56" stroke-width="0.32" stroke-linejoin="round"/>
<polygon points="497.21,166.39 500.45,166.76 499.98,153.53 496.73,153.17" fill="#2e338c" stroke="#1a1d56" stroke-width="0.32" stroke-linejoin="round"/>
<polygon points="496.73,153.17 499.98,153.53 508.18,143.94 505.01,143.60" fill="#373b91" stroke="#1a1d56" stroke-width="0.32" stroke-linejoin="round"/>
<polygon points="503.69,167.13 511.72,157.17 511.35,144.28 503.25,153.89" fill="#2a2f8a" stroke="#1a1d56" stroke-width="0.32" stroke-linejoin="round"/>
<polygon points="500.45,166.76 503.69,167.13 503.25,153.89 499.98,153.53" fill="#2e338c" stroke="#1a1d56" stroke-width="0.32" stroke-linejoin="round"/>
<polygon points="499.98,153.53 503.25,153.89 511.35,144.28 508.18,143.94" fill="#373b91" stroke="#1a1d56" stroke-width="0.32" stroke-linejoin="round"/>
<polygon points="506.94,167.50 514.88,157.51 514.56,145.64 506.56,155.30" fill="#2a2f8a" stroke="#1a1d56" stroke-width="0.32" stroke-linejoin="round"/>
<polygon points="503.69,167.13 506.94,167.50 506.56,155.30 503.29,154.94" fill="#2e338c" stroke="#1a1d56" stroke-width="0.32" stroke-linejoin="round"/>
<polygon points="503.29,154.94 506.56,155.30 514.56,145.64 511.38,145.30" fill="#373b91" stroke="#1a1d56" stroke-width="0.32" stroke-linejoin="round"/>
<polygon points="510.20,167.87 518.04,157.86 517.82,149.04 509.93,158.80" fill="#2a2f8a" stroke="#1a1d56" stroke-width="0.32" stroke-linejoin="round"/>
<polygon points="506.94,167.50 510.20,167.87 509.93,158.80 506.66,158.44" fill="#2e338c" stroke="#1a1d56" stroke-width="0.32" stroke-linejoin="round"/>
<polygon points="506.66,158.44 509.93,158.80 517.82,149.04 514.64,148.70" fill="#373b91" stroke="#1a1d56" stroke-width="0.32" stroke-linejoin="round"/>
<polygon points="513.47,168.24 521.21,158.21 521.05,151.42 513.27,161.26" fill="#2a2f8a" stroke="#1a1d56" stroke-width="0.32" stroke-linejoin="round"/>
<polygon points="510.20,167.87 513.47,168.24 513.27,161.26 509.99,160.90" fill="#2e338c" stroke="#1a1d56" stroke-width="0.32" stroke-linejoin="round"/>
<polygon points="509.99,160.90 513.27,161.26 521.05,151.42 517.87,151.08" fill="#373b91" stroke="#1a1d56" stroke-width="0.32" stroke-linejoin="round"/>
<polygon points="516.74,168.62 524.39,158.57 524.28,153.80 516.61,163.72" fill="#2a2f8a" stroke="#1a1d56" stroke-width="0.32" stroke-linejoin="round"/>
<polygon points="513.47,168.24 516.74,168.62 516.61,163.72 513.33,163.35" fill="#2e338c" stroke="#1a1d56" stroke-width="0.32" stroke-linejoin="round"/>
<polygon points="513.33,163.35 516.61,163.72 524.28,153.80 521.10,153.45" fill="#373b91" stroke="#1a1d56" stroke-width="0.32" stroke-linejoin="round"/>
<polygon points="520.02,168.99 527.57,158.92 527.47,154.15 519.90,164.09" fill="#2a2f8a" stroke="#1a1d56" stroke-width="0.32" stroke-linejoin="round"/>
<polygon points="516.74,168.62 520.02,168.99 519.90,164.09 516.61,163.72" fill="#2e338c" stroke="#1a1d56" stroke-width="0.32" stroke-linejoin="round"/>
<polygon points="516.61,163.72 519.90,164.09 527.47,154.15 524.28,153.80" fill="#373b91" stroke="#1a1d56" stroke-width="0.32" stroke-linejoin="round"/>
<polygon points="523.30,169.36 530.76,159.27 530.67,154.50 523.19,164.46" fill="#2a2f8a" stroke="#1a1d56" stroke-width="0.32" stroke-linejoin="round"/>
<polygon points="520.02,168.99 523.30,169.36 523.19,164.46 519.90,164.09" fill="#2e338c" stroke="#1a1d56" stroke-width="0.32" stroke-linejoin="round"/>
<polygon points="519.90,164.09 523.19,164.46 530.67,154.50 527.47,154.15" fill="#373b91" stroke="#1a1d56" stroke-width="0.32" stroke-linejoin="round"/>
<polygon points="526.60,169.74 533.96,159.62 533.88,154.85 526.49,164.83" fill="#2a2f8a" stroke="#1a1d56" stroke-width="0.32" stroke-linejoin="round"/>
<polygon points="523.30,169.36 526.60,169.74 526.49,164.83 523.19,164.46" fill="#2e338c" stroke="#1a1d56" stroke-width="0.32" stroke-linejoin="round"/>
<polygon points="523.19,164.46 526.49,164.83 533.88,154.85 530.67,154.50" fill="#373b91" stroke="#1a1d56" stroke-width="0.32" stroke-linejoin="round"/>
<polygon points="529.90,170.12 537.16,159.98 537.09,155.71 529.81,165.73" fill="#2a2f8a" stroke="#1a1d56" stroke-width="0.32" stroke-linejoin="round"/>
<polygon points="526.60,169.74 529.90,170.12 529.81,165.73 526.50,165.36" fill="#2e338c" stroke="#1a1d56" stroke-width="0.32" stroke-linejoin="round"/>
<polygon points="526.50,165.36 529.81,165.73 537.09,155.71 533.88,155.36" fill="#373b91" stroke="#1a1d56" stroke-width="0.32" stroke-linejoin="round"/>
<polygon points="533.20,170.49 540.37,160.33 540.29,154.53 533.10,164.53" fill="#2a2f8a" stroke="#1a1d56" stroke-width="0.32" stroke-linejoin="round"/>
<polygon points="529.90,170.12 533.20,170.49 533.10,164.53 529.78,164.16" fill="#2e338c" stroke="#1a1d56" stroke-width="0.32" stroke-linejoin="round"/>
<polygon points="529.78,164.16 533.10,164.53 540.29,154.53 537.07,154.18" fill="#373b91" stroke="#1a1d56" stroke-width="0.32" stroke-linejoin="round"/>
<polygon points="536.52,170.87 543.58,160.69 543.50,153.85 536.41,163.85" fill="#2a2f8a" stroke="#1a1d56" stroke-width="0.32" stroke-linejoin="round"/>
<polygon points="533.20,170.49 536.52,170.87 536.41,163.85 533.08,163.48" fill="#2e338c" stroke="#1a1d56" stroke-width="0.32" stroke-linejoin="round"/>
<polygon points="533.08,163.48 536.41,163.85 543.50,153.85 540.28,153.50" fill="#373b91" stroke="#1a1d56" stroke-width="0.32" stroke-linejoin="round"/>
<polygon points="539.84,171.25 546.81,161.05 546.75,155.23 539.75,165.28" fill="#2a2f8a" stroke="#1a1d56" stroke-width="0.32" stroke-linejoin="round"/>
<polygon points="536.52,170.87 539.84,171.25 539.75,165.28 536.42,164.90" fill="#2e338c" stroke="#1a1d56" stroke-width="0.32" stroke-linejoin="round"/>
<polygon points="536.42,164.90 539.75,165.28 546.75,155.23 543.52,154.88" fill="#373b91" stroke="#1a1d56" stroke-width="0.32" stroke-linejoin="round"/>
<polygon points="543.17,171.63 550.04,161.40 549.99,155.58 543.09,165.65" fill="#2a2f8a" stroke="#1a1d56" stroke-width="0.32" stroke-linejoin="round"/>
<polygon points="539.84,171.25 543.17,171.63 543.09,165.65 539.75,165.28" fill="#2e338c" stroke="#1a1d56" stroke-width="0.32" stroke-linejoin="round"/>
<polygon points="539.75,165.28 543.09,165.65 549.99,155.58 546.75,155.23" fill="#373b91" stroke="#1a1d56" stroke-width="0.32" stroke-linejoin="round"/>
<polygon points="546.50,172.01 553.27,161.76 553.23,155.93 546.44,166.03" fill="#2a2f8a" stroke="#1a1d56" stroke-width="0.32" stroke-linejoin="round"/>
<polygon points="543.17,171.63 546.50,172.01 546.44,166.03 543.09,165.65" fill="#2e338c" stroke="#1a1d56" stroke-width="0.32" stroke-linejoin="round"/>
<polygon points="543.09,165.65 546.44,166.03 553.23,155.93 549.99,155.58" fill="#373b91" stroke="#1a1d56" stroke-width="0.32" stroke-linejoin="round"/>
<polygon points="549.85,172.39 556.52,162.12 556.47,153.20 549.77,163.23" fill="#2a2f8a" stroke="#1a1d56" stroke-width="0.32" stroke-linejoin="round"/>
<polygon points="546.50,172.01 549.85,172.39 549.77,163.23 546.41,162.86" fill="#2e338c" stroke="#1a1d56" stroke-width="0.32" stroke-linejoin="round"/>
<polygon points="546.41,162.86 549.77,163.23 556.47,153.20 553.21,152.85" fill="#373b91" stroke="#1a1d56" stroke-width="0.32" stroke-linejoin="round"/>
<polygon points="553.20,172.78 559.77,162.48 559.74,153.55 553.13,163.61" fill="#2a2f8a" stroke="#1a1d56" stroke-width="0.32" stroke-linejoin="round"/>
<polygon points="549.85,172.39 553.20,172.78 553.13,163.61 549.77,163.23" fill="#2e338c" stroke="#1a1d56" stroke-width="0.32" stroke-linejoin="round"/>
<polygon points="549.77,163.23 553.13,163.61 559.74,153.55 556.47,153.20" fill="#373b91" stroke="#1a1d56" stroke-width="0.32" stroke-linejoin="round"/>
<polygon points="556.55,173.16 563.02,162.84 563.01,157.00 556.52,167.16" fill="#2a2f8a" stroke="#1a1d56" stroke-width="0.32" stroke-linejoin="round"/>
<polygon points="553.20,172.78 556.55,173.16 556.52,167.16 553.16,166.78" fill="#2e338c" stroke="#1a1d56" stroke-width="0.32" stroke-linejoin="round"/>
<polygon points="553.16,166.78 556.52,167.16 563.01,157.00 559.75,156.64" fill="#373b91" stroke="#1a1d56" stroke-width="0.32" stroke-linejoin="round"/>
<polygon points="559.92,173.54 566.29,163.20 566.29,157.35 559.90,167.54" fill="#2a2f8a" stroke="#1a1d56" stroke-width="0.32" stroke-linejoin="round"/>
<polygon points="556.55,173.16 559.92,173.54 559.90,167.54 556.52,167.16" fill="#2e338c" stroke="#1a1d56" stroke-width="0.32" stroke-linejoin="round"/>
<polygon points="556.52,167.16 559.90,167.54 566.29,157.35 563.01,157.00" fill="#373b91" stroke="#1a1d56" stroke-width="0.32" stroke-linejoin="round"/>
<polygon points="563.29,173.93 569.56,163.56 569.58,153.58 563.28,163.67" fill="#2a2f8a" stroke="#1a1d56" stroke-width="0.32" stroke-linejoin="round"/>
<polygon points="559.92,173.54 563.29,173.93 563.28,163.67 559.89,163.30" fill="#2e338c" stroke="#1a1d56" stroke-width="0.32" stroke-linejoin="round"/>
<polygon points="559.89,163.30 563.28,163.67 569.58,153.58 566.29,153.23" fill="#373b91" stroke="#1a1d56" stroke-width="0.32" stroke-linejoin="round"/>
<polygon points="566.67,174.31 572.83,163.92 572.87,153.93 566.67,164.05" fill="#2a2f8a" stroke="#1a1d56" stroke-width="0.32" stroke-linejoin="round"/>
<polygon points="563.29,173.93 566.67,174.31 566.67,164.05 563.28,163.67" fill="#2e338c" stroke="#1a1d56" stroke-width="0.32" stroke-linejoin="round"/>
<polygon points="563.28,163.67 566.67,164.05 572.87,153.93 569.58,153.58" fill="#373b91" stroke="#1a1d56" stroke-width="0.32" stroke-linejoin="round"/>
<polygon points="570.06,174.70 576.12,164.29 576.17,155.32 570.08,165.49" fill="#2a2f8a" stroke="#1a1d56" stroke-width="0.32" stroke-linejoin="round"/>
<polygon points="566.67,174.31 570.06,174.70 570.08,165.49 566.67,165.11" fill="#2e338c" stroke="#1a1d56" stroke-width="0.32" stroke-linejoin="round"/>
<polygon points="566.67,165.11 570.08,165.49 576.17,155.32 572.87,154.97" fill="#373b91" stroke="#1a1d56" stroke-width="0.32" stroke-linejoin="round"/>
<polygon points="573.45,175.09 579.41,164.65 579.47,156.72 573.48,166.93" fill="#2a2f8a" stroke="#1a1d56" stroke-width="0.32" stroke-linejoin="round"/>
<polygon points="570.06,174.70 573.45,175.09 573.48,166.93 570.08,166.55" fill="#2e338c" stroke="#1a1d56" stroke-width="0.32" stroke-linejoin="round"/>
<polygon points="570.08,166.55 573.48,166.93 579.47,156.72 576.16,156.36" fill="#373b91" stroke="#1a1d56" stroke-width="0.32" stroke-linejoin="round"/>
<polygon points="576.85,175.48 582.71,165.01 582.76,159.14 576.89,169.44" fill="#2a2f8a" stroke="#1a1d56" stroke-width="0.32" stroke-linejoin="round"/>
<polygon points="573.45,175.09 576.85,175.48 576.89,169.44 573.48,169.06" fill="#2e338c" stroke="#1a1d56" stroke-width="0.32" stroke-linejoin="round"/>
<polygon points="573.48,169.06 576.89,169.44 582.76,159.14 579.45,158.78" fill="#373b91" stroke="#1a1d56" stroke-width="0.32" stroke-linejoin="round"/>
<polygon points="580.26,175.87 586.01,165.38 586.05,161.57 580.29,171.95" fill="#2a2f8a" stroke="#1a1d56" stroke-width="0.32" stroke-linejoin="round"/>
<polygon points="576.85,175.48 580.26,175.87 580.29,171.95 576.88,171.56" fill="#2e338c" stroke="#1a1d56" stroke-width="0.32" stroke-linejoin="round"/>
<polygon points="576.88,171.56 580.29,171.95 586.05,161.57 582.74,161.21" fill="#373b91" stroke="#1a1d56" stroke-width="0.32" stroke-linejoin="round"/>
<polygon points="583.68,176.26 589.33,165.75 589.44,156.75 583.77,167.01" fill="#2a2f8a" stroke="#1a1d56" stroke-width="0.32" stroke-linejoin="round"/>
<polygon points="580.26,175.87 583.68,176.26 583.77,167.01 580.33,166.63" fill="#2e338c" stroke="#1a1d56" stroke-width="0.32" stroke-linejoin="round"/>
<polygon points="580.33,166.63 583.77,167.01 589.44,156.75 586.11,156.39" fill="#373b91" stroke="#1a1d56" stroke-width="0.32" stroke-linejoin="round"/>
<polygon points="587.10,176.65 592.65,166.11 592.80,155.03 587.23,165.26" fill="#2a2f8a" stroke="#1a1d56" stroke-width="0.32" stroke-linejoin="round"/>
<polygon points="583.68,176.26 587.10,176.65 587.23,165.26 583.79,164.88" fill="#2e338c" stroke="#1a1d56" stroke-width="0.32" stroke-linejoin="round"/>
<polygon points="583.79,164.88 587.23,165.26 592.80,155.03 589.46,154.67" fill="#373b91" stroke="#1a1d56" stroke-width="0.32" stroke-linejoin="round"/>
<polygon points="590.53,177.04 595.97,166.48 596.18,153.30 590.71,163.49" fill="#2a2f8a" stroke="#1a1d56" stroke-width="0.32" stroke-linejoin="round"/>
<polygon points="587.10,176.65 590.53,177.04 590.71,163.49 587.26,163.11" fill="#2e338c" stroke="#1a1d56" stroke-width="0.32" stroke-linejoin="round"/>
<polygon points="587.26,163.11 590.71,163.49 596.18,153.30 592.83,152.94" fill="#373b91" stroke="#1a1d56" stroke-width="0.32" stroke-linejoin="round"/>
<polygon points="593.97,177.43 599.30,166.85 599.56,152.61 594.19,162.80" fill="#2a2f8a" stroke="#1a1d56" stroke-width="0.32" stroke-linejoin="round"/>
<polygon points="590.53,177.04 593.97,177.43 594.19,162.80 590.73,162.42" fill="#2e338c" stroke="#1a1d56" stroke-width="0.32" stroke-linejoin="round"/>
<polygon points="590.73,162.42 594.19,162.80 599.56,152.61 596.20,152.26" fill="#373b91" stroke="#1a1d56" stroke-width="0.32" stroke-linejoin="round"/>
<polygon points="597.42,177.82 602.65,167.22 602.97,150.87 597.71,161.02" fill="#2a2f8a" stroke="#1a1d56" stroke-width="0.32" stroke-linejoin="round"/>
<polygon points="593.97,177.43 597.42,177.82 597.71,161.02 594.23,160.64" fill="#2e338c" stroke="#1a1d56" stroke-width="0.32" stroke-linejoin="round"/>
<polygon points="594.23,160.64 597.71,161.02 602.97,150.87 599.60,150.51" fill="#373b91" stroke="#1a1d56" stroke-width="0.32" stroke-linejoin="round"/>
<polygon points="600.87,178.22 605.99,167.59 606.41,148.07 601.25,158.15" fill="#2a2f8a" stroke="#1a1d56" stroke-width="0.32" stroke-linejoin="round"/>
<polygon points="597.42,177.82 600.87,178.22 601.25,158.15 597.76,157.77" fill="#2e338c" stroke="#1a1d56" stroke-width="0.32" stroke-linejoin="round"/>
<polygon points="597.76,157.77 601.25,158.15 606.41,148.07 603.03,147.71" fill="#373b91" stroke="#1a1d56" stroke-width="0.32" stroke-linejoin="round"/>
<polygon points="604.34,178.61 609.35,167.96 609.90,144.19 604.84,154.17" fill="#2a2f8a" stroke="#1a1d56" stroke-width="0.32" stroke-linejoin="round"/>
<polygon points="600.87,178.22 604.34,178.61 604.84,154.17 601.33,153.80" fill="#2e338c" stroke="#1a1d56" stroke-width="0.32" stroke-linejoin="round"/>
<polygon points="601.33,153.80 604.84,154.17 609.90,144.19 606.50,143.84" fill="#373b91" stroke="#1a1d56" stroke-width="0.32" stroke-linejoin="round"/>
<polygon points="607.81,179.01 612.71,168.33 613.41,140.28 608.46,150.17" fill="#2a2f8a" stroke="#1a1d56" stroke-width="0.32" stroke-linejoin="round"/>
<polygon points="604.34,178.61 607.81,179.01 608.46,150.17 604.93,149.80" fill="#2e338c" stroke="#1a1d56" stroke-width="0.32" stroke-linejoin="round"/>
<polygon points="604.93,149.80 608.46,150.17 613.41,140.28 610.00,139.93" fill="#373b91" stroke="#1a1d56" stroke-width="0.32" stroke-linejoin="round"/>
<polygon points="611.28,179.41 616.08,168.70 616.95,136.35 612.10,146.13" fill="#2a2f8a" stroke="#1a1d56" stroke-width="0.32" stroke-linejoin="round"/>
<polygon points="607.81,179.01 611.28,179.41 612.10,146.13 608.56,145.77" fill="#2e338c" stroke="#1a1d56" stroke-width="0.32" stroke-linejoin="round"/>
<polygon points="608.56,145.77 612.10,146.13 616.95,136.35 613.52,136.01" fill="#373b91" stroke="#1a1d56" stroke-width="0.32" stroke-linejoin="round"/>
<polygon points="614.77,179.80 619.45,169.08 620.73,124.82 615.97,134.28" fill="#2a2f8a" stroke="#1a1d56" stroke-width="0.32" stroke-linejoin="round"/>
<polygon points="611.28,179.41 614.77,179.80 615.97,134.28 612.40,133.92" fill="#2e338c" stroke="#1a1d56" stroke-width="0.32" stroke-linejoin="round"/>
<polygon points="612.40,133.92 615.97,134.28 620.73,124.82 617.27,124.48" fill="#373b91" stroke="#1a1d56" stroke-width="0.32" stroke-linejoin="round"/>
<polygon points="618.26,180.20 622.84,169.45 624.39,118.60 619.74,127.89" fill="#2a2f8a" stroke="#1a1d56" stroke-width="0.32" stroke-linejoin="round"/>
<polygon points="614.77,179.80 618.26,180.20 619.74,127.89 616.14,127.54" fill="#2e338c" stroke="#1a1d56" stroke-width="0.32" stroke-linejoin="round"/>
<polygon points="616.14,127.54 619.74,127.89 624.39,118.60 620.91,118.27" fill="#373b91" stroke="#1a1d56" stroke-width="0.32" stroke-linejoin="round"/>
<polygon points="621.76,180.60 626.23,169.83 628.09,112.33 623.54,121.45" fill="#2a2f8a" stroke="#1a1d56" stroke-width="0.32" stroke-linejoin="round"/>
<polygon points="618.26,180.20 621.76,180.60 623.54,121.45 619.93,121.10" fill="#2e338c" stroke="#1a1d56" stroke-width="0.32" stroke-linejoin="round"/>
<polygon points="619.93,121.10 623.54,121.45 628.09,112.33 624.59,112.01" fill="#373b91" stroke="#1a1d56" stroke-width="0.32" stroke-linejoin="round"/>
<polygon points="625.27,181.00 629.63,170.20 631.75,108.23 627.31,117.23" fill="#2a2f8a" stroke="#1a1d56" stroke-width="0.32" stroke-linejoin="round"/>
<polygon points="621.76,180.60 625.27,181.00 627.31,117.23 623.68,116.89" fill="#2e338c" stroke="#1a1d56" stroke-width="0.32" stroke-linejoin="round"/>
<polygon points="623.68,116.89 627.31,117.23 631.75,108.23 628.23,107.91" fill="#373b91" stroke="#1a1d56" stroke-width="0.32" stroke-linejoin="round"/>
<line x1="488.89" y1="172.52" x2="483.39" y2="39.68" stroke="#3c3c3c" stroke-width="0.8" stroke-linecap="butt"/>
<line x1="488.89" y1="172.52" x2="624.05" y2="188.26" stroke="#3c3c3c" stroke-width="0.8" stroke-linecap="butt"/>
<line x1="624.05" y1="188.26" x2="646.46" y2="132.03" stroke="#3c3c3c" stroke-width="0.8" stroke-linecap="butt"/>
<line x1="488.89" y1="172.52" x2="493.95" y2="166.48" stroke="#3c3c3c" stroke-width="0.6" stroke-linecap="butt"/>
<line x1="482.59" y1="173.12" x2="488.89" y2="172.52" stroke="#3c3c3c" stroke-width="0.8" stroke-linecap="butt"/>
<text x="480.39" y="176.12" font-size="8.3" text-anchor="end" fill="#231f20" font-weight="normal">0</text>
<line x1="481.72" y1="152.22" x2="488.02" y2="151.62" stroke="#3c3c3c" stroke-width="0.8" stroke-linecap="butt"/>
<text x="479.52" y="155.22" font-size="8.3" text-anchor="end" fill="#231f20" font-weight="normal">20</text>
<line x1="480.84" y1="130.85" x2="487.14" y2="130.25" stroke="#3c3c3c" stroke-width="0.8" stroke-linecap="butt"/>
<text x="478.64" y="133.85" font-size="8.3" text-anchor="end" fill="#231f20" font-weight="normal">40</text>
<line x1="479.93" y1="108.99" x2="486.23" y2="108.39" stroke="#3c3c3c" stroke-width="0.8" stroke-linecap="butt"/>
<text x="477.73" y="111.99" font-size="8.3" text-anchor="end" fill="#231f20" font-weight="normal">60</text>
<line x1="479.01" y1="86.62" x2="485.31" y2="86.02" stroke="#3c3c3c" stroke-width="0.8" stroke-linecap="butt"/>
<text x="476.81" y="89.62" font-size="8.3" text-anchor="end" fill="#231f20" font-weight="normal">80</text>
<line x1="478.06" y1="63.72" x2="484.36" y2="63.12" stroke="#3c3c3c" stroke-width="0.8" stroke-linecap="butt"/>
<text x="475.86" y="66.72" font-size="8.3" text-anchor="end" fill="#231f20" font-weight="normal">100</text>
<line x1="477.09" y1="40.28" x2="483.39" y2="39.68" stroke="#3c3c3c" stroke-width="0.8" stroke-linecap="butt"/>
<text x="474.89" y="43.28" font-size="8.3" text-anchor="end" fill="#231f20" font-weight="normal">120</text>
<line x1="520.98" y1="177.33" x2="520.38" y2="181.83" stroke="#3c3c3c" stroke-width="0.8" stroke-linecap="butt"/>
<line x1="554.40" y1="181.22" x2="553.80" y2="185.72" stroke="#3c3c3c" stroke-width="0.8" stroke-linecap="butt"/>
<line x1="588.54" y1="185.20" x2="587.94" y2="189.70" stroke="#3c3c3c" stroke-width="0.8" stroke-linecap="butt"/>
<line x1="624.05" y1="188.26" x2="623.25" y2="193.26" stroke="#3c3c3c" stroke-width="0.8" stroke-linecap="butt"/>
<text x="619.85" y="203.26" font-size="8.3" text-anchor="middle" fill="#231f20" font-weight="normal">1</text>
<text x="458.60" y="108.80" font-size="8.3" text-anchor="middle" fill="#231f20" font-weight="normal" transform="rotate(-90 458.60 108.80)">Number of IpA isoforms</text>
<text x="550.50" y="197.80" font-size="8.3" text-anchor="middle" fill="#231f20" font-weight="normal" transform="rotate(5.5 550.50 197.80)">Retained CDR</text>
<text x="629.33" y="185.53" font-size="8.3" text-anchor="start" fill="#231f20" font-weight="normal" transform="rotate(22 629.33 185.53)">Brain</text>
<text x="635.43" y="170.22" font-size="8.3" text-anchor="start" fill="#231f20" font-weight="normal" transform="rotate(22 635.43 170.22)">ES</text>
<text x="640.99" y="156.27" font-size="8.3" text-anchor="start" fill="#231f20" font-weight="normal" transform="rotate(22 640.99 156.27)">MemB</text>
<text x="646.08" y="143.51" font-size="8.3" text-anchor="start" fill="#231f20" font-weight="normal" transform="rotate(22 646.08 143.51)">Testis</text>
<text x="-0.50" y="235.10" font-size="14" text-anchor="start" fill="#000" font-weight="bold">c</text>
<rect x="37.30" y="234.60" width="170.70" height="175.30" fill="none" stroke="#a9a9a9" stroke-width="0.8"/>
<line x1="35.30" y1="246.20" x2="37.30" y2="246.20" stroke="#3c3c3c" stroke-width="0.8" stroke-linecap="butt"/>
<text x="31.00" y="249.10" font-size="8.3" text-anchor="end" fill="#231f20" font-weight="normal">0.16</text>
<line x1="35.30" y1="297.80" x2="37.30" y2="297.80" stroke="#3c3c3c" stroke-width="0.8" stroke-linecap="butt"/>
<text x="31.00" y="300.70" font-size="8.3" text-anchor="end" fill="#231f20" font-weight="normal">0.12</text>
<line x1="35.30" y1="349.50" x2="37.30" y2="349.50" stroke="#3c3c3c" stroke-width="0.8" stroke-linecap="butt"/>
<text x="31.00" y="352.40" font-size="8.3" text-anchor="end" fill="#231f20" font-weight="normal">0.08</text>
<line x1="35.30" y1="401.00" x2="37.30" y2="401.00" stroke="#3c3c3c" stroke-width="0.8" stroke-linecap="butt"/>
<text x="31.00" y="403.90" font-size="8.3" text-anchor="end" fill="#231f20" font-weight="normal">0.04</text>
<line x1="38.10" y1="409.90" x2="38.10" y2="411.90" stroke="#3c3c3c" stroke-width="0.8" stroke-linecap="butt"/>
<text x="38.10" y="422.40" font-size="8.3" text-anchor="middle" fill="#231f20" font-weight="normal">0.4</text>
<line x1="79.90" y1="409.90" x2="79.90" y2="411.90" stroke="#3c3c3c" stroke-width="0.8" stroke-linecap="butt"/>
<text x="79.90" y="422.40" font-size="8.3" text-anchor="middle" fill="#231f20" font-weight="normal">0.5</text>
<line x1="121.70" y1="409.90" x2="121.70" y2="411.90" stroke="#3c3c3c" stroke-width="0.8" stroke-linecap="butt"/>
<text x="121.70" y="422.40" font-size="8.3" text-anchor="middle" fill="#231f20" font-weight="normal">0.6</text>
<line x1="163.50" y1="409.90" x2="163.50" y2="411.90" stroke="#3c3c3c" stroke-width="0.8" stroke-linecap="butt"/>
<text x="163.50" y="422.40" font-size="8.3" text-anchor="middle" fill="#231f20" font-weight="normal">0.7</text>
<line x1="205.30" y1="409.90" x2="205.30" y2="411.90" stroke="#3c3c3c" stroke-width="0.8" stroke-linecap="butt"/>
<text x="205.30" y="422.40" font-size="8.3" text-anchor="middle" fill="#231f20" font-weight="normal">0.8</text>
<text x="121.30" y="436.80" font-size="8.3" text-anchor="middle" fill="#231f20" font-weight="normal">Median retained CDR</text>
<text x="7.60" y="317.70" font-size="8.1" text-anchor="middle" fill="#231f20" font-weight="normal" transform="rotate(-90 7.60 317.70)">Fractions of genes with IpA isoforms</text>
<line x1="44.20" y1="288.80" x2="187.50" y2="391.00" stroke="#cccccc" stroke-width="0.6" stroke-dasharray="0.9,1.4" stroke-linecap="butt"/>
<circle cx="47.00" cy="246.20" r="3.3" fill="#b3121d"/>
<circle cx="66.80" cy="272.00" r="3.3" fill="#b5161f"/>
<circle cx="44.50" cy="336.40" r="3.3" fill="#c42533"/>
<circle cx="133.40" cy="349.50" r="3.3" fill="#81a2cc"/>
<circle cx="119.40" cy="362.30" r="3.3" fill="#d5546a"/>
<circle cx="128.10" cy="362.30" r="3.3" fill="#cf2f3d"/>
<circle cx="145.00" cy="362.30" r="3.3" fill="#5f8cc0"/>
<circle cx="147.10" cy="375.10" r="3.3" fill="#4e7fba"/>
<circle cx="174.50" cy="374.80" r="3.3" fill="#e39aa4"/>
<circle cx="188.90" cy="387.60" r="3.3" fill="#2c63a3"/>
<circle cx="195.40" cy="387.60" r="3.3" fill="#3a6fad"/>
<circle cx="201.00" cy="400.70" r="3.3" fill="#1b4b88"/>
<line x1="126.60" y1="366.20" x2="124.20" y2="371.30" stroke="#555" stroke-width="0.6" stroke-linecap="butt"/>
<text x="39.30" y="256.90" font-size="6.9" text-anchor="start" fill="#231f20" font-weight="normal">Blood T</text>
<text x="54.00" y="283.90" font-size="6.9" text-anchor="start" fill="#231f20" font-weight="normal">Blood NB</text>
<text x="39.80" y="346.80" font-size="6.9" text-anchor="start" fill="#231f20" font-weight="normal">PC</text>
<text x="124.20" y="358.60" font-size="6.9" text-anchor="start" fill="#231f20" font-weight="normal">Testis</text>
<text x="104.10" y="365.00" font-size="6.9" text-anchor="start" fill="#231f20" font-weight="normal">NB</text>
<text x="103.30" y="377.00" font-size="6.9" text-anchor="start" fill="#231f20" font-weight="normal">MemB</text>
<text x="100.00" y="384.70" font-size="6.9" text-anchor="start" fill="#231f20" font-weight="normal">CD5+B</text>
<text x="141.70" y="371.30" font-size="6.9" text-anchor="start" fill="#231f20" font-weight="normal">ES</text>
<text x="131.10" y="384.00" font-size="6.9" text-anchor="start" fill="#231f20" font-weight="normal">Skmuscle</text>
<text x="167.10" y="384.40" font-size="6.9" text-anchor="start" fill="#231f20" font-weight="normal">GCB</text>
<text x="165.80" y="395.70" font-size="6.9" text-anchor="start" fill="#231f20" font-weight="normal">Breast</text>
<text x="189.20" y="396.70" font-size="6.9" text-anchor="start" fill="#231f20" font-weight="normal">Brain</text>
<text x="186.80" y="408.50" font-size="6.9" text-anchor="start" fill="#231f20" font-weight="normal">Ovary</text>
<text x="178.0" y="250.3" font-size="7" fill="#231f20"><tspan font-style="italic">r</tspan>: −0.86</text>
<text x="-0.80" y="477.10" font-size="14" text-anchor="start" fill="#000" font-weight="bold">d</text>
<rect x="34.40" y="485.50" width="172.30" height="172.60" fill="none" stroke="#a9a9a9" stroke-width="0.8"/>
<line x1="32.40" y1="488.60" x2="34.40" y2="488.60" stroke="#3c3c3c" stroke-width="0.8" stroke-linecap="butt"/>
<text x="29.60" y="491.50" font-size="8.3" text-anchor="end" fill="#231f20" font-weight="normal">0.8</text>
<line x1="32.40" y1="530.70" x2="34.40" y2="530.70" stroke="#3c3c3c" stroke-width="0.8" stroke-linecap="butt"/>
<text x="29.60" y="533.60" font-size="8.3" text-anchor="end" fill="#231f20" font-weight="normal">0.7</text>
<line x1="32.40" y1="572.70" x2="34.40" y2="572.70" stroke="#3c3c3c" stroke-width="0.8" stroke-linecap="butt"/>
<text x="29.60" y="575.60" font-size="8.3" text-anchor="end" fill="#231f20" font-weight="normal">0.6</text>
<line x1="32.40" y1="614.70" x2="34.40" y2="614.70" stroke="#3c3c3c" stroke-width="0.8" stroke-linecap="butt"/>
<text x="29.60" y="617.60" font-size="8.3" text-anchor="end" fill="#231f20" font-weight="normal">0.5</text>
<line x1="32.40" y1="656.50" x2="34.40" y2="656.50" stroke="#3c3c3c" stroke-width="0.8" stroke-linecap="butt"/>
<text x="29.60" y="659.40" font-size="8.3" text-anchor="end" fill="#231f20" font-weight="normal">0.4</text>
<line x1="79.10" y1="658.10" x2="79.10" y2="660.10" stroke="#3c3c3c" stroke-width="0.8" stroke-linecap="butt"/>
<text x="79.10" y="670.20" font-size="8.3" text-anchor="middle" fill="#231f20" font-weight="normal">0.4</text>
<line x1="126.70" y1="658.10" x2="126.70" y2="660.10" stroke="#3c3c3c" stroke-width="0.8" stroke-linecap="butt"/>
<text x="126.70" y="670.20" font-size="8.3" text-anchor="middle" fill="#231f20" font-weight="normal">0.5</text>
<line x1="174.30" y1="658.10" x2="174.30" y2="660.10" stroke="#3c3c3c" stroke-width="0.8" stroke-linecap="butt"/>
<text x="174.30" y="670.20" font-size="8.3" text-anchor="middle" fill="#231f20" font-weight="normal">0.6</text>
<text x="121.90" y="683.20" font-size="8.3" text-anchor="middle" fill="#231f20" font-weight="normal">Median long usage index of 3′UTR</text>
<text x="10.20" y="571.00" font-size="8.3" text-anchor="middle" fill="#231f20" font-weight="normal" transform="rotate(-90 10.20 571.00)">Median retained CDR</text>
<line x1="41.70" y1="618.50" x2="186.90" y2="506.80" stroke="#cccccc" stroke-width="0.6" stroke-dasharray="0.9,1.4" stroke-linecap="butt"/>
<circle cx="174.70" cy="492.90" r="3.75" fill="#23528f"/>
<circle cx="198.90" cy="498.30" r="3.75" fill="#3a6fad"/>
<circle cx="157.00" cy="504.90" r="3.75" fill="#2c63a3"/>
<circle cx="84.60" cy="519.30" r="3.75" fill="#dc7f8b"/>
<circle cx="115.10" cy="547.00" r="3.75" fill="#4e7fba"/>
<circle cx="126.70" cy="548.80" r="3.75" fill="#6a93c5"/>
<circle cx="42.20" cy="560.30" r="3.75" fill="#88a7cf"/>
<circle cx="102.80" cy="565.90" r="3.75" fill="#d9717f"/>
<circle cx="111.60" cy="565.60" r="3.75" fill="#cc3444"/>
<circle cx="103.00" cy="574.80" r="3.75" fill="#d64a5c"/>
<circle cx="98.40" cy="627.30" r="3.75" fill="#b5161f"/>
<circle cx="75.60" cy="650.10" r="3.75" fill="#c42533"/>
<circle cx="107.20" cy="647.90" r="3.75" fill="#b3121d"/>
<text x="161.10" y="501.80" font-size="8.2" text-anchor="start" fill="#231f20" font-weight="normal">Ovary</text>
<text x="185.60" y="507.90" font-size="8.2" text-anchor="start" fill="#231f20" font-weight="normal">Brain</text>
<text x="145.70" y="513.50" font-size="8.2" text-anchor="start" fill="#231f20" font-weight="normal">Breast</text>
<text x="75.80" y="529.40" font-size="8.2" text-anchor="start" fill="#231f20" font-weight="normal">GCB</text>
<text x="84.80" y="559.30" font-size="8.2" text-anchor="start" fill="#231f20" font-weight="normal">Skmuscle</text>
<text x="125.60" y="559.30" font-size="8.2" text-anchor="start" fill="#231f20" font-weight="normal">ES</text>
<text x="34.40" y="570.70" font-size="8.2" text-anchor="start" fill="#231f20" font-weight="normal">Testis</text>
<text x="71.00" y="568.40" font-size="8.2" text-anchor="start" fill="#231f20" font-weight="normal">CD5+B</text>
<text x="111.60" y="578.40" font-size="8.2" text-anchor="start" fill="#231f20" font-weight="normal">MemB</text>
<text x="97.20" y="586.50" font-size="8.2" text-anchor="start" fill="#231f20" font-weight="normal">NB</text>
<text x="83.00" y="637.90" font-size="8.2" text-anchor="start" fill="#231f20" font-weight="normal">Blood NB</text>
<text x="62.20" y="653.90" font-size="8.2" text-anchor="start" fill="#231f20" font-weight="normal">PC</text>
<text x="95.80" y="657.10" font-size="8.2" text-anchor="start" fill="#231f20" font-weight="normal">Blood T</text>
<text x="177.7" y="645.4" font-size="8.3" fill="#231f20"><tspan font-style="italic">r</tspan>: 0.60</text>
<text x="223.60" y="235.20" font-size="14" text-anchor="start" fill="#000" font-weight="bold">e</text>
<rect x="257.00" y="235.20" width="76.40" height="175.00" fill="none" stroke="#5e5e5e" stroke-width="0.9"/>
<line x1="254.50" y1="403.40" x2="257.00" y2="403.40" stroke="#3c3c3c" stroke-width="0.8" stroke-linecap="butt"/>
<text x="250.60" y="407.20" font-size="8.3" text-anchor="end" fill="#231f20">10<tspan font-size="5.6" dy="-3.2">0</tspan></text>
<line x1="254.50" y1="370.20" x2="257.00" y2="370.20" stroke="#3c3c3c" stroke-width="0.8" stroke-linecap="butt"/>
<text x="250.60" y="374.00" font-size="8.3" text-anchor="end" fill="#231f20">10<tspan font-size="5.6" dy="-3.2">1</tspan></text>
<line x1="254.50" y1="337.00" x2="257.00" y2="337.00" stroke="#3c3c3c" stroke-width="0.8" stroke-linecap="butt"/>
<text x="250.60" y="340.80" font-size="8.3" text-anchor="end" fill="#231f20">10<tspan font-size="5.6" dy="-3.2">2</tspan></text>
<line x1="254.50" y1="303.80" x2="257.00" y2="303.80" stroke="#3c3c3c" stroke-width="0.8" stroke-linecap="butt"/>
<text x="250.60" y="307.60" font-size="8.3" text-anchor="end" fill="#231f20">10<tspan font-size="5.6" dy="-3.2">3</tspan></text>
<line x1="254.50" y1="270.60" x2="257.00" y2="270.60" stroke="#3c3c3c" stroke-width="0.8" stroke-linecap="butt"/>
<text x="250.60" y="274.40" font-size="8.3" text-anchor="end" fill="#231f20">10<tspan font-size="5.6" dy="-3.2">4</tspan></text>
<line x1="254.50" y1="237.40" x2="257.00" y2="237.40" stroke="#3c3c3c" stroke-width="0.8" stroke-linecap="butt"/>
<text x="250.60" y="241.20" font-size="8.3" text-anchor="end" fill="#231f20">10<tspan font-size="5.6" dy="-3.2">5</tspan></text>
<line x1="267.05" y1="241.40" x2="267.05" y2="253.00" stroke="#666" stroke-width="0.6" stroke-dasharray="1,1" stroke-linecap="butt"/>
<line x1="267.05" y1="279.80" x2="267.05" y2="339.30" stroke="#666" stroke-width="0.6" stroke-dasharray="1,1" stroke-linecap="butt"/>
<line x1="264.35" y1="241.40" x2="269.75" y2="241.40" stroke="#555" stroke-width="0.7" stroke-linecap="butt"/>
<line x1="264.35" y1="339.30" x2="269.75" y2="339.30" stroke="#555" stroke-width="0.7" stroke-linecap="butt"/>
<rect x="261.40" y="253.00" width="11.30" height="26.80" fill="#1c5a98" stroke="#2a3a4a" stroke-width="0.6"/>
<line x1="261.40" y1="266.40" x2="272.70" y2="266.40" stroke="#0d2f55" stroke-width="1.4" stroke-linecap="butt"/>
<line x1="281.15" y1="269.10" x2="281.15" y2="281.10" stroke="#666" stroke-width="0.6" stroke-dasharray="1,1" stroke-linecap="butt"/>
<line x1="281.15" y1="307.90" x2="281.15" y2="403.00" stroke="#666" stroke-width="0.6" stroke-dasharray="1,1" stroke-linecap="butt"/>
<line x1="278.45" y1="269.10" x2="283.85" y2="269.10" stroke="#555" stroke-width="0.7" stroke-linecap="butt"/>
<line x1="278.45" y1="403.00" x2="283.85" y2="403.00" stroke="#555" stroke-width="0.7" stroke-linecap="butt"/>
<rect x="275.70" y="281.10" width="10.90" height="26.80" fill="#2b7bcc" stroke="#2a3a4a" stroke-width="0.6"/>
<line x1="275.70" y1="294.50" x2="286.60" y2="294.50" stroke="#0d2f55" stroke-width="1.4" stroke-linecap="butt"/>
<line x1="295.25" y1="255.40" x2="295.25" y2="267.00" stroke="#666" stroke-width="0.6" stroke-dasharray="1,1" stroke-linecap="butt"/>
<line x1="295.25" y1="291.40" x2="295.25" y2="342.30" stroke="#666" stroke-width="0.6" stroke-dasharray="1,1" stroke-linecap="butt"/>
<line x1="292.55" y1="255.40" x2="297.95" y2="255.40" stroke="#555" stroke-width="0.7" stroke-linecap="butt"/>
<line x1="292.55" y1="342.30" x2="297.95" y2="342.30" stroke="#555" stroke-width="0.7" stroke-linecap="butt"/>
<rect x="289.60" y="267.00" width="11.30" height="24.40" fill="#2f9be3" stroke="#2a3a4a" stroke-width="0.6"/>
<line x1="289.60" y1="279.30" x2="300.90" y2="279.30" stroke="#0d2f55" stroke-width="1.4" stroke-linecap="butt"/>
<line x1="309.55" y1="269.60" x2="309.55" y2="281.60" stroke="#666" stroke-width="0.6" stroke-dasharray="1,1" stroke-linecap="butt"/>
<line x1="309.55" y1="308.40" x2="309.55" y2="403.00" stroke="#666" stroke-width="0.6" stroke-dasharray="1,1" stroke-linecap="butt"/>
<line x1="306.85" y1="269.60" x2="312.25" y2="269.60" stroke="#555" stroke-width="0.7" stroke-linecap="butt"/>
<line x1="306.85" y1="403.00" x2="312.25" y2="403.00" stroke="#555" stroke-width="0.7" stroke-linecap="butt"/>
<rect x="303.90" y="281.60" width="11.30" height="26.80" fill="#55aed8" stroke="#2a3a4a" stroke-width="0.6"/>
<line x1="303.90" y1="294.60" x2="315.20" y2="294.60" stroke="#0d2f55" stroke-width="1.4" stroke-linecap="butt"/>
<line x1="323.85" y1="272.90" x2="323.85" y2="285.20" stroke="#666" stroke-width="0.6" stroke-dasharray="1,1" stroke-linecap="butt"/>
<line x1="323.85" y1="316.40" x2="323.85" y2="403.00" stroke="#666" stroke-width="0.6" stroke-dasharray="1,1" stroke-linecap="butt"/>
<line x1="321.15" y1="272.90" x2="326.55" y2="272.90" stroke="#555" stroke-width="0.7" stroke-linecap="butt"/>
<line x1="321.15" y1="403.00" x2="326.55" y2="403.00" stroke="#555" stroke-width="0.7" stroke-linecap="butt"/>
<rect x="318.20" y="285.20" width="11.30" height="31.20" fill="#b3dcf0" stroke="#2a3a4a" stroke-width="0.6"/>
<line x1="318.20" y1="299.10" x2="329.50" y2="299.10" stroke="#0d2f55" stroke-width="1.4" stroke-linecap="butt"/>
<line x1="266.80" y1="410.20" x2="266.80" y2="412.50" stroke="#3c3c3c" stroke-width="0.8" stroke-linecap="butt"/>
<line x1="281.30" y1="410.20" x2="281.30" y2="412.50" stroke="#3c3c3c" stroke-width="0.8" stroke-linecap="butt"/>
<line x1="295.40" y1="410.20" x2="295.40" y2="412.50" stroke="#3c3c3c" stroke-width="0.8" stroke-linecap="butt"/>
<line x1="309.60" y1="410.20" x2="309.60" y2="412.50" stroke="#3c3c3c" stroke-width="0.8" stroke-linecap="butt"/>
<line x1="323.60" y1="410.20" x2="323.60" y2="412.50" stroke="#3c3c3c" stroke-width="0.8" stroke-linecap="butt"/>
<text x="274.50" y="424.20" font-size="8.3" text-anchor="middle" fill="#231f20" font-weight="normal">5′</text>
<text x="304.00" y="424.20" font-size="8.3" text-anchor="middle" fill="#231f20" font-weight="normal">3′</text>
<line x1="262.30" y1="427.50" x2="286.50" y2="427.50" stroke="#333" stroke-width="0.8" stroke-linecap="butt"/>
<line x1="262.30" y1="426.30" x2="262.30" y2="428.70" stroke="#333" stroke-width="0.7" stroke-linecap="butt"/>
<line x1="286.50" y1="426.30" x2="286.50" y2="428.70" stroke="#333" stroke-width="0.7" stroke-linecap="butt"/>
<line x1="291.50" y1="427.50" x2="315.90" y2="427.50" stroke="#333" stroke-width="0.8" stroke-linecap="butt"/>
<line x1="291.50" y1="426.30" x2="291.50" y2="428.70" stroke="#333" stroke-width="0.7" stroke-linecap="butt"/>
<line x1="315.90" y1="426.30" x2="315.90" y2="428.70" stroke="#333" stroke-width="0.7" stroke-linecap="butt"/>
<text x="268.00" y="436.00" font-size="8.3" text-anchor="end" fill="#231f20" font-weight="normal" transform="rotate(-45 268.00 436.00)">IpA</text>
<text x="282.30" y="436.00" font-size="8.3" text-anchor="end" fill="#231f20" font-weight="normal" transform="rotate(-45 282.30 436.00)">No IpA</text>
<text x="296.40" y="436.00" font-size="8.3" text-anchor="end" fill="#231f20" font-weight="normal" transform="rotate(-45 296.40 436.00)">IpA</text>
<text x="310.60" y="436.00" font-size="8.3" text-anchor="end" fill="#231f20" font-weight="normal" transform="rotate(-45 310.60 436.00)">No IpA</text>
<text x="324.80" y="436.00" font-size="8.3" text-anchor="end" fill="#231f20" font-weight="normal" transform="rotate(-45 324.80 436.00)">No IpA</text>
<text x="230.90" y="322.00" font-size="8.3" text-anchor="middle" fill="#231f20" font-weight="normal" transform="rotate(-90 230.90 322.00)">Intron length</text>
<text x="350.00" y="234.90" font-size="14" text-anchor="start" fill="#000" font-weight="bold">f</text>
<rect x="382.40" y="234.90" width="45.80" height="174.90" fill="none" stroke="#5e5e5e" stroke-width="0.9"/>
<line x1="379.90" y1="270.60" x2="382.40" y2="270.60" stroke="#3c3c3c" stroke-width="0.8" stroke-linecap="butt"/>
<text x="376.60" y="273.60" font-size="8.3" text-anchor="end" fill="#231f20">10<tspan font-size="5.6" dy="-3.2">5</tspan></text>
<line x1="379.90" y1="324.30" x2="382.40" y2="324.30" stroke="#3c3c3c" stroke-width="0.8" stroke-linecap="butt"/>
<text x="376.60" y="327.30" font-size="8.3" text-anchor="end" fill="#231f20">10<tspan font-size="5.6" dy="-3.2">4</tspan></text>
<line x1="379.90" y1="378.90" x2="382.40" y2="378.90" stroke="#3c3c3c" stroke-width="0.8" stroke-linecap="butt"/>
<text x="376.60" y="381.90" font-size="8.3" text-anchor="end" fill="#231f20">10<tspan font-size="5.6" dy="-3.2">3</tspan></text>
<line x1="391.10" y1="241.30" x2="391.10" y2="259.40" stroke="#666" stroke-width="0.6" stroke-dasharray="1,1" stroke-linecap="butt"/>
<line x1="391.10" y1="292.90" x2="391.10" y2="375.40" stroke="#666" stroke-width="0.6" stroke-dasharray="1,1" stroke-linecap="butt"/>
<line x1="388.40" y1="241.30" x2="393.80" y2="241.30" stroke="#555" stroke-width="0.7" stroke-linecap="butt"/>
<line x1="388.40" y1="375.40" x2="393.80" y2="375.40" stroke="#555" stroke-width="0.7" stroke-linecap="butt"/>
<rect x="385.40" y="259.40" width="11.40" height="33.50" fill="#1c5a98" stroke="#2a3a4a" stroke-width="0.6"/>
<line x1="385.40" y1="274.60" x2="396.80" y2="274.60" stroke="#0d2f55" stroke-width="1.4" stroke-linecap="butt"/>
<line x1="405.10" y1="247.50" x2="405.10" y2="265.80" stroke="#666" stroke-width="0.6" stroke-dasharray="1,1" stroke-linecap="butt"/>
<line x1="405.10" y1="298.90" x2="405.10" y2="360.40" stroke="#666" stroke-width="0.6" stroke-dasharray="1,1" stroke-linecap="butt"/>
<line x1="402.40" y1="247.50" x2="407.80" y2="247.50" stroke="#555" stroke-width="0.7" stroke-linecap="butt"/>
<line x1="402.40" y1="360.40" x2="407.80" y2="360.40" stroke="#555" stroke-width="0.7" stroke-linecap="butt"/>
<rect x="399.50" y="265.80" width="11.20" height="33.10" fill="#2b95df" stroke="#2a3a4a" stroke-width="0.6"/>
<line x1="399.50" y1="282.50" x2="410.70" y2="282.50" stroke="#0d2f55" stroke-width="1.4" stroke-linecap="butt"/>
<line x1="419.40" y1="266.40" x2="419.40" y2="285.20" stroke="#666" stroke-width="0.6" stroke-dasharray="1,1" stroke-linecap="butt"/>
<line x1="419.40" y1="328.30" x2="419.40" y2="403.40" stroke="#666" stroke-width="0.6" stroke-dasharray="1,1" stroke-linecap="butt"/>
<line x1="416.70" y1="266.40" x2="422.10" y2="266.40" stroke="#555" stroke-width="0.7" stroke-linecap="butt"/>
<line x1="416.70" y1="403.40" x2="422.10" y2="403.40" stroke="#555" stroke-width="0.7" stroke-linecap="butt"/>
<rect x="413.70" y="285.20" width="11.40" height="43.10" fill="#b3dcf0" stroke="#2a3a4a" stroke-width="0.6"/>
<line x1="413.70" y1="306.70" x2="425.10" y2="306.70" stroke="#0d2f55" stroke-width="1.4" stroke-linecap="butt"/>
<line x1="391.30" y1="409.80" x2="391.30" y2="412.10" stroke="#3c3c3c" stroke-width="0.8" stroke-linecap="butt"/>
<line x1="405.00" y1="409.80" x2="405.00" y2="412.10" stroke="#3c3c3c" stroke-width="0.8" stroke-linecap="butt"/>
<line x1="419.60" y1="409.80" x2="419.60" y2="412.10" stroke="#3c3c3c" stroke-width="0.8" stroke-linecap="butt"/>
<text x="394.30" y="416.50" font-size="8.3" text-anchor="end" fill="#231f20" font-weight="normal" transform="rotate(-45 394.30 416.50)">5′IpA</text>
<text x="407.80" y="416.50" font-size="8.3" text-anchor="end" fill="#231f20" font-weight="normal" transform="rotate(-45 407.80 416.50)">3′IpA</text>
<text x="422.40" y="416.50" font-size="8.3" text-anchor="end" fill="#231f20" font-weight="normal" transform="rotate(-45 422.40 416.50)">No IpA</text>
<text x="357.30" y="321.40" font-size="8.3" text-anchor="middle" fill="#231f20" font-weight="normal" transform="rotate(-90 357.30 321.40)">Transcription unit width</text>
<text x="444.00" y="232.60" font-size="14" text-anchor="start" fill="#000" font-weight="bold">g</text>
<line x1="477.00" y1="408.20" x2="479.50" y2="408.20" stroke="#3c3c3c" stroke-width="0.8" stroke-linecap="butt"/>
<text x="475.00" y="411.10" font-size="8.3" text-anchor="end" fill="#231f20" font-weight="normal">0.00</text>
<line x1="477.00" y1="375.20" x2="479.50" y2="375.20" stroke="#3c3c3c" stroke-width="0.8" stroke-linecap="butt"/>
<text x="475.00" y="378.10" font-size="8.3" text-anchor="end" fill="#231f20" font-weight="normal">0.05</text>
<line x1="477.00" y1="342.20" x2="479.50" y2="342.20" stroke="#3c3c3c" stroke-width="0.8" stroke-linecap="butt"/>
<text x="475.00" y="345.10" font-size="8.3" text-anchor="end" fill="#231f20" font-weight="normal">0.10</text>
<line x1="477.00" y1="309.20" x2="479.50" y2="309.20" stroke="#3c3c3c" stroke-width="0.8" stroke-linecap="butt"/>
<text x="475.00" y="312.10" font-size="8.3" text-anchor="end" fill="#231f20" font-weight="normal">0.15</text>
<line x1="477.00" y1="276.20" x2="479.50" y2="276.20" stroke="#3c3c3c" stroke-width="0.8" stroke-linecap="butt"/>
<text x="475.00" y="279.10" font-size="8.3" text-anchor="end" fill="#231f20" font-weight="normal">0.20</text>
<line x1="477.00" y1="243.20" x2="479.50" y2="243.20" stroke="#3c3c3c" stroke-width="0.8" stroke-linecap="butt"/>
<text x="475.00" y="246.10" font-size="8.3" text-anchor="end" fill="#231f20" font-weight="normal">0.25</text>
<line x1="480.00" y1="408.30" x2="480.00" y2="410.60" stroke="#3c3c3c" stroke-width="0.8" stroke-linecap="butt"/>
<text x="480.00" y="420.30" font-size="8.3" text-anchor="middle" fill="#231f20" font-weight="normal">−200</text>
<line x1="521.25" y1="408.30" x2="521.25" y2="410.60" stroke="#3c3c3c" stroke-width="0.8" stroke-linecap="butt"/>
<text x="521.25" y="420.30" font-size="8.3" text-anchor="middle" fill="#231f20" font-weight="normal">−100</text>
<line x1="562.50" y1="408.30" x2="562.50" y2="410.60" stroke="#3c3c3c" stroke-width="0.8" stroke-linecap="butt"/>
<text x="562.50" y="420.30" font-size="8.3" text-anchor="middle" fill="#231f20" font-weight="normal">0</text>
<line x1="603.75" y1="408.30" x2="603.75" y2="410.60" stroke="#3c3c3c" stroke-width="0.8" stroke-linecap="butt"/>
<text x="603.75" y="420.30" font-size="8.3" text-anchor="middle" fill="#231f20" font-weight="normal">100</text>
<line x1="645.00" y1="408.30" x2="645.00" y2="410.60" stroke="#3c3c3c" stroke-width="0.8" stroke-linecap="butt"/>
<text x="645.00" y="420.30" font-size="8.3" text-anchor="middle" fill="#231f20" font-weight="normal">200</text>
<text x="562.60" y="433.00" font-size="8.3" text-anchor="middle" fill="#231f20" font-weight="normal">Cleavage site</text>
<text x="451.90" y="317.40" font-size="8.3" text-anchor="middle" fill="#231f20" font-weight="normal" transform="rotate(-90 451.90 317.40)">PhastCons conservation score</text>
<polyline points="479.90,359.50 482.45,358.99 485.00,359.80 487.10,360.66 489.20,360.74 491.30,360.50 493.20,359.49 495.10,359.36 497.00,358.80 499.50,359.11 502.00,359.60 504.13,359.11 506.27,358.59 508.40,357.30 510.27,356.97 512.13,357.25 514.00,358.50 516.00,358.94 518.00,358.05 520.00,358.00 521.83,358.62 523.65,357.40 525.47,358.35 527.30,358.60 529.15,359.60 531.00,359.80 532.95,359.66 534.90,360.50 537.45,360.05 540.00,358.00 542.10,357.96 544.20,355.62 546.30,355.70 548.15,354.25 550.00,354.50 553.00,352.00 555.50,347.00 556.70,345.00 558.00,350.00 559.60,358.60 562.30,359.12 565.00,359.50 567.50,360.54 570.00,360.00 571.80,359.99 573.60,359.89 575.40,360.46 577.20,359.95 579.00,361.00 580.80,360.60 582.60,361.09 584.40,361.29 586.20,360.92 588.00,361.50 590.00,361.20 592.00,361.35 594.00,361.97 596.00,361.84 598.00,362.40 599.80,361.66 601.60,363.25 603.40,362.86 605.20,363.14 607.00,363.00 608.98,362.69 610.96,364.41 612.94,364.43 614.92,363.36 616.90,364.30 618.92,363.80 620.95,364.30 622.98,364.08 625.00,363.50 627.37,364.55 629.73,363.89 632.10,364.30 634.07,364.96 636.03,364.74 638.00,364.50 640.13,364.38 642.27,365.12 644.40,365.20" fill="none" stroke="#b0d9ec" stroke-width="1.4" stroke-linejoin="round" stroke-linecap="round"/>
<polyline points="479.90,336.80 481.80,337.35 483.70,336.70 485.60,334.90 488.40,342.50 491.30,335.80 494.00,337.00 497.00,337.70 499.00,335.70 501.00,336.00 503.25,334.37 505.50,334.90 508.00,337.00 511.20,340.60 513.10,339.17 515.00,336.00 518.00,338.00 519.80,337.06 521.60,334.90 523.80,336.14 526.00,336.50 528.00,335.50 530.00,335.50 532.45,334.98 534.90,333.90 538.00,336.00 540.25,337.63 542.50,338.70 544.40,333.21 546.30,327.30 549.00,325.00 551.10,323.50 553.00,318.00 554.80,315.00 557.70,317.80 558.60,327.30 560.00,329.20 562.40,333.00 564.70,342.50 566.00,340.00 568.50,336.80 570.00,333.00 573.30,329.20 576.00,332.00 579.00,335.80 580.90,334.91 582.80,335.62 584.70,335.80 588.00,338.00 591.30,343.40 593.70,342.67 596.10,342.50 597.95,344.98 599.80,346.30 603.00,343.00 605.50,340.60 609.00,344.00 611.55,347.84 614.10,349.10 616.55,348.72 619.00,346.00 620.83,345.25 622.67,344.12 624.50,343.40 627.00,348.00 630.20,352.90 632.55,348.50 634.90,345.30 638.00,349.00 641.00,347.00 643.50,351.00 645.00,352.00" fill="none" stroke="#1d5c9b" stroke-width="1.4" stroke-linejoin="round" stroke-linecap="round"/>
<polyline points="479.90,311.70 482.50,313.50 485.60,315.00 489.00,312.00 491.10,310.22 493.20,309.80 495.10,312.01 497.00,314.00 499.35,315.11 501.70,316.90 505.00,315.00 508.40,313.00 510.20,309.77 512.00,306.00 514.00,302.73 516.00,298.80 518.80,305.50 522.00,303.00 524.20,300.92 526.40,301.10 529.20,303.60 532.00,296.00 534.00,290.90 536.00,294.00 538.70,295.40 541.00,292.00 544.40,288.40 547.00,284.00 550.10,276.00 553.00,264.70 555.80,251.80 557.20,262.00 558.60,278.00 560.00,279.80 562.40,289.30 564.70,305.50 567.00,300.00 570.40,292.80 573.30,296.90 575.00,308.00 577.10,319.70 579.45,323.18 581.80,329.20 584.00,331.00 586.60,335.80 590.00,335.00 592.10,336.78 594.20,336.80 596.10,336.77 598.00,338.00 599.85,338.61 601.70,340.60 605.00,338.00 607.15,340.09 609.30,339.60 611.15,340.72 613.00,342.00 614.95,344.07 616.90,344.40 620.00,341.00 622.25,342.14 624.50,343.40 626.75,343.06 629.00,342.00 631.50,341.79 634.00,343.40 636.00,342.55 638.00,341.00 639.80,340.81 641.60,338.70 644.40,342.50" fill="none" stroke="#2c98dc" stroke-width="1.4" stroke-linejoin="round" stroke-linecap="round"/>
<rect x="479.50" y="234.40" width="165.80" height="173.90" fill="none" stroke="#3c3c3c" stroke-width="0.9"/>
<line x1="598.90" y1="257.10" x2="609.30" y2="257.10" stroke="#1d5c9b" stroke-width="1.4" stroke-linecap="butt"/>
<text x="613.10" y="260.10" font-size="8.3" text-anchor="start" fill="#231f20" font-weight="normal">5′IpA</text>
<line x1="598.90" y1="267.50" x2="609.30" y2="267.50" stroke="#2c98dc" stroke-width="1.4" stroke-linecap="butt"/>
<text x="613.10" y="270.50" font-size="8.3" text-anchor="start" fill="#231f20" font-weight="normal">3′IpA</text>
<line x1="598.90" y1="278.00" x2="609.30" y2="278.00" stroke="#b0d9ec" stroke-width="1.4" stroke-linecap="butt"/>
<text x="613.10" y="281.00" font-size="8.3" text-anchor="start" fill="#231f20" font-weight="normal">No IpA</text>
<text x="224.00" y="480.00" font-size="14" text-anchor="start" fill="#000" font-weight="bold">h</text>
<line x1="254.60" y1="657.10" x2="257.10" y2="657.10" stroke="#3c3c3c" stroke-width="0.8" stroke-linecap="butt"/>
<text x="252.30" y="660.00" font-size="8.3" text-anchor="end" fill="#231f20" font-weight="normal">0.0</text>
<line x1="254.60" y1="616.07" x2="257.10" y2="616.07" stroke="#3c3c3c" stroke-width="0.8" stroke-linecap="butt"/>
<text x="252.30" y="618.97" font-size="8.3" text-anchor="end" fill="#231f20" font-weight="normal">0.5</text>
<line x1="254.60" y1="575.04" x2="257.10" y2="575.04" stroke="#3c3c3c" stroke-width="0.8" stroke-linecap="butt"/>
<text x="252.30" y="577.94" font-size="8.3" text-anchor="end" fill="#231f20" font-weight="normal">1.0</text>
<line x1="254.60" y1="534.01" x2="257.10" y2="534.01" stroke="#3c3c3c" stroke-width="0.8" stroke-linecap="butt"/>
<text x="252.30" y="536.91" font-size="8.3" text-anchor="end" fill="#231f20" font-weight="normal">1.5</text>
<line x1="254.60" y1="492.98" x2="257.10" y2="492.98" stroke="#3c3c3c" stroke-width="0.8" stroke-linecap="butt"/>
<text x="252.30" y="495.88" font-size="8.3" text-anchor="end" fill="#231f20" font-weight="normal">2.0</text>
<line x1="264.60" y1="657.10" x2="264.60" y2="659.40" stroke="#3c3c3c" stroke-width="0.8" stroke-linecap="butt"/>
<line x1="305.70" y1="657.10" x2="305.70" y2="659.40" stroke="#3c3c3c" stroke-width="0.8" stroke-linecap="butt"/>
<line x1="347.00" y1="657.10" x2="347.00" y2="659.40" stroke="#3c3c3c" stroke-width="0.8" stroke-linecap="butt"/>
<line x1="388.40" y1="657.10" x2="388.40" y2="659.40" stroke="#3c3c3c" stroke-width="0.8" stroke-linecap="butt"/>
<line x1="429.50" y1="657.10" x2="429.50" y2="659.40" stroke="#3c3c3c" stroke-width="0.8" stroke-linecap="butt"/>
<line x1="264.60" y1="484.60" x2="264.60" y2="657.10" stroke="#444" stroke-width="0.6" stroke-dasharray="1,1.2" stroke-linecap="butt"/>
<line x1="429.60" y1="484.60" x2="429.60" y2="657.10" stroke="#444" stroke-width="0.6" stroke-dasharray="1,1.2" stroke-linecap="butt"/>
<text x="264.40" y="670.00" font-size="8.3" text-anchor="middle" fill="#231f20" font-weight="normal">TSS</text>
<text x="405.00" y="670.00" font-size="8.3" text-anchor="middle" fill="#231f20" font-weight="normal">3′UTR start</text>
<text x="422.00" y="495.40" font-size="8.3" text-anchor="end" fill="#231f20" font-weight="normal">AAUAAA</text>
<text x="422.00" y="504.60" font-size="8.3" text-anchor="end" fill="#231f20" font-weight="normal">AUUAAA</text>
<text x="233.00" y="571.30" font-size="8.3" text-anchor="middle" fill="#231f20" font-weight="normal" transform="rotate(-90 233.00 571.30)">Frequency of polyA signal per kb per gene</text>
<polyline points="265.90,629.50 267.00,615.00 268.50,602.30 271.10,591.80 274.60,584.80 278.10,576.00 280.80,571.70 282.50,576.00 286.00,574.30 289.50,569.00 292.10,571.70 294.30,570.22 296.50,569.90 298.70,569.48 300.90,570.80 302.70,563.80 306.20,569.00 309.70,562.90 311.85,563.57 314.00,564.70 317.50,569.90 320.15,566.54 322.80,564.70 325.40,564.60 328.00,566.40 330.37,565.88 332.73,566.72 335.10,565.50 338.60,569.90 341.20,562.90 343.10,565.31 345.00,566.40 347.33,566.68 349.67,565.19 352.00,565.50 354.65,566.03 357.30,566.40 359.45,568.11 361.60,570.80 363.80,566.13 366.00,562.90 368.65,564.68 371.30,568.20 373.45,565.37 375.60,563.80 377.80,566.94 380.00,568.20 382.65,565.42 385.30,561.20 387.90,569.90 390.10,568.37 392.30,565.50 395.80,570.80 398.40,565.50 400.60,568.36 402.80,569.90 406.30,572.50 408.90,571.83 411.50,572.50 415.00,575.20 417.65,575.63 420.30,576.90 423.00,579.50 426.40,577.80 428.20,581.30 429.90,593.60" fill="none" stroke="#b0d9ec" stroke-width="1.5" stroke-linejoin="round" stroke-linecap="round"/>
<polyline points="265.90,617.20 267.10,577.80 270.30,555.90 272.00,555.00 274.60,550.60 277.30,543.60 279.90,546.30 282.50,544.50 285.10,537.50 287.80,541.90 290.40,543.60 292.60,540.39 294.80,536.60 297.40,538.40 299.20,532.30 300.90,541.00 303.50,540.10 307.00,541.00 310.50,537.50 314.00,539.30 316.70,535.80 320.20,536.60 322.80,540.10 326.30,537.50 328.90,531.40 331.60,530.50 335.10,532.30 338.60,535.80 341.20,535.03 343.80,533.10 346.15,535.56 348.50,536.60 352.00,532.30 355.50,535.80 359.00,533.10 362.50,527.90 365.10,527.00 367.80,531.40 371.30,535.80 373.90,530.50 376.10,533.31 378.30,534.00 381.80,537.50 384.00,533.73 386.20,528.80 389.70,535.80 391.85,537.66 394.00,537.50 397.50,540.10 401.00,532.30 404.50,536.60 408.00,537.50 411.50,540.10 414.20,534.90 416.80,538.40 418.60,534.00 422.10,548.00 425.60,541.00 427.30,548.00 429.90,553.30" fill="none" stroke="#1d5c9b" stroke-width="1.7" stroke-linejoin="round" stroke-linecap="round"/>
<rect x="257.10" y="484.60" width="180.90" height="172.50" fill="none" stroke="#3c3c3c" stroke-width="0.9"/>
<line x1="341.00" y1="610.70" x2="354.00" y2="610.70" stroke="#b0d9ec" stroke-width="1.6" stroke-linecap="butt"/>
<line x1="341.00" y1="619.80" x2="354.00" y2="619.80" stroke="#1d5c9b" stroke-width="1.6" stroke-linecap="butt"/>
<text x="358.10" y="613.60" font-size="8.3" text-anchor="start" fill="#231f20" font-weight="normal">No IpA genes</text>
<text x="358.10" y="622.60" font-size="8.3" text-anchor="start" fill="#231f20" font-weight="normal">IpA genes</text>
<text x="460.60" y="479.30" font-size="14" text-anchor="start" fill="#000" font-weight="bold">i</text>
<line x1="488.90" y1="657.10" x2="491.40" y2="657.10" stroke="#3c3c3c" stroke-width="0.8" stroke-linecap="butt"/>
<text x="486.60" y="660.00" font-size="8.3" text-anchor="end" fill="#231f20" font-weight="normal">0.0</text>
<line x1="488.90" y1="608.90" x2="491.40" y2="608.90" stroke="#3c3c3c" stroke-width="0.8" stroke-linecap="butt"/>
<text x="486.60" y="611.80" font-size="8.3" text-anchor="end" fill="#231f20" font-weight="normal">0.5</text>
<line x1="488.90" y1="560.70" x2="491.40" y2="560.70" stroke="#3c3c3c" stroke-width="0.8" stroke-linecap="butt"/>
<text x="486.60" y="563.60" font-size="8.3" text-anchor="end" fill="#231f20" font-weight="normal">1.0</text>
<line x1="488.90" y1="512.50" x2="491.40" y2="512.50" stroke="#3c3c3c" stroke-width="0.8" stroke-linecap="butt"/>
<text x="486.60" y="515.40" font-size="8.3" text-anchor="end" fill="#231f20" font-weight="normal">1.5</text>
<line x1="498.00" y1="657.10" x2="498.00" y2="659.40" stroke="#3c3c3c" stroke-width="0.8" stroke-linecap="butt"/>
<line x1="539.50" y1="657.10" x2="539.50" y2="659.40" stroke="#3c3c3c" stroke-width="0.8" stroke-linecap="butt"/>
<line x1="581.00" y1="657.10" x2="581.00" y2="659.40" stroke="#3c3c3c" stroke-width="0.8" stroke-linecap="butt"/>
<line x1="622.30" y1="657.10" x2="622.30" y2="659.40" stroke="#3c3c3c" stroke-width="0.8" stroke-linecap="butt"/>
<line x1="663.60" y1="657.10" x2="663.60" y2="659.40" stroke="#3c3c3c" stroke-width="0.8" stroke-linecap="butt"/>
<line x1="498.00" y1="485.00" x2="498.00" y2="657.10" stroke="#7890ab" stroke-width="0.6" stroke-dasharray="1,1.2" stroke-linecap="butt"/>
<line x1="663.60" y1="485.00" x2="663.60" y2="657.10" stroke="#444" stroke-width="0.6" stroke-dasharray="1,1.2" stroke-linecap="butt"/>
<text x="498.20" y="670.00" font-size="8.3" text-anchor="middle" fill="#231f20" font-weight="normal">TSS</text>
<text x="635.70" y="670.00" font-size="8.3" text-anchor="middle" fill="#231f20" font-weight="normal">3′UTR start</text>
<text x="654.70" y="495.70" font-size="8.3" text-anchor="end" fill="#231f20" font-weight="normal">GGUAAG</text>
<text x="654.70" y="505.00" font-size="8.3" text-anchor="end" fill="#231f20" font-weight="normal">GGUGAG</text>
<text x="654.70" y="514.40" font-size="8.3" text-anchor="end" fill="#231f20" font-weight="normal">GUGAGU</text>
<text x="468.00" y="571.50" font-size="8.3" text-anchor="middle" fill="#231f20" font-weight="normal" transform="rotate(-90 468.00 571.50)">Frequency of U1 snRNP signal per kb per gene</text>
<polyline points="500.80,497.90 502.20,503.10 504.30,526.80 505.70,524.10 507.80,547.80 510.40,553.00 513.00,559.20 515.60,555.70 518.30,556.50 520.00,565.30 522.60,570.60 524.40,566.85 526.20,561.80 529.70,567.90 533.20,562.70 535.35,566.01 537.50,567.90 541.00,565.30 544.50,567.90 548.00,573.20 550.20,568.37 552.40,563.60 555.90,562.70 559.40,560.90 561.20,574.90 564.70,564.40 568.20,566.20 571.70,563.60 574.00,552.20 576.10,569.70 579.60,563.60 582.60,557.70 584.40,569.90 587.90,566.40 590.50,568.20 593.10,563.80 596.60,569.00 598.80,568.93 601.00,569.90 604.50,564.70 608.00,567.30 611.50,561.20 615.00,572.50 618.50,565.50 622.00,569.00 624.70,562.00 626.85,564.00 629.00,568.20 632.50,562.00 636.00,566.40 638.20,564.16 640.40,561.20 643.90,568.20 646.50,554.20 649.20,566.40 651.40,562.38 653.60,558.50 657.10,561.20 659.70,565.50 662.30,572.50 663.70,577.80" fill="none" stroke="#b0d9ec" stroke-width="1.5" stroke-linejoin="round" stroke-linecap="round"/>
<polyline points="499.40,506.60 500.40,533.80 501.60,551.30 502.90,563.60 505.10,574.10 506.90,575.80 508.60,574.90 509.50,584.60 513.00,585.40 516.50,584.60 518.30,588.10 520.00,584.60 522.60,586.30 525.30,585.40 528.80,589.80 530.50,588.10 533.20,579.30 535.80,581.90 538.40,585.40 541.00,591.60 543.70,586.30 545.85,584.58 548.00,583.70 550.70,582.80 553.30,589.80 555.90,585.40 558.50,590.70 561.15,585.46 563.80,581.90 565.60,585.40 568.20,591.60 571.70,584.60 574.30,590.70 577.80,585.40 580.00,585.70 582.60,583.00 585.30,590.00 588.80,582.20 591.40,588.30 594.00,591.80 596.60,582.20 600.10,587.40 603.60,583.90 606.30,588.30 608.45,588.21 610.60,587.40 613.30,583.00 616.80,585.70 620.30,583.00 623.80,584.80 627.30,580.40 630.80,582.20 633.40,579.50 636.00,584.80 639.50,580.40 642.15,576.32 644.80,574.30 647.40,577.80 649.20,581.30 651.80,575.20 654.40,583.00 657.10,575.20 659.70,579.50 661.70,582.69 663.70,585.70" fill="none" stroke="#1d5c9b" stroke-width="1.7" stroke-linejoin="round" stroke-linecap="round"/>
<rect x="491.40" y="485.00" width="179.90" height="172.10" fill="none" stroke="#3c3c3c" stroke-width="0.9"/>
<line x1="586.10" y1="609.30" x2="598.40" y2="609.30" stroke="#b0d9ec" stroke-width="1.6" stroke-linecap="butt"/>
<line x1="586.10" y1="619.00" x2="598.40" y2="619.00" stroke="#1d5c9b" stroke-width="1.6" stroke-linecap="butt"/>
<text x="601.90" y="612.30" font-size="8.3" text-anchor="start" fill="#231f20" font-weight="normal">No IpA genes</text>
<text x="601.90" y="621.90" font-size="8.3" text-anchor="start" fill="#231f20" font-weight="normal">IpA genes</text>
</svg></body></html>
